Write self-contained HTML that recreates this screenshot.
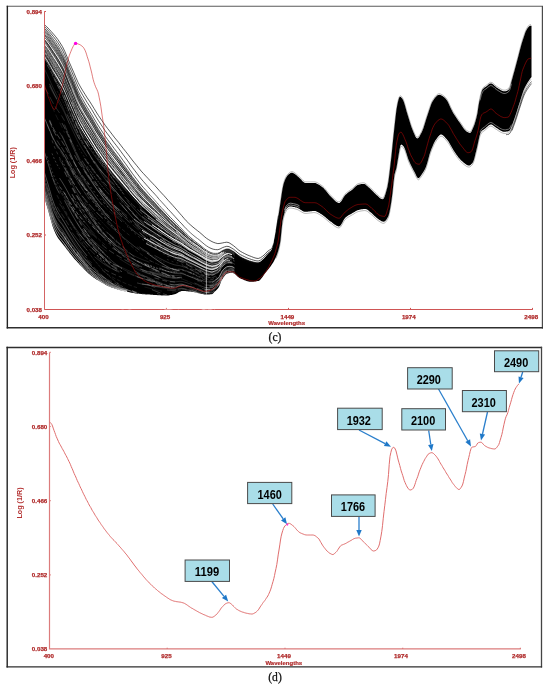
<!DOCTYPE html>
<html><head><meta charset="utf-8"><title>Spectra</title>
<style>
html,body{margin:0;padding:0;background:#fff}
svg{display:block}
.t{font-family:"Liberation Sans",sans-serif;font-weight:bold;font-size:6.2px;fill:#b02c2c;stroke:#b02c2c;stroke-width:0.25px}
.w{font-family:"Liberation Sans",sans-serif;font-weight:bold;font-size:6px;fill:#b02c2c;stroke:#b02c2c;stroke-width:0.2px}
.yl{font-family:"Liberation Sans",sans-serif;font-weight:bold;font-size:7.2px;fill:#b43232}
.cap{font-family:"Liberation Serif",serif;font-size:11.6px;fill:#111;stroke:#111;stroke-width:0.25px}
.bx{fill:#a9dde8;stroke:#4a4a4a;stroke-width:1}
.bt{font-family:"Liberation Sans",sans-serif;font-weight:bold;font-size:11.9px;fill:#000}
.ar{stroke:#2a7fcc;stroke-width:1.3;fill:none}
.ah{fill:#1f78c8}
</style></head><body>
<svg width="550" height="688" viewBox="0 0 550 688">
<rect width="550" height="688" fill="#fff"/>

<g fill="none"><path d="M6.7,6.2 H543" stroke="#5a5a5a" stroke-width="1.1"/><path d="M542.4,6 V328.4" stroke="#4a4a4a" stroke-width="1.2"/><path d="M6.7,327.8 H543" stroke="#2e2e2e" stroke-width="1.5"/><path d="M7.35,5.8 V328.4" stroke="#222" stroke-width="1.4"/></g>
<g stroke="#cf5555" stroke-width="1" fill="none">
<path d="M44.5,11.5 V309.5 H532.8"/>
<path d="M44.5,11.5 h1.5"/>
<path d="M44.5,86 h1.5"/>
<path d="M44.5,160.5 h1.5"/>
<path d="M44.5,235 h1.5"/>
<path d="M166.4,309.5 v-1.6"/>
<path d="M288.5,309.5 v-1.6"/>
<path d="M410.5,309.5 v-1.6"/>
<path d="M532.5,309.5 v-1.6"/>
</g>
<polygon points="44.5,59.4 45.5,61.0 46.5,62.6 47.5,64.2 48.5,65.8 49.5,67.5 50.5,69.3 51.5,71.1 52.5,72.8 53.5,74.5 54.5,76.1 55.5,77.7 56.5,79.3 57.5,80.9 58.5,82.4 59.5,84.0 60.5,85.7 61.5,87.3 62.5,89.1 63.5,91.1 64.5,93.2 65.5,95.5 66.5,97.8 67.5,100.1 68.5,102.4 69.5,104.8 70.5,107.0 71.5,109.2 72.5,111.4 73.5,113.7 74.5,115.9 75.5,118.2 76.5,120.3 77.5,122.4 78.5,124.4 79.5,126.3 80.5,128.1 81.5,129.8 82.5,131.5 83.5,133.1 84.5,134.6 85.5,136.2 86.5,137.7 87.5,139.2 88.5,140.7 89.5,142.2 90.5,143.8 91.5,145.3 92.5,146.8 93.5,148.4 94.5,149.9 95.5,151.4 96.5,152.9 97.5,154.4 98.5,155.8 99.5,157.2 100.5,158.6 101.5,160.0 102.5,161.4 103.5,162.7 104.5,164.0 105.5,165.3 106.5,166.6 107.5,167.8 108.5,169.0 109.5,170.2 110.5,171.4 111.5,172.6 112.5,173.8 113.5,174.9 114.5,176.0 115.5,177.2 116.5,178.3 117.5,179.4 118.5,180.5 119.5,181.6 120.5,182.8 121.5,183.9 122.5,185.1 123.5,186.2 124.5,187.4 125.5,188.5 126.5,189.7 127.5,190.8 128.5,191.9 129.5,193.1 130.5,194.2 131.5,195.3 132.5,196.5 133.5,197.6 134.5,198.7 135.5,199.8 136.5,200.8 137.5,201.9 138.5,202.9 139.5,204.0 140.5,205.0 141.5,205.9 142.5,206.9 143.5,207.8 144.5,208.7 145.5,209.6 146.5,210.5 147.5,211.4 148.5,212.3 149.5,213.2 150.5,214.1 151.5,214.9 152.5,215.8 153.5,216.7 154.5,217.6 155.5,218.5 156.5,219.4 157.5,220.3 158.5,221.2 159.5,222.1 160.5,223.0 161.5,223.8 162.5,224.7 163.5,225.6 164.5,226.5 165.5,227.3 166.5,228.2 167.5,229.0 168.5,229.9 169.5,230.7 170.5,231.5 171.5,232.3 172.5,233.1 173.5,234.0 174.5,234.7 175.5,235.5 176.5,236.2 177.5,237.0 178.5,237.7 179.5,238.4 180.5,239.2 181.5,240.0 182.5,240.8 183.5,241.7 184.5,242.6 185.5,243.4 186.5,244.3 187.5,245.1 188.5,245.9 189.5,246.6 190.5,247.4 191.5,248.1 192.5,248.7 193.5,249.4 194.5,250.1 195.5,250.8 196.5,251.5 197.5,252.1 198.5,252.8 199.5,253.5 200.5,254.2 201.5,254.9 202.5,255.6 203.5,256.3 204.5,257.0 205.5,257.7 206.5,258.3 207.5,258.8 208.5,259.3 209.5,259.7 210.5,260.1 211.5,260.3 212.5,260.4 213.5,260.2 214.5,259.9 215.5,259.7 216.5,259.5 217.5,259.2 218.5,258.7 219.5,258.0 220.5,256.9 221.5,255.8 222.5,255.0 223.5,254.2 224.5,253.6 225.5,253.0 226.5,252.6 227.5,252.4 228.5,252.4 229.5,252.6 230.5,253.0 231.5,253.4 232.5,253.8 233.5,254.4 234.5,255.2 235.5,256.0 236.5,256.9 237.5,257.7 238.5,258.5 239.5,259.2 240.5,259.8 241.5,260.3 242.5,260.9 243.5,261.4 244.5,261.8 245.5,262.3 246.5,262.7 247.5,263.1 248.5,263.5 249.5,263.8 250.5,264.1 251.5,264.3 252.5,264.6 253.5,264.8 254.5,265.0 255.5,265.2 256.5,265.3 257.5,265.3 258.5,265.3 259.5,264.9 260.5,264.3 261.5,263.4 262.5,262.3 263.5,260.9 264.5,259.4 265.5,257.9 266.5,256.3 267.5,254.8 268.5,253.5 269.5,252.4 270.5,251.4 271.5,250.3 272.5,248.9 273.5,245.8 274.5,240.8 275.5,235.5 276.5,229.4 277.5,222.7 278.5,215.8 279.5,209.0 280.5,202.6 281.5,195.6 282.5,189.1 283.5,184.2 284.5,181.2 285.5,178.7 286.5,176.9 287.5,175.6 288.5,174.6 289.5,173.7 290.5,173.0 291.5,172.7 292.5,172.8 293.5,173.2 294.5,173.8 295.5,174.5 296.5,175.3 297.5,176.2 298.5,176.9 299.5,177.9 300.5,179.0 301.5,180.1 302.5,181.2 303.5,182.1 304.5,182.8 305.5,183.0 306.5,183.0 307.5,183.0 308.5,183.0 309.5,183.0 310.5,183.0 311.5,183.0 312.5,183.0 313.5,183.0 314.5,183.0 315.5,183.1 316.5,183.4 317.5,183.9 318.5,184.4 319.5,185.1 320.5,185.8 321.5,186.5 322.5,187.2 323.5,188.1 324.5,189.2 325.5,190.3 326.5,191.6 327.5,192.8 328.5,194.0 329.5,195.2 330.5,196.2 331.5,197.2 332.5,198.2 333.5,199.2 334.5,200.3 335.5,201.2 336.5,202.0 337.5,202.6 338.5,203.0 339.5,202.9 340.5,202.1 341.5,200.9 342.5,199.3 343.5,197.6 344.5,196.0 345.5,194.8 346.5,193.9 347.5,193.1 348.5,192.3 349.5,191.6 350.5,190.9 351.5,190.2 352.5,189.5 353.5,188.6 354.5,187.6 355.5,186.6 356.5,185.8 357.5,185.1 358.5,184.7 359.5,184.5 360.5,184.2 361.5,184.1 362.5,183.9 363.5,183.9 364.5,184.1 365.5,184.6 366.5,185.4 367.5,186.3 368.5,187.2 369.5,188.0 370.5,188.9 371.5,189.9 372.5,191.0 373.5,192.0 374.5,193.0 375.5,194.0 376.5,194.9 377.5,195.8 378.5,196.7 379.5,197.7 380.5,198.4 381.5,199.0 382.5,199.3 383.5,198.8 384.5,197.0 385.5,194.1 386.5,190.6 387.5,186.8 388.5,180.9 389.5,173.2 390.5,164.6 391.5,155.9 392.5,146.1 393.5,136.0 394.5,126.7 395.5,117.8 396.5,109.5 397.5,103.9 398.5,99.8 399.5,97.1 400.5,96.8 401.5,97.7 402.5,99.0 403.5,100.9 404.5,103.9 405.5,107.5 406.5,111.2 407.5,114.5 408.5,117.8 409.5,121.1 410.5,124.3 411.5,127.3 412.5,129.8 413.5,132.2 414.5,134.6 415.5,136.7 416.5,138.1 417.5,138.5 418.5,137.8 419.5,136.5 420.5,134.6 421.5,132.7 422.5,130.6 423.5,127.9 424.5,124.7 425.5,121.4 426.5,118.2 427.5,115.2 428.5,112.2 429.5,109.2 430.5,106.2 431.5,103.6 432.5,101.6 433.5,100.1 434.5,98.6 435.5,97.3 436.5,96.2 437.5,95.3 438.5,94.9 439.5,94.8 440.5,95.1 441.5,95.5 442.5,96.1 443.5,96.8 444.5,97.6 445.5,98.5 446.5,99.7 447.5,101.3 448.5,103.3 449.5,105.5 450.5,107.7 451.5,109.8 452.5,111.8 453.5,113.4 454.5,115.0 455.5,116.5 456.5,118.0 457.5,119.5 458.5,120.9 459.5,122.3 460.5,123.7 461.5,125.2 462.5,126.7 463.5,128.2 464.5,129.5 465.5,130.6 466.5,131.4 467.5,132.0 468.5,132.6 469.5,133.0 470.5,132.8 471.5,131.5 472.5,129.3 473.5,126.9 474.5,124.4 475.5,121.2 476.5,117.4 477.5,112.9 478.5,106.0 479.5,100.6 480.5,96.0 481.5,92.1 482.5,89.6 483.5,88.4 484.5,87.6 485.5,86.9 486.5,86.2 487.5,85.4 488.5,84.5 489.5,83.8 490.5,83.4 491.5,83.4 492.5,83.9 493.5,84.7 494.5,85.7 495.5,86.6 496.5,87.4 497.5,88.0 498.5,88.7 499.5,89.3 500.5,89.9 501.5,90.5 502.5,90.9 503.5,91.2 504.5,91.3 505.5,91.2 506.5,90.9 507.5,90.4 508.5,89.7 509.5,88.5 510.5,85.3 511.5,81.4 512.5,77.9 513.5,74.3 514.5,70.7 515.5,67.0 516.5,63.3 517.5,59.6 518.5,55.7 519.5,51.8 520.5,47.9 521.5,44.3 522.5,40.9 523.5,37.9 524.5,34.9 525.5,32.1 526.5,29.9 527.5,28.2 528.5,26.9 529.5,25.9 530.5,25.8 531.5,25.8 531.5,77.0 530.5,78.3 529.5,79.7 528.5,81.2 527.5,82.7 526.5,84.4 525.5,86.2 524.5,88.2 523.5,90.6 522.5,93.4 521.5,96.5 520.5,99.8 519.5,103.0 518.5,106.0 517.5,109.2 516.5,112.4 515.5,115.6 514.5,118.6 513.5,121.3 512.5,124.0 511.5,126.7 510.5,129.1 509.5,130.7 508.5,131.2 507.5,131.4 506.5,131.6 505.5,131.8 504.5,131.8 503.5,131.7 502.5,131.4 501.5,131.0 500.5,130.5 499.5,129.9 498.5,129.2 497.5,128.5 496.5,127.9 495.5,127.3 494.5,126.6 493.5,125.8 492.5,125.0 491.5,124.6 490.5,124.5 489.5,124.9 488.5,125.5 487.5,126.4 486.5,127.3 485.5,128.2 484.5,129.0 483.5,129.7 482.5,130.3 481.5,131.2 480.5,132.7 479.5,136.0 478.5,140.5 477.5,145.3 476.5,149.6 475.5,153.6 474.5,157.7 473.5,161.1 472.5,162.9 471.5,164.1 470.5,164.9 469.5,165.4 468.5,165.5 467.5,165.2 466.5,164.7 465.5,164.1 464.5,163.3 463.5,162.5 462.5,161.6 461.5,160.7 460.5,159.8 459.5,158.6 458.5,157.4 457.5,156.1 456.5,154.7 455.5,153.2 454.5,151.8 453.5,150.3 452.5,148.5 451.5,146.7 450.5,144.9 449.5,143.2 448.5,141.6 447.5,140.2 446.5,139.1 445.5,137.9 444.5,136.7 443.5,135.7 442.5,135.0 441.5,134.6 440.5,134.6 439.5,135.2 438.5,136.2 437.5,137.5 436.5,138.9 435.5,140.3 434.5,142.1 433.5,144.1 432.5,146.4 431.5,148.8 430.5,151.4 429.5,154.6 428.5,158.3 427.5,162.0 426.5,165.3 425.5,168.0 424.5,170.0 423.5,171.8 422.5,173.3 421.5,174.7 420.5,176.2 419.5,177.5 418.5,178.2 417.5,177.8 416.5,176.2 415.5,174.1 414.5,172.0 413.5,170.2 412.5,168.3 411.5,166.3 410.5,164.3 409.5,162.1 408.5,159.7 407.5,156.8 406.5,153.5 405.5,150.4 404.5,147.9 403.5,146.3 402.5,145.3 401.5,144.6 400.5,145.2 399.5,149.6 398.5,155.6 397.5,161.5 396.5,167.5 395.5,171.0 394.5,174.5 393.5,182.2 392.5,192.4 391.5,200.2 390.5,206.5 389.5,211.9 388.5,215.7 387.5,217.7 386.5,219.4 385.5,220.7 384.5,221.5 383.5,221.8 382.5,221.6 381.5,221.2 380.5,220.6 379.5,219.9 378.5,219.2 377.5,218.5 376.5,217.7 375.5,216.8 374.5,215.9 373.5,214.9 372.5,214.0 371.5,213.1 370.5,212.3 369.5,211.4 368.5,210.5 367.5,209.8 366.5,209.2 365.5,209.0 364.5,209.0 363.5,209.1 362.5,209.2 361.5,209.3 360.5,209.5 359.5,209.7 358.5,209.9 357.5,210.2 356.5,210.7 355.5,211.2 354.5,211.9 353.5,212.5 352.5,213.1 351.5,213.7 350.5,214.2 349.5,214.8 348.5,215.3 347.5,216.0 346.5,216.7 345.5,217.5 344.5,218.7 343.5,220.3 342.5,222.2 341.5,224.0 340.5,225.4 339.5,226.3 338.5,226.4 337.5,226.1 336.5,225.7 335.5,225.1 334.5,224.4 333.5,223.7 332.5,222.9 331.5,222.1 330.5,221.5 329.5,220.7 328.5,219.9 327.5,219.0 326.5,218.2 325.5,217.3 324.5,216.4 323.5,215.7 322.5,214.9 321.5,214.3 320.5,213.7 319.5,213.0 318.5,212.4 317.5,211.9 316.5,211.4 315.5,211.1 314.5,211.0 313.5,211.0 312.5,211.1 311.5,211.2 310.5,211.3 309.5,211.5 308.5,211.6 307.5,211.7 306.5,211.8 305.5,211.8 304.5,211.7 303.5,211.4 302.5,210.9 301.5,210.3 300.5,209.7 299.5,209.1 298.5,208.5 297.5,208.0 296.5,207.6 295.5,207.4 294.5,207.1 293.5,206.9 292.5,206.7 291.5,206.5 290.5,206.4 289.5,206.5 288.5,207.0 287.5,207.8 286.5,208.9 285.5,210.5 284.5,213.1 283.5,216.6 282.5,221.1 281.5,230.1 280.5,240.3 279.5,245.8 278.5,249.7 277.5,253.0 276.5,255.7 275.5,258.0 274.5,260.0 273.5,261.9 272.5,263.6 271.5,265.1 270.5,266.5 269.5,267.8 268.5,269.0 267.5,270.3 266.5,271.5 265.5,272.7 264.5,274.0 263.5,275.5 262.5,276.9 261.5,278.3 260.5,279.5 259.5,280.4 258.5,280.9 257.5,281.1 256.5,281.3 255.5,281.5 254.5,281.6 253.5,281.7 252.5,281.8 251.5,281.8 250.5,281.8 249.5,281.7 248.5,281.5 247.5,281.3 246.5,281.0 245.5,280.6 244.5,280.2 243.5,279.8 242.5,279.3 241.5,278.9 240.5,278.4 239.5,277.9 238.5,277.3 237.5,276.4 236.5,275.5 235.5,274.6 234.5,273.8 233.5,273.2 232.5,272.8 231.5,272.7 230.5,272.8 229.5,273.0 228.5,273.2 227.5,273.5 226.5,274.0 225.5,274.8 224.5,276.0 223.5,277.3 222.5,278.9 221.5,280.6 220.5,283.2 219.5,286.0 218.5,287.7 217.5,289.0 216.5,290.0 215.5,290.9 214.5,291.8 213.5,292.9 212.5,293.9 211.5,294.2 210.5,294.3 209.5,294.4 208.5,294.5 207.5,294.5 206.5,294.5 205.5,294.5 204.5,294.4 203.5,294.3 202.5,294.1 201.5,293.9 200.5,293.7 199.5,293.5 198.5,293.2 197.5,293.0 196.5,292.7 195.5,292.5 194.5,292.3 193.5,292.1 192.5,291.9 191.5,291.8 190.5,291.6 189.5,291.5 188.5,291.4 187.5,291.3 186.5,291.2 185.5,291.1 184.5,291.0 183.5,291.0 182.5,291.0 181.5,291.1 180.5,291.4 179.5,291.8 178.5,292.3 177.5,292.9 176.5,293.4 175.5,293.9 174.5,294.3 173.5,294.5 172.5,294.7 171.5,294.9 170.5,295.1 169.5,295.3 168.5,295.4 167.5,295.5 166.5,295.5 165.5,295.5 164.5,295.5 163.5,295.5 162.5,295.4 161.5,295.4 160.5,295.3 159.5,295.3 158.5,295.2 157.5,295.2 156.5,295.1 155.5,295.0 154.5,294.9 153.5,294.9 152.5,294.8 151.5,294.7 150.5,294.7 149.5,294.6 148.5,294.5 147.5,294.5 146.5,294.4 145.5,294.4 144.5,294.3 143.5,294.3 142.5,294.2 141.5,294.1 140.5,294.0 139.5,294.0 138.5,293.8 137.5,293.7 136.5,293.6 135.5,293.4 134.5,293.2 133.5,293.1 132.5,292.9 131.5,292.7 130.5,292.5 129.5,292.3 128.5,292.0 127.5,291.8 126.5,291.6 125.5,291.4 124.5,291.2 123.5,291.0 122.5,290.7 121.5,290.5 120.5,290.2 119.5,289.9 118.5,289.6 117.5,289.4 116.5,289.1 115.5,288.8 114.5,288.4 113.5,288.1 112.5,287.8 111.5,287.4 110.5,287.0 109.5,286.6 108.5,286.2 107.5,285.7 106.5,285.2 105.5,284.7 104.5,284.1 103.5,283.6 102.5,283.0 101.5,282.4 100.5,281.8 99.5,281.2 98.5,280.6 97.5,280.0 96.5,279.4 95.5,278.7 94.5,278.0 93.5,277.4 92.5,276.6 91.5,275.9 90.5,275.1 89.5,274.3 88.5,273.4 87.5,272.4 86.5,271.5 85.5,270.5 84.5,269.5 83.5,268.5 82.5,267.5 81.5,266.5 80.5,265.4 79.5,264.4 78.5,263.3 77.5,262.2 76.5,261.1 75.5,260.0 74.5,258.9 73.5,257.7 72.5,256.5 71.5,255.3 70.5,254.1 69.5,252.9 68.5,251.6 67.5,250.2 66.5,248.9 65.5,247.5 64.5,246.2 63.5,244.9 62.5,243.7 61.5,242.5 60.5,241.3 59.5,240.1 58.5,238.8 57.5,237.2 56.5,235.4 55.5,233.4 54.5,231.2 53.5,228.7 52.5,225.9 51.5,222.6 50.5,219.0 49.5,215.4 48.5,211.7 47.5,208.3 46.5,204.9 45.5,201.4 44.5,198.0" fill="#000"/>
<g fill="none" stroke="#000" stroke-width="0.65"><path d="M44.5,24.8 L46.8,26.8 L49.0,29.1 L51.2,31.5 L53.5,34.1 L55.8,36.8 L58.0,39.7 L60.2,43.0 L62.5,46.7 L64.8,51.4 L67.0,56.7 L69.2,62.1 L71.5,67.3 L73.8,72.6 L76.0,77.8 L78.2,82.7 L80.5,87.0 L82.8,90.8 L85.0,94.3 L87.2,97.8 L89.5,101.2 L91.8,104.8 L94.0,108.4 L96.2,112.0 L98.5,115.6 L100.8,119.0 L103.0,122.2 L105.2,125.3 L107.5,128.4 L109.8,131.3 L112.0,134.2 L114.2,137.1 L116.5,139.9 L118.8,142.7 L121.0,145.6 L123.2,148.4 L125.5,151.3 L127.8,154.2 L130.0,157.1 L132.2,160.0 L134.5,162.9 L136.8,165.7 L139.0,168.4 L141.2,171.1 L143.5,173.6 L145.8,176.1 L148.0,178.4 L150.2,180.8 L152.5,183.2 L154.8,185.6 L157.0,188.0 L159.2,190.5 L161.5,193.0 L163.8,195.4 L166.0,197.9 L168.2,200.4 L170.5,202.9 L172.8,205.4 L175.0,207.9 L177.2,210.4 L179.5,213.1 L181.8,215.7 L184.0,218.3 L186.2,220.8 L188.5,223.1 L190.8,225.2 L193.0,227.1 L195.2,228.9 L197.5,230.7 L199.8,232.5 L202.0,234.4 L204.2,236.4 L206.5,238.3 L208.8,239.8 L211.0,241.1 L213.2,242.2 L215.5,243.0 L217.8,243.6 L220.0,243.4 L222.2,243.0 L224.5,242.5 L226.8,242.2 L229.0,242.7 L231.2,244.1 L233.5,245.7 L235.8,247.6 L238.0,249.6 L240.2,251.2 L242.5,252.5 L244.8,253.7 L247.0,254.8 L249.2,255.7 L251.5,256.6 L253.8,257.5 L256.0,258.2 L258.2,258.5 L260.5,257.7 L262.8,256.1 L265.0,254.2 L267.2,251.7 L269.5,250.0 L271.8,248.7 L274.0,242.8 L276.2,230.5 L278.5,215.6"/><path d="M44.5,26.7 L46.8,28.9 L49.0,31.3 L51.2,33.9 L53.5,36.7 L55.8,39.7 L58.0,42.8 L60.2,46.2 L62.5,50.1 L64.8,54.9 L67.0,60.3 L69.2,65.9 L71.5,71.2 L73.8,76.6 L76.0,82.0 L78.2,87.0 L80.5,91.3 L82.8,95.3 L85.0,98.9 L87.2,102.5 L89.5,106.0 L91.8,109.7 L94.0,113.4 L96.2,117.1 L98.5,120.8 L100.8,124.2 L103.0,127.6 L105.2,130.8 L107.5,133.9 L109.8,136.9 L112.0,139.9 L114.2,142.8 L116.5,145.7 L118.8,148.7 L121.0,151.7 L123.2,154.7 L125.5,157.8 L127.8,160.9 L130.0,164.1 L132.2,167.2 L134.5,170.2 L136.8,173.2 L139.0,176.1 L141.2,178.9 L143.5,181.6 L145.8,184.2 L148.0,186.7 L150.2,189.2 L152.5,191.7 L154.8,194.2 L157.0,196.7 L159.2,199.3 L161.5,201.8 L163.8,204.3 L166.0,206.8 L168.2,209.3 L170.5,211.7 L172.8,214.2 L175.0,216.6 L177.2,219.0 L179.5,221.5 L181.8,223.9 L184.0,226.4 L186.2,228.8 L188.5,231.0 L190.8,233.1 L193.0,235.0 L195.2,236.8 L197.5,238.5 L199.8,240.3 L202.0,242.2 L204.2,244.1 L206.5,245.8 L208.8,247.3 L211.0,248.4 L213.2,249.2 L215.5,249.6 L217.8,249.7 L220.0,249.0 L222.2,247.8 L224.5,246.9 L226.8,246.3 L229.0,246.6 L231.2,247.8 L233.5,249.2 L235.8,251.0 L238.0,252.9 L240.2,254.5 L242.5,255.7 L244.8,256.8 L247.0,257.9 L249.2,258.7 L251.5,259.5 L253.8,260.2 L256.0,260.8 L258.2,261.0 L260.5,260.1 L262.8,258.3 L265.0,256.2 L267.2,253.7 L269.5,251.9 L271.8,250.3 L274.0,244.6 L276.2,233.1 L278.5,219.0"/><path d="M44.5,28.5 L46.8,30.9 L49.0,33.5 L51.2,36.3 L53.5,39.4 L55.8,42.5 L58.0,45.8 L60.2,49.4 L62.5,53.5 L64.8,58.4 L67.0,64.0 L69.2,69.7 L71.5,75.1 L73.8,80.6 L76.0,86.1 L78.2,91.2 L80.5,95.7 L82.8,99.7 L85.0,103.5 L87.2,107.2 L89.5,110.9 L91.8,114.7 L94.0,118.5 L96.2,122.2 L98.5,125.9 L100.8,129.5 L103.0,132.9 L105.2,136.2 L107.5,139.4 L109.8,142.5 L112.0,145.5 L114.2,148.5 L116.5,151.5 L118.8,154.5 L121.0,157.5 L123.2,160.6 L125.5,163.7 L127.8,166.9 L130.0,170.1 L132.2,173.2 L134.5,176.3 L136.8,179.3 L139.0,182.2 L141.2,185.0 L143.5,187.7 L145.8,190.3 L148.0,192.8 L150.2,195.3 L152.5,197.7 L154.8,200.3 L157.0,202.8 L159.2,205.3 L161.5,207.8 L163.8,210.2 L166.0,212.7 L168.2,215.1 L170.5,217.5 L172.8,219.8 L175.0,222.1 L177.2,224.4 L179.5,226.7 L181.8,229.0 L184.0,231.4 L186.2,233.7 L188.5,235.9 L190.8,237.8 L193.0,239.7 L195.2,241.4 L197.5,243.2 L199.8,244.9 L202.0,246.8 L204.2,248.6 L206.5,250.2 L208.8,251.6 L211.0,252.6 L213.2,253.3 L215.5,253.4 L217.8,253.3 L220.0,252.3 L222.2,250.7 L224.5,249.6 L226.8,248.9 L229.0,249.0 L231.2,250.1 L233.5,251.4 L235.8,253.2 L238.0,255.1 L240.2,256.6 L242.5,257.9 L244.8,259.0 L247.0,260.0 L249.2,260.8 L251.5,261.5 L253.8,262.1 L256.0,262.7 L258.2,262.8 L260.5,261.9 L262.8,260.0 L265.0,257.8 L267.2,255.2 L269.5,253.3 L271.8,251.6 L274.0,246.1 L276.2,235.2 L278.5,221.7"/><path d="M44.5,30.0 L46.8,32.4 L49.0,35.1 L51.2,38.1 L53.5,41.3 L55.8,44.6 L58.0,48.0 L60.2,51.7 L62.5,55.9 L64.8,60.9 L67.0,66.5 L69.2,72.2 L71.5,77.7 L73.8,83.3 L76.0,88.8 L78.2,94.0 L80.5,98.5 L82.8,102.7 L85.0,106.5 L87.2,110.2 L89.5,114.0 L91.8,117.8 L94.0,121.7 L96.2,125.5 L98.5,129.3 L100.8,132.9 L103.0,136.3 L105.2,139.7 L107.5,142.9 L109.8,146.0 L112.0,149.1 L114.2,152.1 L116.5,155.1 L118.8,158.1 L121.0,161.1 L123.2,164.2 L125.5,167.2 L127.8,170.3 L130.0,173.4 L132.2,176.5 L134.5,179.5 L136.8,182.5 L139.0,185.3 L141.2,188.1 L143.5,190.7 L145.8,193.2 L148.0,195.7 L150.2,198.1 L152.5,200.5 L154.8,203.0 L157.0,205.5 L159.2,207.9 L161.5,210.3 L163.8,212.7 L166.0,215.1 L168.2,217.5 L170.5,219.8 L172.8,222.1 L175.0,224.3 L177.2,226.5 L179.5,228.7 L181.8,230.9 L184.0,233.2 L186.2,235.5 L188.5,237.6 L190.8,239.5 L193.0,241.3 L195.2,243.0 L197.5,244.7 L199.8,246.5 L202.0,248.3 L204.2,250.1 L206.5,251.7 L208.8,253.0 L211.0,254.0 L213.2,254.5 L215.5,254.6 L217.8,254.4 L220.0,253.3 L222.2,251.6 L224.5,250.4 L226.8,249.6 L229.0,249.8 L231.2,250.8 L233.5,252.0 L235.8,253.9 L238.0,255.8 L240.2,257.3 L242.5,258.5 L244.8,259.6 L247.0,260.6 L249.2,261.5 L251.5,262.1 L253.8,262.8 L256.0,263.2 L258.2,263.4 L260.5,262.4 L262.8,260.5 L265.0,258.3 L267.2,255.7 L269.5,253.8 L271.8,252.0 L274.0,246.5 L276.2,235.8 L278.5,222.6"/><path d="M44.5,61.6 L46.8,65.2 L49.0,69.1 L51.2,73.2 L53.5,77.4 L55.8,81.3 L58.0,85.1 L60.2,88.9 L62.5,93.0 L64.8,97.9 L67.0,103.2 L69.2,108.7 L71.5,113.9 L73.8,119.1 L76.0,124.2 L78.2,129.1 L80.5,133.4 L82.8,137.4 L85.0,141.1 L87.2,144.8 L89.5,148.4 L91.8,152.1 L94.0,155.7 L96.2,159.2 L98.5,162.6 L100.8,166.0 L103.0,169.2 L105.2,172.3 L107.5,175.2 L109.8,178.1 L112.0,180.9 L114.2,183.6 L116.5,186.2 L118.8,188.8 L121.0,191.4 L123.2,193.9 L125.5,196.5 L127.8,199.0 L130.0,201.6 L132.2,204.0 L134.5,206.5 L136.8,208.9 L139.0,211.1 L141.2,213.3 L143.5,215.4 L145.8,217.4 L148.0,219.3 L150.2,221.2 L152.5,223.2 L154.8,225.1 L157.0,227.0 L159.2,229.0 L161.5,230.9 L163.8,232.7 L166.0,234.6 L168.2,236.4 L170.5,238.1 L172.8,239.7 L175.0,241.3 L177.2,242.7 L179.5,244.1 L181.8,245.6 L184.0,247.4 L186.2,249.1 L188.5,250.8 L190.8,252.4 L193.0,253.8 L195.2,255.2 L197.5,256.7 L199.8,258.2 L202.0,259.6 L204.2,261.1 L206.5,262.3 L208.8,263.3 L211.0,264.0 L213.2,264.2 L215.5,263.6 L217.8,262.9 L220.0,261.1 L222.2,258.5 L224.5,256.7 L226.8,255.6 L229.0,255.5 L231.2,256.2 L233.5,257.2 L235.8,259.0 L238.0,260.9 L240.2,262.4 L242.5,263.6 L244.8,264.7 L247.0,265.6 L249.2,266.4 L251.5,266.9 L253.8,267.3 L256.0,267.6 L258.2,267.6 L260.5,266.5 L262.8,264.3 L265.0,261.9 L267.2,259.2 L269.5,257.1 L271.8,255.0 L274.0,250.0 L276.2,240.7 L278.5,229.1"/><path d="M44.5,60.9 L46.8,64.5 L49.0,68.3 L51.2,72.5 L53.5,76.7 L55.8,80.6 L58.0,84.4 L60.2,88.2 L62.5,92.3 L64.8,97.2 L67.0,102.6 L69.2,108.0 L71.5,113.2 L73.8,118.5 L76.0,123.7 L78.2,128.5 L80.5,132.9 L82.8,136.9 L85.0,140.6 L87.2,144.3 L89.5,147.9 L91.8,151.6 L94.0,155.2 L96.2,158.8 L98.5,162.2 L100.8,165.6 L103.0,168.8 L105.2,171.9 L107.5,174.9 L109.8,177.8 L112.0,180.5 L114.2,183.3 L116.5,185.9 L118.8,188.5 L121.0,191.0 L123.2,193.5 L125.5,196.1 L127.8,198.5 L130.0,201.0 L132.2,203.4 L134.5,205.8 L136.8,208.1 L139.0,210.3 L141.2,212.5 L143.5,214.5 L145.8,216.4 L148.0,218.3 L150.2,220.2 L152.5,222.1 L154.8,224.0 L157.0,225.9 L159.2,227.8 L161.5,229.6 L163.8,231.5 L166.0,233.3 L168.2,235.1 L170.5,236.8 L172.8,238.4 L175.0,240.0 L177.2,241.4 L179.5,242.8 L181.8,244.4 L184.0,246.1 L186.2,247.9 L188.5,249.6 L190.8,251.1 L193.0,252.5 L195.2,254.0 L197.5,255.4 L199.8,256.9 L202.0,258.3 L204.2,259.8 L206.5,261.1 L208.8,262.0 L211.0,262.8 L213.2,263.0 L215.5,262.5 L217.8,261.9 L220.0,260.1 L222.2,257.6 L224.5,255.9 L226.8,254.9 L229.0,254.8 L231.2,255.5 L233.5,256.6 L235.8,258.4 L238.0,260.3 L240.2,261.8 L242.5,263.0 L244.8,264.0 L247.0,265.0 L249.2,265.8 L251.5,266.3 L253.8,266.8 L256.0,267.1 L258.2,267.1 L260.5,266.0 L262.8,263.9 L265.0,261.4 L267.2,258.8 L269.5,256.7 L271.8,254.6 L274.0,249.5 L276.2,240.1 L278.5,228.2"/><path d="M44.5,60.4 L46.8,63.9 L49.0,67.8 L51.2,71.9 L53.5,76.0 L55.8,79.9 L58.0,83.7 L60.2,87.6 L62.5,91.7 L64.8,96.5 L67.0,101.9 L69.2,107.4 L71.5,112.6 L73.8,117.8 L76.0,123.0 L78.2,127.8 L80.5,132.2 L82.8,136.2 L85.0,139.9 L87.2,143.6 L89.5,147.2 L91.8,150.9 L94.0,154.5 L96.2,158.1 L98.5,161.5 L100.8,164.9 L103.0,168.1 L105.2,171.2 L107.5,174.2 L109.8,177.1 L112.0,179.8 L114.2,182.6 L116.5,185.2 L118.8,187.8 L121.0,190.3 L123.2,192.9 L125.5,195.4 L127.8,197.9 L130.0,200.4 L132.2,202.8 L134.5,205.2 L136.8,207.5 L139.0,209.8 L141.2,211.9 L143.5,213.9 L145.8,215.9 L148.0,217.8 L150.2,219.7 L152.5,221.6 L154.8,223.5 L157.0,225.4 L159.2,227.3 L161.5,229.2 L163.8,231.1 L166.0,232.9 L168.2,234.7 L170.5,236.4 L172.8,238.1 L175.0,239.6 L177.2,241.1 L179.5,242.5 L181.8,244.1 L184.0,245.8 L186.2,247.6 L188.5,249.3 L190.8,250.8 L193.0,252.3 L195.2,253.7 L197.5,255.2 L199.8,256.6 L202.0,258.1 L204.2,259.6 L206.5,260.9 L208.8,261.8 L211.0,262.6 L213.2,262.8 L215.5,262.3 L217.8,261.7 L220.0,260.0 L222.2,257.5 L224.5,255.8 L226.8,254.8 L229.0,254.7 L231.2,255.4 L233.5,256.5 L235.8,258.3 L238.0,260.2 L240.2,261.7 L242.5,262.9 L244.8,263.9 L247.0,264.9 L249.2,265.7 L251.5,266.2 L253.8,266.7 L256.0,267.0 L258.2,267.0 L260.5,265.9 L262.8,263.8 L265.0,261.4 L267.2,258.7 L269.5,256.6 L271.8,254.6 L274.0,249.5 L276.2,240.0 L278.5,228.1"/><path d="M44.5,59.8 L46.8,63.3 L49.0,67.0 L51.2,71.1 L53.5,75.2 L55.8,78.9 L58.0,82.7 L60.2,86.4 L62.5,90.5 L64.8,95.3 L67.0,100.6 L69.2,106.0 L71.5,111.1 L73.8,116.3 L76.0,121.4 L78.2,126.3 L80.5,130.6 L82.8,134.5 L85.0,138.2 L87.2,141.8 L89.5,145.4 L91.8,149.0 L94.0,152.6 L96.2,156.1 L98.5,159.5 L100.8,162.8 L103.0,166.0 L105.2,169.0 L107.5,172.0 L109.8,174.8 L112.0,177.6 L114.2,180.3 L116.5,182.9 L118.8,185.6 L121.0,188.2 L123.2,190.8 L125.5,193.4 L127.8,196.0 L130.0,198.6 L132.2,201.2 L134.5,203.7 L136.8,206.2 L139.0,208.5 L141.2,210.8 L143.5,212.9 L145.8,215.0 L148.0,217.0 L150.2,219.0 L152.5,221.0 L154.8,223.0 L157.0,225.0 L159.2,227.0 L161.5,228.9 L163.8,230.9 L166.0,232.8 L168.2,234.7 L170.5,236.4 L172.8,238.2 L175.0,239.8 L177.2,241.3 L179.5,242.8 L181.8,244.4 L184.0,246.2 L186.2,248.0 L188.5,249.7 L190.8,251.3 L193.0,252.8 L195.2,254.3 L197.5,255.7 L199.8,257.2 L202.0,258.8 L204.2,260.2 L206.5,261.5 L208.8,262.5 L211.0,263.3 L213.2,263.5 L215.5,263.0 L217.8,262.3 L220.0,260.5 L222.2,258.0 L224.5,256.3 L226.8,255.2 L229.0,255.1 L231.2,255.8 L233.5,256.9 L235.8,258.6 L238.0,260.6 L240.2,262.1 L242.5,263.2 L244.8,264.3 L247.0,265.2 L249.2,266.0 L251.5,266.5 L253.8,267.0 L256.0,267.3 L258.2,267.3 L260.5,266.2 L262.8,264.1 L265.0,261.6 L267.2,259.0 L269.5,256.9 L271.8,254.8 L274.0,249.7 L276.2,240.3 L278.5,228.6"/><path d="M44.5,58.8 L46.8,62.3 L49.0,66.0 L51.2,70.0 L53.5,74.0 L55.8,77.7 L58.0,81.4 L60.2,85.2 L62.5,89.2 L64.8,94.0 L67.0,99.3 L69.2,104.7 L71.5,109.9 L73.8,115.1 L76.0,120.2 L78.2,125.0 L80.5,129.3 L82.8,133.3 L85.0,137.0 L87.2,140.5 L89.5,144.1 L91.8,147.7 L94.0,151.3 L96.2,154.8 L98.5,158.3 L100.8,161.6 L103.0,164.8 L105.2,167.8 L107.5,170.8 L109.8,173.6 L112.0,176.4 L114.2,179.1 L116.5,181.7 L118.8,184.3 L121.0,186.9 L123.2,189.4 L125.5,192.0 L127.8,194.5 L130.0,197.1 L132.2,199.6 L134.5,202.0 L136.8,204.4 L139.0,206.7 L141.2,208.9 L143.5,211.0 L145.8,213.0 L148.0,215.0 L150.2,216.9 L152.5,218.9 L154.8,220.8 L157.0,222.8 L159.2,224.8 L161.5,226.7 L163.8,228.6 L166.0,230.5 L168.2,232.4 L170.5,234.2 L172.8,235.9 L175.0,237.5 L177.2,239.1 L179.5,240.6 L181.8,242.2 L184.0,244.1 L186.2,245.9 L188.5,247.6 L190.8,249.2 L193.0,250.7 L195.2,252.2 L197.5,253.6 L199.8,255.1 L202.0,256.7 L204.2,258.2 L206.5,259.5 L208.8,260.5 L211.0,261.3 L213.2,261.5 L215.5,261.1 L217.8,260.6 L220.0,259.0 L222.2,256.6 L224.5,255.0 L226.8,254.0 L229.0,254.0 L231.2,254.7 L233.5,255.8 L235.8,257.6 L238.0,259.5 L240.2,261.0 L242.5,262.2 L244.8,263.3 L247.0,264.2 L249.2,265.0 L251.5,265.6 L253.8,266.1 L256.0,266.4 L258.2,266.4 L260.5,265.4 L262.8,263.3 L265.0,260.9 L267.2,258.3 L269.5,256.2 L271.8,254.2 L274.0,249.0 L276.2,239.4 L278.5,227.3"/><path d="M44.5,57.8 L46.8,61.2 L49.0,64.9 L51.2,68.9 L53.5,72.9 L55.8,76.6 L58.0,80.4 L60.2,84.1 L62.5,88.2 L64.8,93.0 L67.0,98.4 L69.2,103.8 L71.5,109.0 L73.8,114.2 L76.0,119.4 L78.2,124.2 L80.5,128.6 L82.8,132.5 L85.0,136.3 L87.2,139.9 L89.5,143.5 L91.8,147.1 L94.0,150.7 L96.2,154.3 L98.5,157.7 L100.8,161.1 L103.0,164.3 L105.2,167.3 L107.5,170.3 L109.8,173.2 L112.0,176.0 L114.2,178.7 L116.5,181.4 L118.8,184.0 L121.0,186.6 L123.2,189.1 L125.5,191.7 L127.8,194.3 L130.0,196.8 L132.2,199.3 L134.5,201.8 L136.8,204.2 L139.0,206.5 L141.2,208.7 L143.5,210.8 L145.8,212.9 L148.0,214.8 L150.2,216.8 L152.5,218.7 L154.8,220.7 L157.0,222.7 L159.2,224.7 L161.5,226.6 L163.8,228.5 L166.0,230.5 L168.2,232.3 L170.5,234.1 L172.8,235.8 L175.0,237.5 L177.2,239.0 L179.5,240.6 L181.8,242.2 L184.0,244.1 L186.2,245.9 L188.5,247.6 L190.8,249.2 L193.0,250.7 L195.2,252.2 L197.5,253.7 L199.8,255.2 L202.0,256.7 L204.2,258.2 L206.5,259.5 L208.8,260.5 L211.0,261.3 L213.2,261.6 L215.5,261.2 L217.8,260.6 L220.0,259.0 L222.2,256.6 L224.5,255.0 L226.8,254.0 L229.0,254.0 L231.2,254.7 L233.5,255.8 L235.8,257.6 L238.0,259.5 L240.2,261.0 L242.5,262.2 L244.8,263.3 L247.0,264.3 L249.2,265.0 L251.5,265.6 L253.8,266.1 L256.0,266.4 L258.2,266.4 L260.5,265.4 L262.8,263.3 L265.0,260.9 L267.2,258.3 L269.5,256.2 L271.8,254.2 L274.0,249.0 L276.2,239.4 L278.5,227.3"/><path d="M44.5,55.6 L46.8,58.9 L49.0,62.4 L51.2,66.3 L53.5,70.1 L55.8,73.8 L58.0,77.4 L60.2,81.1 L62.5,85.1 L64.8,89.9 L67.0,95.2 L69.2,100.6 L71.5,105.7 L73.8,110.9 L76.0,116.0 L78.2,120.9 L80.5,125.2 L82.8,129.1 L85.0,132.7 L87.2,136.3 L89.5,139.9 L91.8,143.5 L94.0,147.1 L96.2,150.6 L98.5,154.0 L100.8,157.3 L103.0,160.5 L105.2,163.6 L107.5,166.5 L109.8,169.4 L112.0,172.2 L114.2,174.9 L116.5,177.6 L118.8,180.2 L121.0,182.9 L123.2,185.5 L125.5,188.2 L127.8,190.9 L130.0,193.6 L132.2,196.2 L134.5,198.8 L136.8,201.3 L139.0,203.8 L141.2,206.1 L143.5,208.3 L145.8,210.5 L148.0,212.5 L150.2,214.6 L152.5,216.7 L154.8,218.7 L157.0,220.8 L159.2,222.9 L161.5,224.9 L163.8,227.0 L166.0,229.0 L168.2,230.9 L170.5,232.8 L172.8,234.6 L175.0,236.3 L177.2,238.0 L179.5,239.6 L181.8,241.3 L184.0,243.2 L186.2,245.1 L188.5,246.9 L190.8,248.6 L193.0,250.1 L195.2,251.6 L197.5,253.2 L199.8,254.7 L202.0,256.3 L204.2,257.8 L206.5,259.2 L208.8,260.2 L211.0,261.0 L213.2,261.3 L215.5,260.9 L217.8,260.4 L220.0,258.8 L222.2,256.4 L224.5,254.8 L226.8,253.8 L229.0,253.8 L231.2,254.6 L233.5,255.7 L235.8,257.5 L238.0,259.4 L240.2,260.9 L242.5,262.1 L244.8,263.2 L247.0,264.1 L249.2,264.9 L251.5,265.5 L253.8,266.0 L256.0,266.3 L258.2,266.3 L260.5,265.3 L262.8,263.2 L265.0,260.8 L267.2,258.2 L269.5,256.1 L271.8,254.1 L274.0,249.0 L276.2,239.2 L278.5,227.1"/><path d="M44.5,54.4 L46.8,57.7 L49.0,61.3 L51.2,65.2 L53.5,69.1 L55.8,72.8 L58.0,76.5 L60.2,80.3 L62.5,84.4 L64.8,89.3 L67.0,94.7 L69.2,100.2 L71.5,105.4 L73.8,110.7 L76.0,115.9 L78.2,120.8 L80.5,125.2 L82.8,129.2 L85.0,132.9 L87.2,136.6 L89.5,140.2 L91.8,143.9 L94.0,147.5 L96.2,151.1 L98.5,154.6 L100.8,158.0 L103.0,161.2 L105.2,164.4 L107.5,167.4 L109.8,170.3 L112.0,173.1 L114.2,175.9 L116.5,178.6 L118.8,181.2 L121.0,183.8 L123.2,186.4 L125.5,189.0 L127.8,191.6 L130.0,194.1 L132.2,196.6 L134.5,199.1 L136.8,201.5 L139.0,203.9 L141.2,206.1 L143.5,208.2 L145.8,210.2 L148.0,212.2 L150.2,214.2 L152.5,216.2 L154.8,218.2 L157.0,220.2 L159.2,222.2 L161.5,224.1 L163.8,226.1 L166.0,228.0 L168.2,229.9 L170.5,231.8 L172.8,233.5 L175.0,235.2 L177.2,236.9 L179.5,238.5 L181.8,240.2 L184.0,242.1 L186.2,243.9 L188.5,245.7 L190.8,247.3 L193.0,248.9 L195.2,250.4 L197.5,251.9 L199.8,253.4 L202.0,254.9 L204.2,256.5 L206.5,257.8 L208.8,258.9 L211.0,259.7 L213.2,260.0 L215.5,259.7 L217.8,259.2 L220.0,257.7 L222.2,255.5 L224.5,254.0 L226.8,253.0 L229.0,253.0 L231.2,253.8 L233.5,255.0 L235.8,256.8 L238.0,258.7 L240.2,260.2 L242.5,261.4 L244.8,262.5 L247.0,263.5 L249.2,264.2 L251.5,264.8 L253.8,265.3 L256.0,265.7 L258.2,265.8 L260.5,264.7 L262.8,262.7 L265.0,260.3 L267.2,257.7 L269.5,255.7 L271.8,253.7 L274.0,248.5 L276.2,238.6 L278.5,226.3"/><path d="M44.5,54.2 L46.8,57.5 L49.0,61.0 L51.2,64.9 L53.5,68.8 L55.8,72.5 L58.0,76.2 L60.2,79.9 L62.5,84.0 L64.8,88.9 L67.0,94.3 L69.2,99.7 L71.5,104.9 L73.8,110.2 L76.0,115.4 L78.2,120.3 L80.5,124.7 L82.8,128.7 L85.0,132.4 L87.2,136.0 L89.5,139.7 L91.8,143.3 L94.0,147.0 L96.2,150.5 L98.5,154.0 L100.8,157.4 L103.0,160.6 L105.2,163.8 L107.5,166.8 L109.8,169.7 L112.0,172.5 L114.2,175.3 L116.5,178.0 L118.8,180.7 L121.0,183.3 L123.2,186.0 L125.5,188.7 L127.8,191.4 L130.0,194.0 L132.2,196.7 L134.5,199.2 L136.8,201.8 L139.0,204.2 L141.2,206.5 L143.5,208.7 L145.8,210.8 L148.0,212.9 L150.2,215.0 L152.5,217.0 L154.8,219.1 L157.0,221.1 L159.2,223.2 L161.5,225.2 L163.8,227.3 L166.0,229.2 L168.2,231.2 L170.5,233.0 L172.8,234.9 L175.0,236.6 L177.2,238.2 L179.5,239.8 L181.8,241.5 L184.0,243.5 L186.2,245.3 L188.5,247.1 L190.8,248.8 L193.0,250.3 L195.2,251.8 L197.5,253.3 L199.8,254.9 L202.0,256.4 L204.2,258.0 L206.5,259.3 L208.8,260.4 L211.0,261.2 L213.2,261.4 L215.5,261.1 L217.8,260.5 L220.0,258.9 L222.2,256.5 L224.5,254.9 L226.8,253.9 L229.0,253.9 L231.2,254.6 L233.5,255.8 L235.8,257.6 L238.0,259.5 L240.2,261.0 L242.5,262.2 L244.8,263.2 L247.0,264.2 L249.2,265.0 L251.5,265.5 L253.8,266.0 L256.0,266.4 L258.2,266.4 L260.5,265.3 L262.8,263.3 L265.0,260.9 L267.2,258.2 L269.5,256.2 L271.8,254.2 L274.0,249.0 L276.2,239.3 L278.5,227.2"/><path d="M44.5,52.9 L46.8,56.0 L49.0,59.5 L51.2,63.2 L53.5,66.9 L55.8,70.5 L58.0,74.0 L60.2,77.7 L62.5,81.6 L64.8,86.4 L67.0,91.7 L69.2,97.1 L71.5,102.2 L73.8,107.4 L76.0,112.5 L78.2,117.3 L80.5,121.6 L82.8,125.5 L85.0,129.2 L87.2,132.7 L89.5,136.3 L91.8,139.8 L94.0,143.4 L96.2,146.9 L98.5,150.4 L100.8,153.7 L103.0,156.9 L105.2,159.9 L107.5,162.9 L109.8,165.7 L112.0,168.5 L114.2,171.2 L116.5,173.9 L118.8,176.7 L121.0,179.4 L123.2,182.1 L125.5,184.9 L127.8,187.7 L130.0,190.5 L132.2,193.2 L134.5,196.0 L136.8,198.6 L139.0,201.1 L141.2,203.6 L143.5,205.9 L145.8,208.1 L148.0,210.3 L150.2,212.4 L152.5,214.6 L154.8,216.8 L157.0,218.9 L159.2,221.1 L161.5,223.2 L163.8,225.3 L166.0,227.4 L168.2,229.4 L170.5,231.4 L172.8,233.3 L175.0,235.1 L177.2,236.9 L179.5,238.6 L181.8,240.4 L184.0,242.4 L186.2,244.3 L188.5,246.2 L190.8,247.9 L193.0,249.4 L195.2,251.0 L197.5,252.6 L199.8,254.1 L202.0,255.8 L204.2,257.3 L206.5,258.7 L208.8,259.8 L211.0,260.6 L213.2,260.9 L215.5,260.6 L217.8,260.1 L220.0,258.5 L222.2,256.2 L224.5,254.6 L226.8,253.6 L229.0,253.6 L231.2,254.4 L233.5,255.5 L235.8,257.3 L238.0,259.2 L240.2,260.7 L242.5,261.9 L244.8,263.0 L247.0,263.9 L249.2,264.7 L251.5,265.3 L253.8,265.8 L256.0,266.1 L258.2,266.2 L260.5,265.1 L262.8,263.1 L265.0,260.7 L267.2,258.0 L269.5,256.0 L271.8,254.0 L274.0,248.8 L276.2,239.1 L278.5,226.9"/><path d="M44.5,51.2 L46.8,54.4 L49.0,57.8 L51.2,61.4 L53.5,65.2 L55.8,68.7 L58.0,72.3 L60.2,75.9 L62.5,79.9 L64.8,84.7 L67.0,90.1 L69.2,95.5 L71.5,100.7 L73.8,105.9 L76.0,111.1 L78.2,116.0 L80.5,120.3 L82.8,124.2 L85.0,127.9 L87.2,131.5 L89.5,135.0 L91.8,138.7 L94.0,142.3 L96.2,145.8 L98.5,149.3 L100.8,152.7 L103.0,155.9 L105.2,159.0 L107.5,161.9 L109.8,164.8 L112.0,167.6 L114.2,170.4 L116.5,173.1 L118.8,175.8 L121.0,178.6 L123.2,181.3 L125.5,184.1 L127.8,186.8 L130.0,189.6 L132.2,192.3 L134.5,195.0 L136.8,197.6 L139.0,200.2 L141.2,202.6 L143.5,204.9 L145.8,207.1 L148.0,209.3 L150.2,211.4 L152.5,213.5 L154.8,215.7 L157.0,217.9 L159.2,220.0 L161.5,222.1 L163.8,224.2 L166.0,226.3 L168.2,228.3 L170.5,230.3 L172.8,232.2 L175.0,234.1 L177.2,235.8 L179.5,237.5 L181.8,239.4 L184.0,241.4 L186.2,243.3 L188.5,245.2 L190.8,246.9 L193.0,248.5 L195.2,250.0 L197.5,251.6 L199.8,253.2 L202.0,254.8 L204.2,256.4 L206.5,257.8 L208.8,258.9 L211.0,259.7 L213.2,260.1 L215.5,259.8 L217.8,259.3 L220.0,257.8 L222.2,255.5 L224.5,254.0 L226.8,253.1 L229.0,253.1 L231.2,253.9 L233.5,255.0 L235.8,256.8 L238.0,258.7 L240.2,260.3 L242.5,261.4 L244.8,262.5 L247.0,263.5 L249.2,264.3 L251.5,264.9 L253.8,265.4 L256.0,265.8 L258.2,265.8 L260.5,264.8 L262.8,262.7 L265.0,260.3 L267.2,257.7 L269.5,255.7 L271.8,253.7 L274.0,248.5 L276.2,238.6 L278.5,226.3"/><path d="M44.5,50.1 L46.8,53.2 L49.0,56.6 L51.2,60.4 L53.5,64.2 L55.8,67.8 L58.0,71.5 L60.2,75.2 L62.5,79.3 L64.8,84.2 L67.0,89.7 L69.2,95.2 L71.5,100.5 L73.8,105.8 L76.0,111.1 L78.2,116.0 L80.5,120.4 L82.8,124.5 L85.0,128.2 L87.2,131.9 L89.5,135.5 L91.8,139.3 L94.0,142.9 L96.2,146.6 L98.5,150.1 L100.8,153.5 L103.0,156.8 L105.2,160.0 L107.5,163.0 L109.8,166.0 L112.0,168.9 L114.2,171.7 L116.5,174.4 L118.8,177.2 L121.0,179.9 L123.2,182.6 L125.5,185.4 L127.8,188.1 L130.0,190.9 L132.2,193.6 L134.5,196.2 L136.8,198.8 L139.0,201.3 L141.2,203.7 L143.5,205.9 L145.8,208.1 L148.0,210.2 L150.2,212.4 L152.5,214.5 L154.8,216.6 L157.0,218.7 L159.2,220.8 L161.5,222.9 L163.8,225.0 L166.0,227.1 L168.2,229.1 L170.5,231.0 L172.8,232.9 L175.0,234.7 L177.2,236.4 L179.5,238.1 L181.8,239.9 L184.0,241.9 L186.2,243.8 L188.5,245.6 L190.8,247.3 L193.0,248.9 L195.2,250.4 L197.5,252.0 L199.8,253.6 L202.0,255.2 L204.2,256.7 L206.5,258.1 L208.8,259.2 L211.0,260.0 L213.2,260.4 L215.5,260.1 L217.8,259.6 L220.0,258.0 L222.2,255.8 L224.5,254.2 L226.8,253.3 L229.0,253.3 L231.2,254.0 L233.5,255.2 L235.8,257.0 L238.0,258.9 L240.2,260.4 L242.5,261.6 L244.8,262.7 L247.0,263.6 L249.2,264.4 L251.5,265.0 L253.8,265.5 L256.0,265.9 L258.2,265.9 L260.5,264.9 L262.8,262.8 L265.0,260.4 L267.2,257.8 L269.5,255.8 L271.8,253.8 L274.0,248.6 L276.2,238.8 L278.5,226.5"/><path d="M44.5,49.2 L46.8,52.3 L49.0,55.6 L51.2,59.2 L53.5,62.9 L55.8,66.4 L58.0,69.9 L60.2,73.6 L62.5,77.6 L64.8,82.4 L67.0,87.7 L69.2,93.2 L71.5,98.4 L73.8,103.6 L76.0,108.8 L78.2,113.7 L80.5,118.1 L82.8,122.0 L85.0,125.7 L87.2,129.3 L89.5,132.8 L91.8,136.5 L94.0,140.1 L96.2,143.7 L98.5,147.2 L100.8,150.5 L103.0,153.8 L105.2,156.9 L107.5,159.9 L109.8,162.8 L112.0,165.6 L114.2,168.4 L116.5,171.1 L118.8,173.9 L121.0,176.6 L123.2,179.4 L125.5,182.2 L127.8,185.0 L130.0,187.8 L132.2,190.6 L134.5,193.3 L136.8,195.9 L139.0,198.5 L141.2,200.9 L143.5,203.3 L145.8,205.5 L148.0,207.7 L150.2,209.9 L152.5,212.0 L154.8,214.2 L157.0,216.4 L159.2,218.6 L161.5,220.8 L163.8,222.9 L166.0,225.0 L168.2,227.1 L170.5,229.1 L172.8,231.0 L175.0,232.9 L177.2,234.7 L179.5,236.5 L181.8,238.4 L184.0,240.4 L186.2,242.4 L188.5,244.3 L190.8,246.0 L193.0,247.6 L195.2,249.2 L197.5,250.8 L199.8,252.4 L202.0,254.0 L204.2,255.6 L206.5,257.0 L208.8,258.2 L211.0,259.0 L213.2,259.4 L215.5,259.2 L217.8,258.7 L220.0,257.2 L222.2,255.1 L224.5,253.6 L226.8,252.7 L229.0,252.7 L231.2,253.5 L233.5,254.7 L235.8,256.5 L238.0,258.4 L240.2,259.9 L242.5,261.1 L244.8,262.2 L247.0,263.1 L249.2,263.9 L251.5,264.5 L253.8,265.1 L256.0,265.4 L258.2,265.5 L260.5,264.5 L262.8,262.4 L265.0,260.1 L267.2,257.5 L269.5,255.4 L271.8,253.5 L274.0,248.3 L276.2,238.3 L278.5,225.9"/><path d="M44.5,47.7 L46.8,50.7 L49.0,54.0 L51.2,57.6 L53.5,61.2 L55.8,64.7 L58.0,68.3 L60.2,72.0 L62.5,76.0 L64.8,80.8 L67.0,86.2 L69.2,91.7 L71.5,96.9 L73.8,102.2 L76.0,107.5 L78.2,112.4 L80.5,116.7 L82.8,120.7 L85.0,124.4 L87.2,128.0 L89.5,131.6 L91.8,135.3 L94.0,138.9 L96.2,142.5 L98.5,146.0 L100.8,149.4 L103.0,152.7 L105.2,155.8 L107.5,158.8 L109.8,161.8 L112.0,164.6 L114.2,167.4 L116.5,170.2 L118.8,173.0 L121.0,175.7 L123.2,178.5 L125.5,181.3 L127.8,184.1 L130.0,186.9 L132.2,189.7 L134.5,192.4 L136.8,195.1 L139.0,197.6 L141.2,200.1 L143.5,202.4 L145.8,204.7 L148.0,206.9 L150.2,209.1 L152.5,211.2 L154.8,213.4 L157.0,215.6 L159.2,217.8 L161.5,220.0 L163.8,222.1 L166.0,224.3 L168.2,226.4 L170.5,228.4 L172.8,230.3 L175.0,232.2 L177.2,234.0 L179.5,235.9 L181.8,237.8 L184.0,239.8 L186.2,241.8 L188.5,243.7 L190.8,245.4 L193.0,247.1 L195.2,248.7 L197.5,250.2 L199.8,251.8 L202.0,253.5 L204.2,255.1 L206.5,256.5 L208.8,257.7 L211.0,258.6 L213.2,258.9 L215.5,258.7 L217.8,258.3 L220.0,256.9 L222.2,254.7 L224.5,253.3 L226.8,252.4 L229.0,252.4 L231.2,253.2 L233.5,254.4 L235.8,256.2 L238.0,258.1 L240.2,259.7 L242.5,260.8 L244.8,261.9 L247.0,262.9 L249.2,263.7 L251.5,264.3 L253.8,264.8 L256.0,265.2 L258.2,265.3 L260.5,264.3 L262.8,262.3 L265.0,259.9 L267.2,257.3 L269.5,255.3 L271.8,253.4 L274.0,248.1 L276.2,238.0 L278.5,225.6"/><path d="M44.5,46.4 L46.8,49.3 L49.0,52.5 L51.2,56.0 L53.5,59.6 L55.8,63.0 L58.0,66.5 L60.2,70.2 L62.5,74.2 L64.8,79.0 L67.0,84.4 L69.2,89.8 L71.5,95.0 L73.8,100.3 L76.0,105.6 L78.2,110.5 L80.5,114.8 L82.8,118.7 L85.0,122.4 L87.2,126.0 L89.5,129.6 L91.8,133.3 L94.0,136.9 L96.2,140.5 L98.5,144.0 L100.8,147.4 L103.0,150.7 L105.2,153.8 L107.5,156.8 L109.8,159.7 L112.0,162.6 L114.2,165.4 L116.5,168.1 L118.8,170.9 L121.0,173.7 L123.2,176.5 L125.5,179.3 L127.8,182.1 L130.0,185.0 L132.2,187.8 L134.5,190.5 L136.8,193.2 L139.0,195.8 L141.2,198.3 L143.5,200.7 L145.8,202.9 L148.0,205.2 L150.2,207.4 L152.5,209.6 L154.8,211.8 L157.0,214.0 L159.2,216.2 L161.5,218.4 L163.8,220.6 L166.0,222.8 L168.2,224.9 L170.5,226.9 L172.8,228.9 L175.0,230.9 L177.2,232.7 L179.5,234.6 L181.8,236.6 L184.0,238.6 L186.2,240.7 L188.5,242.6 L190.8,244.4 L193.0,246.0 L195.2,247.6 L197.5,249.2 L199.8,250.8 L202.0,252.5 L204.2,254.2 L206.5,255.6 L208.8,256.8 L211.0,257.7 L213.2,258.1 L215.5,257.9 L217.8,257.6 L220.0,256.2 L222.2,254.1 L224.5,252.7 L226.8,251.8 L229.0,251.9 L231.2,252.8 L233.5,254.0 L235.8,255.8 L238.0,257.7 L240.2,259.2 L242.5,260.4 L244.8,261.5 L247.0,262.5 L249.2,263.3 L251.5,263.9 L253.8,264.4 L256.0,264.8 L258.2,264.9 L260.5,263.9 L262.8,261.9 L265.0,259.6 L267.2,257.0 L269.5,255.0 L271.8,253.1 L274.0,247.8 L276.2,237.6 L278.5,225.0"/><path d="M44.5,45.1 L46.8,48.0 L49.0,51.2 L51.2,54.7 L53.5,58.3 L55.8,61.8 L58.0,65.3 L60.2,69.0 L62.5,73.0 L64.8,77.9 L67.0,83.3 L69.2,88.8 L71.5,94.1 L73.8,99.4 L76.0,104.7 L78.2,109.7 L80.5,114.0 L82.8,118.0 L85.0,121.8 L87.2,125.4 L89.5,129.0 L91.8,132.7 L94.0,136.4 L96.2,140.0 L98.5,143.6 L100.8,147.0 L103.0,150.3 L105.2,153.4 L107.5,156.5 L109.8,159.5 L112.0,162.3 L114.2,165.2 L116.5,168.0 L118.8,170.8 L121.0,173.6 L123.2,176.4 L125.5,179.2 L127.8,182.0 L130.0,184.9 L132.2,187.7 L134.5,190.4 L136.8,193.1 L139.0,195.7 L141.2,198.2 L143.5,200.6 L145.8,202.9 L148.0,205.1 L150.2,207.3 L152.5,209.5 L154.8,211.7 L157.0,214.0 L159.2,216.2 L161.5,218.4 L163.8,220.6 L166.0,222.7 L168.2,224.9 L170.5,226.9 L172.8,228.9 L175.0,230.9 L177.2,232.7 L179.5,234.6 L181.8,236.6 L184.0,238.6 L186.2,240.7 L188.5,242.6 L190.8,244.4 L193.0,246.0 L195.2,247.6 L197.5,249.2 L199.8,250.9 L202.0,252.5 L204.2,254.2 L206.5,255.6 L208.8,256.8 L211.0,257.7 L213.2,258.1 L215.5,257.9 L217.8,257.6 L220.0,256.2 L222.2,254.1 L224.5,252.7 L226.8,251.9 L229.0,251.9 L231.2,252.8 L233.5,254.0 L235.8,255.8 L238.0,257.7 L240.2,259.2 L242.5,260.4 L244.8,261.5 L247.0,262.5 L249.2,263.3 L251.5,263.9 L253.8,264.4 L256.0,264.9 L258.2,264.9 L260.5,263.9 L262.8,261.9 L265.0,259.6 L267.2,257.0 L269.5,255.0 L271.8,253.1 L274.0,247.8 L276.2,237.6 L278.5,225.0"/><path d="M44.5,42.6 L46.8,45.4 L49.0,48.5 L51.2,51.9 L53.5,55.4 L55.8,58.8 L58.0,62.3 L60.2,65.9 L62.5,70.0 L64.8,74.9 L67.0,80.3 L69.2,85.8 L71.5,91.1 L73.8,96.5 L76.0,101.8 L78.2,106.7 L80.5,111.1 L82.8,115.1 L85.0,118.8 L87.2,122.5 L89.5,126.1 L91.8,129.8 L94.0,133.5 L96.2,137.1 L98.5,140.7 L100.8,144.2 L103.0,147.4 L105.2,150.6 L107.5,153.7 L109.8,156.7 L112.0,159.6 L114.2,162.4 L116.5,165.3 L118.8,168.1 L121.0,170.9 L123.2,173.8 L125.5,176.7 L127.8,179.7 L130.0,182.6 L132.2,185.5 L134.5,188.4 L136.8,191.1 L139.0,193.8 L141.2,196.4 L143.5,198.9 L145.8,201.2 L148.0,203.5 L150.2,205.8 L152.5,208.1 L154.8,210.4 L157.0,212.7 L159.2,215.0 L161.5,217.2 L163.8,219.5 L166.0,221.7 L168.2,223.9 L170.5,226.0 L172.8,228.1 L175.0,230.1 L177.2,232.0 L179.5,234.0 L181.8,236.0 L184.0,238.1 L186.2,240.2 L188.5,242.2 L190.8,244.0 L193.0,245.6 L195.2,247.3 L197.5,248.9 L199.8,250.6 L202.0,252.3 L204.2,253.9 L206.5,255.4 L208.8,256.6 L211.0,257.5 L213.2,257.9 L215.5,257.8 L217.8,257.4 L220.0,256.1 L222.2,254.0 L224.5,252.6 L226.8,251.8 L229.0,251.8 L231.2,252.7 L233.5,253.9 L235.8,255.7 L238.0,257.6 L240.2,259.1 L242.5,260.3 L244.8,261.4 L247.0,262.4 L249.2,263.2 L251.5,263.8 L253.8,264.4 L256.0,264.8 L258.2,264.9 L260.5,263.8 L262.8,261.9 L265.0,259.5 L267.2,256.9 L269.5,254.9 L271.8,253.1 L274.0,247.8 L276.2,237.5 L278.5,224.9"/><path d="M44.5,41.0 L46.8,43.9 L49.0,47.0 L51.2,50.4 L53.5,54.0 L55.8,57.5 L58.0,61.1 L60.2,64.9 L62.5,69.0 L64.8,74.0 L67.0,79.5 L69.2,85.2 L71.5,90.6 L73.8,96.1 L76.0,101.5 L78.2,106.5 L80.5,111.0 L82.8,115.1 L85.0,119.0 L87.2,122.7 L89.5,126.4 L91.8,130.2 L94.0,134.0 L96.2,137.7 L98.5,141.4 L100.8,144.9 L103.0,148.3 L105.2,151.5 L107.5,154.7 L109.8,157.7 L112.0,160.7 L114.2,163.6 L116.5,166.5 L118.8,169.3 L121.0,172.2 L123.2,175.0 L125.5,177.9 L127.8,180.7 L130.0,183.5 L132.2,186.4 L134.5,189.1 L136.8,191.8 L139.0,194.4 L141.2,196.9 L143.5,199.3 L145.8,201.6 L148.0,203.8 L150.2,206.0 L152.5,208.2 L154.8,210.5 L157.0,212.7 L159.2,214.9 L161.5,217.1 L163.8,219.3 L166.0,221.5 L168.2,223.6 L170.5,225.7 L172.8,227.7 L175.0,229.7 L177.2,231.6 L179.5,233.5 L181.8,235.5 L184.0,237.6 L186.2,239.7 L188.5,241.6 L190.8,243.4 L193.0,245.1 L195.2,246.7 L197.5,248.3 L199.8,249.9 L202.0,251.6 L204.2,253.3 L206.5,254.7 L208.8,255.9 L211.0,256.8 L213.2,257.3 L215.5,257.2 L217.8,256.8 L220.0,255.5 L222.2,253.6 L224.5,252.2 L226.8,251.3 L229.0,251.4 L231.2,252.3 L233.5,253.5 L235.8,255.3 L238.0,257.2 L240.2,258.8 L242.5,260.0 L244.8,261.1 L247.0,262.0 L249.2,262.9 L251.5,263.5 L253.8,264.1 L256.0,264.5 L258.2,264.6 L260.5,263.6 L262.8,261.6 L265.0,259.3 L267.2,256.7 L269.5,254.7 L271.8,252.9 L274.0,247.5 L276.2,237.2 L278.5,224.4"/><path d="M44.5,40.0 L46.8,42.8 L49.0,45.9 L51.2,49.2 L53.5,52.8 L55.8,56.3 L58.0,59.8 L60.2,63.6 L62.5,67.8 L64.8,72.8 L67.0,78.3 L69.2,84.0 L71.5,89.4 L73.8,94.9 L76.0,100.3 L78.2,105.4 L80.5,109.9 L82.8,114.0 L85.0,117.8 L87.2,121.5 L89.5,125.3 L91.8,129.1 L94.0,132.9 L96.2,136.6 L98.5,140.3 L100.8,143.8 L103.0,147.2 L105.2,150.5 L107.5,153.6 L109.8,156.7 L112.0,159.7 L114.2,162.6 L116.5,165.5 L118.8,168.3 L121.0,171.2 L123.2,174.0 L125.5,176.9 L127.8,179.8 L130.0,182.6 L132.2,185.4 L134.5,188.2 L136.8,190.9 L139.0,193.5 L141.2,196.0 L143.5,198.4 L145.8,200.7 L148.0,203.0 L150.2,205.2 L152.5,207.4 L154.8,209.7 L157.0,211.9 L159.2,214.2 L161.5,216.4 L163.8,218.6 L166.0,220.8 L168.2,222.9 L170.5,225.0 L172.8,227.1 L175.0,229.1 L177.2,231.0 L179.5,232.9 L181.8,234.9 L184.0,237.1 L186.2,239.1 L188.5,241.1 L190.8,242.9 L193.0,244.6 L195.2,246.2 L197.5,247.8 L199.8,249.4 L202.0,251.1 L204.2,252.8 L206.5,254.3 L208.8,255.5 L211.0,256.4 L213.2,256.9 L215.5,256.8 L217.8,256.5 L220.0,255.2 L222.2,253.3 L224.5,251.9 L226.8,251.1 L229.0,251.2 L231.2,252.1 L233.5,253.3 L235.8,255.1 L238.0,257.0 L240.2,258.6 L242.5,259.8 L244.8,260.9 L247.0,261.8 L249.2,262.7 L251.5,263.3 L253.8,263.9 L256.0,264.3 L258.2,264.4 L260.5,263.4 L262.8,261.4 L265.0,259.1 L267.2,256.5 L269.5,254.6 L271.8,252.7 L274.0,247.4 L276.2,237.0 L278.5,224.2"/><path d="M44.5,39.7 L46.8,42.4 L49.0,45.5 L51.2,48.8 L53.5,52.2 L55.8,55.6 L58.0,59.0 L60.2,62.7 L62.5,66.8 L64.8,71.7 L67.0,77.2 L69.2,82.8 L71.5,88.1 L73.8,93.5 L76.0,98.9 L78.2,103.9 L80.5,108.4 L82.8,112.4 L85.0,116.2 L87.2,119.8 L89.5,123.5 L91.8,127.2 L94.0,131.0 L96.2,134.7 L98.5,138.3 L100.8,141.8 L103.0,145.1 L105.2,148.3 L107.5,151.4 L109.8,154.4 L112.0,157.4 L114.2,160.3 L116.5,163.1 L118.8,166.0 L121.0,168.8 L123.2,171.7 L125.5,174.6 L127.8,177.5 L130.0,180.4 L132.2,183.3 L134.5,186.1 L136.8,188.9 L139.0,191.6 L141.2,194.1 L143.5,196.6 L145.8,198.9 L148.0,201.2 L150.2,203.5 L152.5,205.7 L154.8,208.0 L157.0,210.3 L159.2,212.6 L161.5,214.9 L163.8,217.2 L166.0,219.4 L168.2,221.6 L170.5,223.7 L172.8,225.8 L175.0,227.9 L177.2,229.9 L179.5,231.8 L181.8,233.9 L184.0,236.1 L186.2,238.2 L188.5,240.2 L190.8,242.0 L193.0,243.7 L195.2,245.4 L197.5,247.0 L199.8,248.7 L202.0,250.4 L204.2,252.1 L206.5,253.6 L208.8,254.8 L211.0,255.8 L213.2,256.3 L215.5,256.2 L217.8,255.9 L220.0,254.7 L222.2,252.8 L224.5,251.5 L226.8,250.7 L229.0,250.8 L231.2,251.7 L233.5,253.0 L235.8,254.8 L238.0,256.7 L240.2,258.2 L242.5,259.4 L244.8,260.5 L247.0,261.5 L249.2,262.3 L251.5,263.0 L253.8,263.6 L256.0,264.0 L258.2,264.1 L260.5,263.1 L262.8,261.2 L265.0,258.9 L267.2,256.3 L269.5,254.3 L271.8,252.5 L274.0,247.2 L276.2,236.7 L278.5,223.8"/><path d="M44.5,37.2 L46.8,39.9 L49.0,42.8 L51.2,46.0 L53.5,49.3 L55.8,52.6 L58.0,56.1 L60.2,59.7 L62.5,63.8 L64.8,68.7 L67.0,74.2 L69.2,79.8 L71.5,85.1 L73.8,90.6 L76.0,95.9 L78.2,101.0 L80.5,105.4 L82.8,109.4 L85.0,113.2 L87.2,116.8 L89.5,120.5 L91.8,124.3 L94.0,128.0 L96.2,131.7 L98.5,135.3 L100.8,138.8 L103.0,142.2 L105.2,145.4 L107.5,148.5 L109.8,151.6 L112.0,154.5 L114.2,157.4 L116.5,160.3 L118.8,163.2 L121.0,166.2 L123.2,169.1 L125.5,172.1 L127.8,175.2 L130.0,178.2 L132.2,181.2 L134.5,184.2 L136.8,187.0 L139.0,189.8 L141.2,192.5 L143.5,195.1 L145.8,197.5 L148.0,199.9 L150.2,202.3 L152.5,204.6 L154.8,207.0 L157.0,209.4 L159.2,211.8 L161.5,214.1 L163.8,216.5 L166.0,218.8 L168.2,221.1 L170.5,223.3 L172.8,225.4 L175.0,227.6 L177.2,229.6 L179.5,231.7 L181.8,233.8 L184.0,236.0 L186.2,238.2 L188.5,240.2 L190.8,242.1 L193.0,243.8 L195.2,245.5 L197.5,247.2 L199.8,248.9 L202.0,250.6 L204.2,252.4 L206.5,253.9 L208.8,255.1 L211.0,256.1 L213.2,256.6 L215.5,256.5 L217.8,256.2 L220.0,255.0 L222.2,253.1 L224.5,251.7 L226.8,250.9 L229.0,251.0 L231.2,251.9 L233.5,253.1 L235.8,255.0 L238.0,256.9 L240.2,258.4 L242.5,259.6 L244.8,260.7 L247.0,261.7 L249.2,262.5 L251.5,263.1 L253.8,263.7 L256.0,264.2 L258.2,264.3 L260.5,263.3 L262.8,261.3 L265.0,259.0 L267.2,256.4 L269.5,254.5 L271.8,252.6 L274.0,247.3 L276.2,236.9 L278.5,224.0"/><path d="M44.5,35.5 L46.8,38.1 L49.0,41.0 L51.2,44.2 L53.5,47.6 L55.8,50.9 L58.0,54.4 L60.2,58.1 L62.5,62.2 L64.8,67.2 L67.0,72.8 L69.2,78.5 L71.5,83.9 L73.8,89.4 L76.0,94.8 L78.2,99.9 L80.5,104.4 L82.8,108.5 L85.0,112.3 L87.2,116.0 L89.5,119.7 L91.8,123.5 L94.0,127.3 L96.2,131.1 L98.5,134.8 L100.8,138.3 L103.0,141.7 L105.2,145.0 L107.5,148.2 L109.8,151.3 L112.0,154.3 L114.2,157.2 L116.5,160.1 L118.8,163.1 L121.0,166.0 L123.2,168.9 L125.5,171.9 L127.8,174.9 L130.0,177.9 L132.2,180.8 L134.5,183.7 L136.8,186.5 L139.0,189.3 L141.2,191.9 L143.5,194.4 L145.8,196.8 L148.0,199.2 L150.2,201.5 L152.5,203.8 L154.8,206.2 L157.0,208.5 L159.2,210.9 L161.5,213.2 L163.8,215.5 L166.0,217.8 L168.2,220.1 L170.5,222.3 L172.8,224.4 L175.0,226.6 L177.2,228.6 L179.5,230.7 L181.8,232.8 L184.0,235.0 L186.2,237.2 L188.5,239.2 L190.8,241.1 L193.0,242.8 L195.2,244.5 L197.5,246.2 L199.8,247.9 L202.0,249.6 L204.2,251.3 L206.5,252.9 L208.8,254.1 L211.0,255.1 L213.2,255.6 L215.5,255.6 L217.8,255.4 L220.0,254.2 L222.2,252.4 L224.5,251.1 L226.8,250.3 L229.0,250.4 L231.2,251.4 L233.5,252.6 L235.8,254.4 L238.0,256.4 L240.2,257.9 L242.5,259.1 L244.8,260.2 L247.0,261.2 L249.2,262.0 L251.5,262.7 L253.8,263.3 L256.0,263.7 L258.2,263.8 L260.5,262.9 L262.8,260.9 L265.0,258.7 L267.2,256.1 L269.5,254.1 L271.8,252.3 L274.0,246.9 L276.2,236.4 L278.5,223.3"/><path d="M44.5,34.4 L46.8,37.0 L49.0,39.8 L51.2,42.9 L53.5,46.2 L55.8,49.5 L58.0,52.9 L60.2,56.6 L62.5,60.7 L64.8,65.6 L67.0,71.2 L69.2,76.8 L71.5,82.2 L73.8,87.7 L76.0,93.1 L78.2,98.2 L80.5,102.7 L82.8,106.8 L85.0,110.6 L87.2,114.3 L89.5,118.0 L91.8,121.7 L94.0,125.5 L96.2,129.3 L98.5,133.0 L100.8,136.5 L103.0,139.9 L105.2,143.1 L107.5,146.3 L109.8,149.4 L112.0,152.4 L114.2,155.3 L116.5,158.2 L118.8,161.2 L121.0,164.1 L123.2,167.0 L125.5,170.0 L127.8,173.0 L130.0,176.0 L132.2,179.0 L134.5,181.9 L136.8,184.7 L139.0,187.5 L141.2,190.1 L143.5,192.6 L145.8,195.1 L148.0,197.4 L150.2,199.8 L152.5,202.1 L154.8,204.5 L157.0,206.9 L159.2,209.2 L161.5,211.6 L163.8,213.9 L166.0,216.2 L168.2,218.5 L170.5,220.7 L172.8,222.9 L175.0,225.1 L177.2,227.2 L179.5,229.3 L181.8,231.5 L184.0,233.7 L186.2,235.9 L188.5,238.0 L190.8,239.9 L193.0,241.6 L195.2,243.3 L197.5,245.0 L199.8,246.7 L202.0,248.5 L204.2,250.2 L206.5,251.8 L208.8,253.1 L211.0,254.1 L213.2,254.6 L215.5,254.7 L217.8,254.5 L220.0,253.4 L222.2,251.7 L224.5,250.5 L226.8,249.7 L229.0,249.8 L231.2,250.8 L233.5,252.1 L235.8,253.9 L238.0,255.8 L240.2,257.4 L242.5,258.6 L244.8,259.7 L247.0,260.7 L249.2,261.5 L251.5,262.2 L253.8,262.8 L256.0,263.3 L258.2,263.4 L260.5,262.4 L262.8,260.5 L265.0,258.3 L267.2,255.7 L269.5,253.8 L271.8,252.0 L274.0,246.6 L276.2,235.9 L278.5,222.7"/><path d="M44.5,32.8 L46.8,35.4 L49.0,38.2 L51.2,41.3 L53.5,44.5 L55.8,47.9 L58.0,51.3 L60.2,55.0 L62.5,59.2 L64.8,64.2 L67.0,69.8 L69.2,75.5 L71.5,80.9 L73.8,86.5 L76.0,92.0 L78.2,97.1 L80.5,101.6 L82.8,105.7 L85.0,109.6 L87.2,113.3 L89.5,117.0 L91.8,120.9 L94.0,124.7 L96.2,128.5 L98.5,132.2 L100.8,135.8 L103.0,139.2 L105.2,142.5 L107.5,145.7 L109.8,148.8 L112.0,151.8 L114.2,154.8 L116.5,157.8 L118.8,160.8 L121.0,163.8 L123.2,166.8 L125.5,169.9 L127.8,173.0 L130.0,176.1 L132.2,179.1 L134.5,182.1 L136.8,185.1 L139.0,187.9 L141.2,190.7 L143.5,193.3 L145.8,195.8 L148.0,198.2 L150.2,200.6 L152.5,203.0 L154.8,205.5 L157.0,207.9 L159.2,210.3 L161.5,212.7 L163.8,215.1 L166.0,217.5 L168.2,219.8 L170.5,222.1 L172.8,224.3 L175.0,226.5 L177.2,228.6 L179.5,230.7 L181.8,232.9 L184.0,235.1 L186.2,237.3 L188.5,239.4 L190.8,241.3 L193.0,243.1 L195.2,244.8 L197.5,246.5 L199.8,248.2 L202.0,250.0 L204.2,251.7 L206.5,253.3 L208.8,254.6 L211.0,255.5 L213.2,256.1 L215.5,256.0 L217.8,255.8 L220.0,254.5 L222.2,252.7 L224.5,251.4 L226.8,250.6 L229.0,250.7 L231.2,251.6 L233.5,252.9 L235.8,254.7 L238.0,256.6 L240.2,258.1 L242.5,259.3 L244.8,260.4 L247.0,261.4 L249.2,262.2 L251.5,262.9 L253.8,263.5 L256.0,263.9 L258.2,264.0 L260.5,263.0 L262.8,261.1 L265.0,258.8 L267.2,256.2 L269.5,254.3 L271.8,252.5 L274.0,247.1 L276.2,236.6 L278.5,223.6"/><path d="M44.5,31.2 L46.8,33.7 L49.0,36.5 L51.2,39.5 L53.5,42.7 L55.8,46.0 L58.0,49.5 L60.2,53.2 L62.5,57.3 L64.8,62.4 L67.0,68.0 L69.2,73.7 L71.5,79.2 L73.8,84.7 L76.0,90.3 L78.2,95.4 L80.5,100.0 L82.8,104.1 L85.0,107.9 L87.2,111.7 L89.5,115.4 L91.8,119.3 L94.0,123.1 L96.2,126.9 L98.5,130.7 L100.8,134.3 L103.0,137.7 L105.2,141.0 L107.5,144.2 L109.8,147.4 L112.0,150.4 L114.2,153.4 L116.5,156.4 L118.8,159.4 L121.0,162.4 L123.2,165.4 L125.5,168.4 L127.8,171.5 L130.0,174.5 L132.2,177.5 L134.5,180.5 L136.8,183.4 L139.0,186.2 L141.2,188.9 L143.5,191.5 L145.8,193.9 L148.0,196.4 L150.2,198.8 L152.5,201.1 L154.8,203.6 L157.0,206.0 L159.2,208.4 L161.5,210.8 L163.8,213.2 L166.0,215.5 L168.2,217.8 L170.5,220.1 L172.8,222.3 L175.0,224.5 L177.2,226.7 L179.5,228.8 L181.8,231.1 L184.0,233.4 L186.2,235.6 L188.5,237.7 L190.8,239.6 L193.0,241.3 L195.2,243.1 L197.5,244.8 L199.8,246.5 L202.0,248.3 L204.2,250.0 L206.5,251.6 L208.8,252.9 L211.0,253.9 L213.2,254.5 L215.5,254.5 L217.8,254.4 L220.0,253.3 L222.2,251.6 L224.5,250.4 L226.8,249.6 L229.0,249.8 L231.2,250.8 L233.5,252.0 L235.8,253.8 L238.0,255.8 L240.2,257.3 L242.5,258.5 L244.8,259.6 L247.0,260.6 L249.2,261.4 L251.5,262.1 L253.8,262.7 L256.0,263.2 L258.2,263.3 L260.5,262.4 L262.8,260.5 L265.0,258.2 L267.2,255.7 L269.5,253.7 L271.8,252.0 L274.0,246.5 L276.2,235.8 L278.5,222.6"/></g>
<g fill="none" stroke="#fff"><path d="M94.5,134.0 L97.0,138.6 L99.5,143.0 L102.0,147.2 L104.5,151.3 L107.0,155.2 L109.5,159.0 L112.0,162.6 L114.5,166.2 L117.0,169.7" stroke-opacity="0.55" stroke-width="0.4"/><path d="M132.0,263.8 L134.5,265.4 L137.0,266.9 L139.5,268.2 L142.0,269.5 L144.5,270.6 L147.0,271.7" stroke-opacity="0.51" stroke-width="0.3" stroke-dasharray="8 2"/><path d="M142.0,295.9 L144.5,296.3 L147.0,296.7 L149.5,297.2 L152.0,297.6 L154.5,298.0 L157.0,298.4 L159.5,298.8 L162.0,299.1 L164.5,299.4 L167.0,299.6 L169.5,299.5 L172.0,299.2 L174.5,298.7 L177.0,297.6 L179.5,296.3 L182.0,295.5 L184.5,295.5" stroke-opacity="0.25" stroke-width="0.5" stroke-dasharray="8 2"/><path d="M84.5,158.5 L87.0,162.2 L89.5,165.8 L92.0,169.5 L94.5,173.1" stroke-opacity="0.27" stroke-width="0.4" stroke-dasharray="9 3"/><path d="M69.5,219.2 L72.0,223.1 L74.5,226.8 L77.0,230.4 L79.5,233.8 L82.0,237.1 L84.5,240.1 L87.0,243.1 L89.5,245.9 L92.0,248.5 L94.5,250.9 L97.0,253.2" stroke-opacity="0.35" stroke-width="0.5"/><path d="M152.0,234.9 L154.5,236.8 L157.0,238.7 L159.5,240.5 L162.0,242.4 L164.5,244.2 L167.0,245.9 L169.5,247.5 L172.0,249.0 L174.5,250.4 L177.0,251.6 L179.5,252.7 L182.0,254.0 L184.5,255.7" stroke-opacity="0.50" stroke-width="0.5"/><path d="M142.0,202.6 L144.5,205.3 L147.0,207.8 L149.5,210.3 L152.0,212.8 L154.5,215.3 L157.0,217.8 L159.5,220.3 L162.0,222.7 L164.5,225.2" stroke-opacity="0.36" stroke-width="0.3"/><path d="M79.5,250.4 L82.0,253.2 L84.5,255.8 L87.0,258.4 L89.5,260.9 L92.0,263.0" stroke-opacity="0.24" stroke-width="0.5" stroke-dasharray="4 3"/><path d="M47.0,186.1 L49.5,194.6 L52.0,203.2 L54.5,210.1 L57.0,215.5 L59.5,219.7 L62.0,223.2 L64.5,226.9 L67.0,231.0 L69.5,235.0 L72.0,238.7 L74.5,242.3 L77.0,245.8 L79.5,249.1 L82.0,252.2 L84.5,255.3 L87.0,258.2" stroke-opacity="0.28" stroke-width="0.4"/><path d="M127.0,181.2 L129.5,184.5 L132.0,187.7 L134.5,190.8 L137.0,193.8" stroke-opacity="0.54" stroke-width="0.6" stroke-dasharray="9 2"/><path d="M104.5,269.2 L107.0,270.8 L109.5,272.2 L112.0,273.4 L114.5,274.5 L117.0,275.6 L119.5,276.6 L122.0,277.5" stroke-opacity="0.39" stroke-width="0.5" stroke-dasharray="5 3"/><path d="M204.5,290.3 L207.0,290.8 L209.5,291.0 L212.0,291.1 L214.5,289.2 L217.0,287.2 L219.5,284.1 L222.0,278.2 L224.5,274.8 L227.0,272.8 L229.5,272.2 L232.0,272.1 L234.5,273.4" stroke-opacity="0.41" stroke-width="0.6"/><path d="M109.5,186.6 L112.0,189.2 L114.5,191.8 L117.0,194.3 L119.5,196.8 L122.0,199.2" stroke-opacity="0.34" stroke-width="0.4" stroke-dasharray="7 3"/><path d="M217.0,296.1 L219.5,292.3 L222.0,285.3 L224.5,281.3 L227.0,278.9 L229.5,278.1 L232.0,277.6 L234.5,278.8" stroke-opacity="0.28" stroke-width="0.4" stroke-dasharray="5 1"/><path d="M49.5,121.1 L52.0,127.3 L54.5,132.6 L57.0,137.2" stroke-opacity="0.52" stroke-width="0.5" stroke-dasharray="7 2"/><path d="M104.5,176.6 L107.0,180.1 L109.5,183.4 L112.0,186.6 L114.5,189.7 L117.0,192.7 L119.5,195.7 L122.0,198.7 L124.5,201.6" stroke-opacity="0.23" stroke-width="0.3" stroke-dasharray="7 1"/><path d="M152.0,273.3 L154.5,274.7 L157.0,276.1 L159.5,277.4" stroke-opacity="0.39" stroke-width="0.5"/><path d="M204.5,304.7 L207.0,304.7 L209.5,304.5 L212.0,304.2 L214.5,301.4 L217.0,298.7 L219.5,294.7 L222.0,287.3 L224.5,283.1 L227.0,280.6 L229.5,279.6 L232.0,279.0 L234.5,280.1" stroke-opacity="0.48" stroke-width="0.4"/><path d="M59.5,159.4 L62.0,163.6 L64.5,168.3 L67.0,173.4 L69.5,178.6 L72.0,183.5 L74.5,188.4 L77.0,193.0 L79.5,197.4 L82.0,201.4 L84.5,205.2 L87.0,208.9 L89.5,212.5 L92.0,215.9 L94.5,219.2" stroke-opacity="0.36" stroke-width="0.4"/><path d="M67.0,114.3 L69.5,119.7 L72.0,124.8 L74.5,130.0 L77.0,135.0 L79.5,139.5" stroke-opacity="0.44" stroke-width="0.5"/><path d="M127.0,226.3 L129.5,228.6 L132.0,230.9 L134.5,233.1 L137.0,235.3 L139.5,237.3 L142.0,239.2 L144.5,241.0 L147.0,242.7 L149.5,244.4 L152.0,246.1 L154.5,247.8 L157.0,249.5 L159.5,251.2 L162.0,252.8 L164.5,254.4 L167.0,255.9 L169.5,257.2" stroke-opacity="0.34" stroke-width="0.5" stroke-dasharray="2 3"/><path d="M209.5,272.0 L212.0,272.6 L214.5,271.8 L217.0,270.9 L219.5,269.0 L222.0,265.1 L224.5,262.8 L227.0,261.4 L229.5,261.4 L232.0,262.0" stroke-opacity="0.59" stroke-width="0.4"/><path d="M132.0,291.9 L134.5,292.5 L137.0,293.1 L139.5,293.5 L142.0,293.9 L144.5,294.2 L147.0,294.4 L149.5,294.7 L152.0,295.0 L154.5,295.3 L157.0,295.6 L159.5,295.9 L162.0,296.1 L164.5,296.3 L167.0,296.4 L169.5,296.2" stroke-opacity="0.43" stroke-width="0.4" stroke-dasharray="4 1"/><path d="M124.5,176.0 L127.0,179.1 L129.5,182.1 L132.0,185.1 L134.5,188.0 L137.0,190.9 L139.5,193.7 L142.0,196.3 L144.5,198.8 L147.0,201.2 L149.5,203.6 L152.0,205.9 L154.5,208.3" stroke-opacity="0.53" stroke-width="0.5"/><path d="M69.5,91.5 L72.0,96.9 L74.5,102.5 L77.0,107.8 L79.5,112.7 L82.0,116.9 L84.5,120.7 L87.0,124.4 L89.5,128.1 L92.0,131.9 L94.5,135.7 L97.0,139.4" stroke-opacity="0.21" stroke-width="0.5" stroke-dasharray="2 1"/><path d="M172.0,292.1 L174.5,291.9 L177.0,291.1 L179.5,290.2 L182.0,289.7 L184.5,289.9 L187.0,290.4 L189.5,290.9 L192.0,291.4 L194.5,292.0 L197.0,292.8 L199.5,293.6" stroke-opacity="0.22" stroke-width="0.5" stroke-dasharray="9 1"/><path d="M77.0,105.7 L79.5,110.5 L82.0,114.6 L84.5,118.4" stroke-opacity="0.51" stroke-width="0.5" stroke-dasharray="3 2"/><path d="M152.0,289.6 L154.5,290.7 L157.0,291.6 L159.5,292.6 L162.0,293.4 L164.5,294.2 L167.0,294.9" stroke-opacity="0.48" stroke-width="0.5" stroke-dasharray="9 3"/><path d="M199.5,255.1 L202.0,256.9 L204.5,258.7 L207.0,260.2 L209.5,261.5 L212.0,262.4 L214.5,262.4 L217.0,262.1 L219.5,260.9 L222.0,258.2 L224.5,256.5 L227.0,255.6 L229.5,255.8 L232.0,256.8 L234.5,258.5" stroke-opacity="0.30" stroke-width="0.5"/><path d="M64.5,87.3 L67.0,92.8 L69.5,98.4 L72.0,103.8 L74.5,109.2 L77.0,114.5 L79.5,119.3 L82.0,123.4 L84.5,127.3 L87.0,130.9 L89.5,134.6" stroke-opacity="0.33" stroke-width="0.5" stroke-dasharray="5 3"/><path d="M182.0,270.0 L184.5,270.8 L187.0,271.8 L189.5,272.7 L192.0,273.5 L194.5,274.5 L197.0,275.5 L199.5,276.5 L202.0,277.5 L204.5,278.4 L207.0,279.1 L209.5,279.5 L212.0,279.7 L214.5,278.3 L217.0,276.9" stroke-opacity="0.46" stroke-width="0.4" stroke-dasharray="4 2"/><path d="M114.5,281.2 L117.0,283.0 L119.5,284.8 L122.0,286.5 L124.5,288.0 L127.0,289.5 L129.5,291.0 L132.0,292.4 L134.5,293.7 L137.0,294.9 L139.5,296.0" stroke-opacity="0.27" stroke-width="0.5" stroke-dasharray="8 3"/><path d="M107.0,232.2 L109.5,234.5 L112.0,236.6 L114.5,238.6 L117.0,240.6" stroke-opacity="0.49" stroke-width="0.3" stroke-dasharray="9 3"/><path d="M154.5,300.5 L157.0,300.7 L159.5,301.0 L162.0,301.1 L164.5,301.3 L167.0,301.3 L169.5,301.1 L172.0,300.6 L174.5,300.0 L177.0,298.8 L179.5,297.4 L182.0,296.5" stroke-opacity="0.58" stroke-width="0.3"/><path d="M57.0,195.2 L59.5,200.1 L62.0,204.5 L64.5,209.1 L67.0,214.1 L69.5,219.0 L72.0,223.7 L74.5,228.2" stroke-opacity="0.22" stroke-width="0.6" stroke-dasharray="4 2"/><path d="M212.0,266.4 L214.5,266.1 L217.0,265.6 L219.5,264.1 L222.0,261.0 L224.5,259.0 L227.0,257.9 L229.5,258.1 L232.0,258.9 L234.5,260.5" stroke-opacity="0.26" stroke-width="0.6" stroke-dasharray="7 1"/><path d="M77.0,222.5 L79.5,226.7 L82.0,230.6 L84.5,234.4 L87.0,238.1 L89.5,241.6 L92.0,244.9 L94.5,248.0 L97.0,250.9 L99.5,253.7 L102.0,256.5 L104.5,259.1 L107.0,261.6 L109.5,263.9 L112.0,266.0 L114.5,268.0 L117.0,269.9 L119.5,271.7" stroke-opacity="0.23" stroke-width="0.6"/><path d="M194.5,243.1 L197.0,244.8 L199.5,246.5 L202.0,248.2 L204.5,250.0" stroke-opacity="0.31" stroke-width="0.3" stroke-dasharray="8 2"/><path d="M169.5,237.8 L172.0,239.3 L174.5,240.8 L177.0,242.1 L179.5,243.4" stroke-opacity="0.59" stroke-width="0.4" stroke-dasharray="6 3"/><path d="M94.5,242.8 L97.0,245.8 L99.5,248.6 L102.0,251.4 L104.5,254.1 L107.0,256.6 L109.5,258.9 L112.0,261.0 L114.5,263.1 L117.0,265.0 L119.5,266.8 L122.0,268.6" stroke-opacity="0.47" stroke-width="0.4"/><path d="M47.0,33.4 L49.5,36.1 L52.0,39.0 L54.5,42.1 L57.0,45.2 L59.5,48.7 L62.0,52.6 L64.5,57.5 L67.0,63.3 L69.5,69.2 L72.0,74.8 L74.5,80.6" stroke-opacity="0.42" stroke-width="0.4" stroke-dasharray="9 1"/><path d="M159.5,248.4 L162.0,250.1 L164.5,251.8 L167.0,253.4 L169.5,254.9 L172.0,256.2 L174.5,257.5 L177.0,258.4 L179.5,259.2 L182.0,260.3 L184.5,261.8 L187.0,263.3" stroke-opacity="0.53" stroke-width="0.4" stroke-dasharray="5 1"/><path d="M169.5,289.1 L172.0,289.3 L174.5,289.5 L177.0,289.0 L179.5,288.4 L182.0,288.2 L184.5,288.7 L187.0,289.3 L189.5,290.1 L192.0,290.8 L194.5,291.6 L197.0,292.5 L199.5,293.5 L202.0,294.4" stroke-opacity="0.26" stroke-width="0.6"/><path d="M154.5,204.2 L157.0,206.4 L159.5,208.7 L162.0,211.0 L164.5,213.2 L167.0,215.5 L169.5,217.7 L172.0,219.9 L174.5,222.1 L177.0,224.2 L179.5,226.4 L182.0,228.7 L184.5,231.1 L187.0,233.3 L189.5,235.4 L192.0,237.3 L194.5,239.0 L197.0,240.8" stroke-opacity="0.30" stroke-width="0.4" stroke-dasharray="8 3"/><path d="M87.0,162.1 L89.5,165.6 L92.0,169.2 L94.5,172.6 L97.0,176.0 L99.5,179.3 L102.0,182.4 L104.5,185.4" stroke-opacity="0.22" stroke-width="0.4" stroke-dasharray="2 2"/><path d="M217.0,278.9 L219.5,276.3 L222.0,271.4 L224.5,268.5 L227.0,266.7 L229.5,266.4 L232.0,266.6 L234.5,267.9" stroke-opacity="0.30" stroke-width="0.6" stroke-dasharray="7 1"/><path d="M127.0,299.6 L129.5,300.2 L132.0,300.9 L134.5,301.5 L137.0,302.1 L139.5,302.5 L142.0,302.8 L144.5,303.0 L147.0,303.3 L149.5,303.5 L152.0,303.7 L154.5,304.0" stroke-opacity="0.46" stroke-width="0.4"/><path d="M69.5,243.1 L72.0,247.3 L74.5,251.4 L77.0,255.3 L79.5,259.1 L82.0,262.7 L84.5,266.2 L87.0,269.6 L89.5,272.9 L92.0,275.9 L94.5,278.6 L97.0,281.1 L99.5,283.5" stroke-opacity="0.22" stroke-width="0.3" stroke-dasharray="5 1"/><path d="M177.0,260.3 L179.5,261.0 L182.0,261.9 L184.5,263.2 L187.0,264.6 L189.5,266.0 L192.0,267.2 L194.5,268.5 L197.0,269.8 L199.5,271.1 L202.0,272.5 L204.5,273.7 L207.0,274.7 L209.5,275.4" stroke-opacity="0.56" stroke-width="0.6" stroke-dasharray="7 3"/><path d="M172.0,211.7 L174.5,214.3 L177.0,216.8 L179.5,219.5 L182.0,222.2 L184.5,224.9 L187.0,227.4 L189.5,229.7 L192.0,231.8 L194.5,233.8 L197.0,235.7 L199.5,237.6 L202.0,239.6 L204.5,241.7" stroke-opacity="0.26" stroke-width="0.6"/><path d="M167.0,259.3 L169.5,260.4 L172.0,261.4 L174.5,262.3 L177.0,262.9 L179.5,263.3 L182.0,264.1 L184.5,265.3 L187.0,266.6 L189.5,267.8 L192.0,269.0 L194.5,270.1" stroke-opacity="0.26" stroke-width="0.5" stroke-dasharray="2 3"/><path d="M164.5,267.1 L167.0,268.5 L169.5,269.6 L172.0,270.6 L174.5,271.5 L177.0,271.9 L179.5,272.2 L182.0,272.8 L184.5,273.9 L187.0,275.1 L189.5,276.3 L192.0,277.4 L194.5,278.6 L197.0,279.8 L199.5,281.1" stroke-opacity="0.46" stroke-width="0.3" stroke-dasharray="7 1"/><path d="M52.0,153.4 L54.5,159.4 L57.0,164.4 L59.5,168.6" stroke-opacity="0.45" stroke-width="0.5" stroke-dasharray="2 2"/><path d="M132.0,212.5 L134.5,215.2 L137.0,217.9 L139.5,220.4 L142.0,222.8 L144.5,225.1 L147.0,227.3 L149.5,229.4 L152.0,231.6 L154.5,233.7 L157.0,235.8 L159.5,237.9" stroke-opacity="0.24" stroke-width="0.5"/><path d="M194.5,283.0 L197.0,284.1 L199.5,285.3 L202.0,286.3 L204.5,287.3 L207.0,287.9 L209.5,288.3" stroke-opacity="0.49" stroke-width="0.4"/><path d="M112.0,155.4 L114.5,158.8 L117.0,162.0 L119.5,165.3 L122.0,168.5 L124.5,171.8 L127.0,175.0 L129.5,178.3 L132.0,181.5 L134.5,184.6 L137.0,187.7" stroke-opacity="0.56" stroke-width="0.4" stroke-dasharray="5 1"/><path d="M159.5,243.2 L162.0,244.8 L164.5,246.4 L167.0,248.0 L169.5,249.4 L172.0,250.7 L174.5,252.0 L177.0,253.0 L179.5,253.9 L182.0,255.0 L184.5,256.5 L187.0,258.1 L189.5,259.5 L192.0,260.9 L194.5,262.2" stroke-opacity="0.32" stroke-width="0.5" stroke-dasharray="2 2"/><path d="M167.0,289.9 L169.5,290.2 L172.0,290.4 L174.5,290.4 L177.0,289.8 L179.5,289.0 L182.0,288.7 L184.5,289.1 L187.0,289.7 L189.5,290.3 L192.0,290.9 L194.5,291.7 L197.0,292.5 L199.5,293.4" stroke-opacity="0.40" stroke-width="0.5" stroke-dasharray="9 2"/><path d="M139.5,232.4 L142.0,234.8 L144.5,237.0 L147.0,239.1 L149.5,241.2 L152.0,243.3 L154.5,245.4 L157.0,247.4" stroke-opacity="0.59" stroke-width="0.6" stroke-dasharray="9 1"/><path d="M122.0,205.0 L124.5,208.0 L127.0,211.1 L129.5,214.1 L132.0,217.0 L134.5,219.9 L137.0,222.7 L139.5,225.3" stroke-opacity="0.35" stroke-width="0.6"/><path d="M177.0,286.7 L179.5,285.8 L182.0,285.3 L184.5,285.5 L187.0,285.9 L189.5,286.4 L192.0,286.9 L194.5,287.4" stroke-opacity="0.58" stroke-width="0.3"/><path d="M167.0,275.2 L169.5,276.1 L172.0,276.9 L174.5,277.5 L177.0,277.7 L179.5,277.6 L182.0,278.0" stroke-opacity="0.40" stroke-width="0.6" stroke-dasharray="4 1"/><path d="M114.5,168.1 L117.0,171.5 L119.5,174.8 L122.0,178.0 L124.5,181.3 L127.0,184.6 L129.5,187.8 L132.0,191.0 L134.5,194.1 L137.0,197.2 L139.5,200.1 L142.0,202.9 L144.5,205.5 L147.0,208.1 L149.5,210.6" stroke-opacity="0.26" stroke-width="0.4" stroke-dasharray="7 1"/><path d="M114.5,247.5 L117.0,249.2 L119.5,250.8 L122.0,252.5 L124.5,254.0 L127.0,255.6 L129.5,257.1 L132.0,258.6 L134.5,260.0 L137.0,261.4 L139.5,262.6 L142.0,263.7 L144.5,264.8 L147.0,265.8 L149.5,266.8 L152.0,267.8 L154.5,268.8 L157.0,269.8" stroke-opacity="0.28" stroke-width="0.3"/><path d="M112.0,247.9 L114.5,249.4 L117.0,250.8 L119.5,252.1 L122.0,253.5 L124.5,254.7 L127.0,256.0 L129.5,257.2 L132.0,258.4 L134.5,259.6 L137.0,260.7 L139.5,261.8 L142.0,262.7 L144.5,263.5 L147.0,264.3 L149.5,265.1 L152.0,265.9" stroke-opacity="0.44" stroke-width="0.4" stroke-dasharray="6 1"/><path d="M162.0,266.1 L164.5,266.9 L167.0,267.7 L169.5,268.4 L172.0,268.8 L174.5,269.2 L177.0,269.3 L179.5,269.2 L182.0,269.5 L184.5,270.3 L187.0,271.2 L189.5,272.1 L192.0,273.0 L194.5,273.8" stroke-opacity="0.57" stroke-width="0.4" stroke-dasharray="7 1"/><path d="M119.5,202.6 L122.0,205.5 L124.5,208.4 L127.0,211.2" stroke-opacity="0.52" stroke-width="0.5"/><path d="M172.0,228.7 L174.5,230.9 L177.0,232.9 L179.5,235.0" stroke-opacity="0.57" stroke-width="0.4"/><path d="M129.5,298.7 L132.0,299.8 L134.5,300.9 L137.0,301.9 L139.5,302.8 L142.0,303.5 L144.5,304.2 L147.0,304.8 L149.5,305.4 L152.0,306.0 L154.5,306.5 L157.0,307.1 L159.5,307.6 L162.0,308.0 L164.5,308.3 L167.0,308.5 L169.5,308.4 L172.0,308.1" stroke-opacity="0.57" stroke-width="0.3" stroke-dasharray="7 2"/><path d="M217.0,291.1 L219.5,287.8 L222.0,281.4 L224.5,277.7 L227.0,275.5 L229.5,274.8 L232.0,274.6 L234.5,275.8" stroke-opacity="0.36" stroke-width="0.4" stroke-dasharray="8 1"/><path d="M79.5,234.2 L82.0,237.3 L84.5,240.2 L87.0,243.0 L89.5,245.7 L92.0,248.1 L94.5,250.4 L97.0,252.6 L99.5,254.6 L102.0,256.6 L104.5,258.5 L107.0,260.3 L109.5,261.9 L112.0,263.3 L114.5,264.7 L117.0,265.9 L119.5,267.1 L122.0,268.3" stroke-opacity="0.52" stroke-width="0.5" stroke-dasharray="7 2"/><path d="M87.0,208.1 L89.5,211.6 L92.0,214.9 L94.5,218.1 L97.0,221.1 L99.5,224.1" stroke-opacity="0.34" stroke-width="0.3" stroke-dasharray="6 3"/><path d="M197.0,278.6 L199.5,279.6 L202.0,280.4 L204.5,281.2 L207.0,281.8 L209.5,282.0 L212.0,282.2 L214.5,280.6 L217.0,278.9 L219.5,276.3" stroke-opacity="0.37" stroke-width="0.5" stroke-dasharray="7 1"/><path d="M107.0,222.4 L109.5,225.0 L112.0,227.4 L114.5,229.7 L117.0,232.0 L119.5,234.2 L122.0,236.3 L124.5,238.4 L127.0,240.5 L129.5,242.5 L132.0,244.5 L134.5,246.5 L137.0,248.3 L139.5,250.1" stroke-opacity="0.40" stroke-width="0.5"/><path d="M87.0,237.3 L89.5,240.1 L92.0,242.8 L94.5,245.3 L97.0,247.6 L99.5,249.9 L102.0,252.0 L104.5,254.1 L107.0,256.1 L109.5,257.9" stroke-opacity="0.46" stroke-width="0.5" stroke-dasharray="2 1"/><path d="M202.0,308.7 L204.5,308.9 L207.0,308.7 L209.5,308.5 L212.0,308.0 L214.5,305.0 L217.0,302.1 L219.5,297.9 L222.0,290.0 L224.5,285.6 L227.0,282.9" stroke-opacity="0.59" stroke-width="0.5" stroke-dasharray="9 2"/><path d="M69.5,204.9 L72.0,208.7 L74.5,212.5 L77.0,216.1 L79.5,219.5 L82.0,222.6 L84.5,225.6 L87.0,228.4 L89.5,231.2 L92.0,233.7 L94.5,236.1 L97.0,238.4" stroke-opacity="0.59" stroke-width="0.3"/><path d="M202.0,274.5 L204.5,275.8 L207.0,276.8 L209.5,277.6 L212.0,278.1" stroke-opacity="0.42" stroke-width="0.3"/><path d="M157.0,299.3 L159.5,300.0 L162.0,300.6 L164.5,301.2 L167.0,301.6 L169.5,301.8 L172.0,301.7 L174.5,301.4" stroke-opacity="0.58" stroke-width="0.5" stroke-dasharray="8 3"/><path d="M97.0,156.7 L99.5,160.0 L102.0,163.2 L104.5,166.2 L107.0,169.1 L109.5,171.9 L112.0,174.6 L114.5,177.2 L117.0,179.7 L119.5,182.3 L122.0,184.8 L124.5,187.4 L127.0,189.9" stroke-opacity="0.28" stroke-width="0.4"/><path d="M219.5,295.4 L222.0,287.9 L224.5,283.6 L227.0,281.0 L229.5,280.0 L232.0,279.4 L234.5,280.4" stroke-opacity="0.58" stroke-width="0.5"/><path d="M87.0,193.5 L89.5,196.7 L92.0,199.8 L94.5,202.8 L97.0,205.7 L99.5,208.5 L102.0,211.2 L104.5,213.7 L107.0,216.2 L109.5,218.5" stroke-opacity="0.48" stroke-width="0.4" stroke-dasharray="9 3"/><path d="M84.5,158.3 L87.0,161.7 L89.5,165.0 L92.0,168.3 L94.5,171.5 L97.0,174.7 L99.5,177.7 L102.0,180.6 L104.5,183.4 L107.0,186.1" stroke-opacity="0.57" stroke-width="0.4" stroke-dasharray="7 3"/><path d="M79.5,200.5 L82.0,204.6 L84.5,208.4 L87.0,212.1 L89.5,215.7 L92.0,219.2 L94.5,222.4 L97.0,225.6 L99.5,228.6 L102.0,231.6 L104.5,234.4 L107.0,237.1 L109.5,239.6 L112.0,241.9 L114.5,244.1 L117.0,246.3" stroke-opacity="0.32" stroke-width="0.6" stroke-dasharray="9 1"/><path d="M84.5,229.3 L87.0,233.1 L89.5,236.7 L92.0,240.0 L94.5,243.2 L97.0,246.3 L99.5,249.2" stroke-opacity="0.31" stroke-width="0.6" stroke-dasharray="9 3"/><path d="M117.0,265.0 L119.5,266.3 L122.0,267.5 L124.5,268.7 L127.0,269.9 L129.5,271.0 L132.0,272.1 L134.5,273.1 L137.0,274.1 L139.5,275.0 L142.0,275.7 L144.5,276.4 L147.0,277.1 L149.5,277.7" stroke-opacity="0.22" stroke-width="0.5"/><path d="M149.5,285.3 L152.0,285.7 L154.5,286.0 L157.0,286.4 L159.5,286.7 L162.0,287.0 L164.5,287.3 L167.0,287.5 L169.5,287.5 L172.0,287.3" stroke-opacity="0.22" stroke-width="0.3" stroke-dasharray="7 3"/><path d="M72.0,232.4 L74.5,235.7 L77.0,238.9 L79.5,242.0 L82.0,244.8 L84.5,247.6 L87.0,250.2" stroke-opacity="0.27" stroke-width="0.6"/><path d="M109.5,296.5 L112.0,298.0 L114.5,299.4 L117.0,300.6 L119.5,301.8 L122.0,302.9 L124.5,303.9 L127.0,304.8 L129.5,305.6" stroke-opacity="0.59" stroke-width="0.5" stroke-dasharray="3 2"/><path d="M199.5,297.5 L202.0,298.1 L204.5,298.5 L207.0,298.6 L209.5,298.5 L212.0,298.3 L214.5,295.8 L217.0,293.4 L219.5,289.7 L222.0,283.0 L224.5,279.0 L227.0,276.7" stroke-opacity="0.59" stroke-width="0.4" stroke-dasharray="6 2"/><path d="M77.0,253.9 L79.5,257.6 L82.0,261.1 L84.5,264.5 L87.0,267.8 L89.5,270.9 L92.0,273.8 L94.5,276.4 L97.0,278.8 L99.5,281.1 L102.0,283.4 L104.5,285.6" stroke-opacity="0.57" stroke-width="0.4" stroke-dasharray="9 1"/><path d="M154.5,233.7 L157.0,235.4 L159.5,237.2 L162.0,238.9 L164.5,240.6 L167.0,242.2 L169.5,243.8 L172.0,245.2 L174.5,246.6 L177.0,247.8" stroke-opacity="0.22" stroke-width="0.3" stroke-dasharray="2 2"/><path d="M149.5,271.4 L152.0,272.0 L154.5,272.7 L157.0,273.4 L159.5,274.1 L162.0,274.8 L164.5,275.4 L167.0,276.0 L169.5,276.3" stroke-opacity="0.31" stroke-width="0.6"/><path d="M99.5,254.2 L102.0,256.8 L104.5,259.4 L107.0,261.8 L109.5,264.0 L112.0,266.0 L114.5,267.9 L117.0,269.7" stroke-opacity="0.32" stroke-width="0.6" stroke-dasharray="3 1"/><path d="M169.5,221.8 L172.0,223.9 L174.5,226.0 L177.0,228.0 L179.5,230.1 L182.0,232.3 L184.5,234.5 L187.0,236.7 L189.5,238.7 L192.0,240.5 L194.5,242.3" stroke-opacity="0.58" stroke-width="0.4" stroke-dasharray="8 2"/><path d="M44.5,172.7 L47.0,180.9 L49.5,189.4 L52.0,198.1 L54.5,205.1 L57.0,210.6 L59.5,214.9 L62.0,218.6 L64.5,222.6 L67.0,226.9 L69.5,231.1 L72.0,235.1 L74.5,238.9 L77.0,242.6 L79.5,246.2 L82.0,249.5 L84.5,252.7 L87.0,255.9" stroke-opacity="0.50" stroke-width="0.6"/><path d="M99.5,190.3 L102.0,193.4 L104.5,196.3 L107.0,199.0 L109.5,201.7 L112.0,204.2 L114.5,206.6 L117.0,208.9 L119.5,211.2" stroke-opacity="0.51" stroke-width="0.5" stroke-dasharray="8 1"/><path d="M49.5,168.0 L52.0,175.4 L54.5,181.3 L57.0,185.9 L59.5,189.7 L62.0,192.9 L64.5,196.5 L67.0,200.5 L69.5,204.5 L72.0,208.3 L74.5,212.0 L77.0,215.5" stroke-opacity="0.42" stroke-width="0.4" stroke-dasharray="3 1"/><path d="M59.5,186.5 L62.0,189.8 L64.5,193.4 L67.0,197.5 L69.5,201.6 L72.0,205.4 L74.5,209.2 L77.0,212.8 L79.5,216.2 L82.0,219.4 L84.5,222.3" stroke-opacity="0.60" stroke-width="0.6" stroke-dasharray="4 2"/><path d="M84.5,205.9 L87.0,209.8 L89.5,213.7 L92.0,217.5 L94.5,221.0 L97.0,224.5 L99.5,227.8 L102.0,230.9 L104.5,234.0 L107.0,236.9 L109.5,239.7 L112.0,242.2" stroke-opacity="0.54" stroke-width="0.5" stroke-dasharray="6 2"/><path d="M89.5,229.6 L92.0,232.4 L94.5,235.0 L97.0,237.5 L99.5,239.9 L102.0,242.2 L104.5,244.4 L107.0,246.5" stroke-opacity="0.28" stroke-width="0.4" stroke-dasharray="4 2"/><path d="M102.0,157.5 L104.5,161.1 L107.0,164.6 L109.5,168.0 L112.0,171.3 L114.5,174.5 L117.0,177.6 L119.5,180.7 L122.0,183.7 L124.5,186.8" stroke-opacity="0.30" stroke-width="0.4" stroke-dasharray="3 3"/><path d="M44.5,118.2 L47.0,123.9 L49.5,129.7 L52.0,135.8 L54.5,140.8 L57.0,145.0 L59.5,148.6 L62.0,152.0 L64.5,156.0 L67.0,160.5 L69.5,165.0 L72.0,169.3 L74.5,173.6 L77.0,177.7 L79.5,181.5 L82.0,184.9 L84.5,188.1 L87.0,191.1" stroke-opacity="0.53" stroke-width="0.6"/><path d="M64.5,237.5 L67.0,241.3 L69.5,245.0 L72.0,248.5 L74.5,251.9 L77.0,255.1 L79.5,258.2" stroke-opacity="0.44" stroke-width="0.6" stroke-dasharray="3 2"/><path d="M149.5,240.8 L152.0,242.2 L154.5,243.6 L157.0,245.1 L159.5,246.5 L162.0,248.0 L164.5,249.4 L167.0,250.7 L169.5,252.0 L172.0,253.1 L174.5,254.2 L177.0,254.9 L179.5,255.7 L182.0,256.7 L184.5,258.0 L187.0,259.4" stroke-opacity="0.51" stroke-width="0.6" stroke-dasharray="7 1"/><path d="M52.0,214.8 L54.5,221.9 L57.0,227.4 L59.5,231.5 L62.0,234.9 L64.5,238.5 L67.0,242.4 L69.5,246.2" stroke-opacity="0.22" stroke-width="0.6"/><path d="M117.0,194.8 L119.5,197.9 L122.0,200.9 L124.5,203.9 L127.0,206.9 L129.5,209.8 L132.0,212.7 L134.5,215.5 L137.0,218.2" stroke-opacity="0.27" stroke-width="0.4" stroke-dasharray="9 3"/><path d="M184.5,266.7 L187.0,267.9 L189.5,269.1 L192.0,270.2 L194.5,271.3 L197.0,272.5 L199.5,273.8 L202.0,275.0 L204.5,276.1 L207.0,276.9 L209.5,277.5 L212.0,277.9 L214.5,276.7 L217.0,275.5" stroke-opacity="0.42" stroke-width="0.5" stroke-dasharray="4 2"/><path d="M94.5,171.8 L97.0,175.3 L99.5,178.7 L102.0,182.0 L104.5,185.1 L107.0,188.1 L109.5,191.0 L112.0,193.8" stroke-opacity="0.37" stroke-width="0.3"/><path d="M47.0,52.8 L49.5,56.7 L52.0,60.8 L54.5,64.8 L57.0,68.8 L59.5,72.8 L62.0,77.1 L64.5,82.3 L67.0,88.3 L69.5,94.3 L72.0,100.1 L74.5,106.0 L77.0,111.7 L79.5,116.8 L82.0,121.4 L84.5,125.5" stroke-opacity="0.60" stroke-width="0.4" stroke-dasharray="8 1"/><path d="M72.0,90.0 L74.5,96.1 L77.0,102.0 L79.5,107.3 L82.0,111.9" stroke-opacity="0.53" stroke-width="0.4"/><path d="M47.0,124.5 L49.5,130.6 L52.0,136.8 L54.5,142.1 L57.0,146.5 L59.5,150.3 L62.0,153.8 L64.5,158.0 L67.0,162.6 L69.5,167.3 L72.0,171.7 L74.5,176.1" stroke-opacity="0.26" stroke-width="0.6" stroke-dasharray="7 3"/><path d="M94.5,196.0 L97.0,198.9 L99.5,201.6 L102.0,204.3 L104.5,206.9 L107.0,209.3 L109.5,211.6 L112.0,213.7 L114.5,215.8 L117.0,217.8 L119.5,219.8 L122.0,221.7" stroke-opacity="0.27" stroke-width="0.3" stroke-dasharray="5 2"/><path d="M217.0,303.3 L219.5,299.0 L222.0,291.1 L224.5,286.6 L227.0,284.0 L229.5,282.9 L232.0,282.2 L234.5,283.2" stroke-opacity="0.33" stroke-width="0.5"/><path d="M164.5,307.9 L167.0,308.0 L169.5,307.8 L172.0,307.4 L174.5,306.7 L177.0,305.4 L179.5,303.9 L182.0,302.9 L184.5,302.8 L187.0,302.9 L189.5,303.1 L192.0,303.4 L194.5,303.8 L197.0,304.5 L199.5,305.1 L202.0,305.7 L204.5,306.0 L207.0,305.9" stroke-opacity="0.26" stroke-width="0.6" stroke-dasharray="8 3"/><path d="M74.5,119.1 L77.0,125.2 L79.5,130.7 L82.0,135.6 L84.5,140.2 L87.0,144.6 L89.5,149.0" stroke-opacity="0.22" stroke-width="0.6" stroke-dasharray="7 1"/><path d="M187.0,306.1 L189.5,306.3 L192.0,306.6 L194.5,307.1 L197.0,307.8 L199.5,308.5 L202.0,309.1" stroke-opacity="0.22" stroke-width="0.5"/><path d="M64.5,244.0 L67.0,248.5 L69.5,252.9 L72.0,257.0 L74.5,260.9 L77.0,264.7 L79.5,268.4 L82.0,272.0 L84.5,275.4 L87.0,278.8 L89.5,282.1 L92.0,284.9 L94.5,287.5" stroke-opacity="0.38" stroke-width="0.6"/><path d="M87.0,166.2 L89.5,169.8 L92.0,173.3 L94.5,176.7 L97.0,180.1 L99.5,183.3 L102.0,186.4 L104.5,189.4 L107.0,192.2 L109.5,194.9" stroke-opacity="0.46" stroke-width="0.5" stroke-dasharray="2 1"/><path d="M84.5,171.3 L87.0,175.1 L89.5,178.8 L92.0,182.4 L94.5,186.0 L97.0,189.4 L99.5,192.7 L102.0,195.9 L104.5,198.9 L107.0,201.9 L109.5,204.6 L112.0,207.3 L114.5,209.8 L117.0,212.3 L119.5,214.7 L122.0,217.1" stroke-opacity="0.45" stroke-width="0.6"/><path d="M54.5,78.4 L57.0,82.4 L59.5,86.4 L62.0,90.7 L64.5,95.7 L67.0,101.5 L69.5,107.4 L72.0,112.9 L74.5,118.6" stroke-opacity="0.37" stroke-width="0.3" stroke-dasharray="2 1"/><path d="M174.5,240.8 L177.0,242.2 L179.5,243.5 L182.0,245.0 L184.5,246.8 L187.0,248.5 L189.5,250.2 L192.0,251.7 L194.5,253.1 L197.0,254.5 L199.5,256.0 L202.0,257.5 L204.5,259.0 L207.0,260.3 L209.5,261.3 L212.0,262.1" stroke-opacity="0.49" stroke-width="0.3"/><path d="M182.0,243.5 L184.5,245.6 L187.0,247.7 L189.5,249.6" stroke-opacity="0.54" stroke-width="0.6"/><path d="M217.0,256.1 L219.5,255.2 L222.0,253.2 L224.5,251.8 L227.0,251.0 L229.5,251.4 L232.0,252.5 L234.5,254.2" stroke-opacity="0.32" stroke-width="0.6"/><path d="M82.0,160.5 L84.5,164.8 L87.0,168.9 L89.5,172.9 L92.0,176.9 L94.5,180.8 L97.0,184.6 L99.5,188.2 L102.0,191.7 L104.5,195.1 L107.0,198.4 L109.5,201.4 L112.0,204.4 L114.5,207.2 L117.0,210.0 L119.5,212.7 L122.0,215.3" stroke-opacity="0.34" stroke-width="0.6" stroke-dasharray="6 2"/><path d="M207.0,297.4 L209.5,297.4 L212.0,297.3 L214.5,294.9 L217.0,292.5 L219.5,288.9 L222.0,282.3" stroke-opacity="0.44" stroke-width="0.5" stroke-dasharray="7 1"/><path d="M157.0,284.8 L159.5,285.5 L162.0,286.1 L164.5,286.7 L167.0,287.2 L169.5,287.4 L172.0,287.5 L174.5,287.4" stroke-opacity="0.47" stroke-width="0.6" stroke-dasharray="6 1"/><path d="M194.5,244.2 L197.0,245.8 L199.5,247.4 L202.0,249.2 L204.5,250.9 L207.0,252.5 L209.5,253.7 L212.0,254.6 L214.5,254.8 L217.0,254.9 L219.5,254.0 L222.0,252.1 L224.5,250.8 L227.0,250.0 L229.5,250.4 L232.0,251.6 L234.5,253.3" stroke-opacity="0.38" stroke-width="0.5"/><path d="M139.5,191.8 L142.0,194.4 L144.5,196.9 L147.0,199.3 L149.5,201.6 L152.0,203.9 L154.5,206.3 L157.0,208.7 L159.5,211.0 L162.0,213.4 L164.5,215.8 L167.0,218.1 L169.5,220.4 L172.0,222.7 L174.5,224.9 L177.0,227.1 L179.5,229.3" stroke-opacity="0.36" stroke-width="0.6" stroke-dasharray="7 3"/><path d="M57.0,206.8 L59.5,211.0 L62.0,214.5 L64.5,218.2 L67.0,222.4 L69.5,226.4 L72.0,230.2" stroke-opacity="0.27" stroke-width="0.6" stroke-dasharray="6 2"/><path d="M147.0,253.0 L149.5,254.8 L152.0,256.6 L154.5,258.4 L157.0,260.1 L159.5,261.8 L162.0,263.4 L164.5,265.0 L167.0,266.5 L169.5,267.8 L172.0,268.9 L174.5,269.9 L177.0,270.4 L179.5,270.8" stroke-opacity="0.56" stroke-width="0.6"/><path d="M154.5,277.9 L157.0,278.6 L159.5,279.3 L162.0,280.0 L164.5,280.7 L167.0,281.3 L169.5,281.6 L172.0,281.8 L174.5,281.9 L177.0,281.5" stroke-opacity="0.41" stroke-width="0.6" stroke-dasharray="5 3"/><path d="M44.5,87.1 L47.0,91.6 L49.5,96.3 L52.0,101.2 L54.5,105.5 L57.0,109.3 L59.5,112.9 L62.0,116.4 L64.5,120.7" stroke-opacity="0.32" stroke-width="0.5" stroke-dasharray="8 3"/><path d="M109.5,241.3 L112.0,243.0 L114.5,244.6 L117.0,246.2 L119.5,247.7 L122.0,249.1 L124.5,250.5 L127.0,251.9 L129.5,253.3 L132.0,254.7 L134.5,256.0 L137.0,257.3 L139.5,258.4 L142.0,259.5 L144.5,260.4 L147.0,261.3 L149.5,262.3" stroke-opacity="0.39" stroke-width="0.3"/><path d="M59.5,191.1 L62.0,194.4 L64.5,198.1 L67.0,202.2 L69.5,206.4 L72.0,210.2 L74.5,214.0 L77.0,217.6 L79.5,221.0 L82.0,224.2 L84.5,227.2 L87.0,230.1 L89.5,232.9 L92.0,235.5" stroke-opacity="0.26" stroke-width="0.5" stroke-dasharray="6 1"/><path d="M202.0,310.3 L204.5,310.5 L207.0,310.4 L209.5,310.1 L212.0,309.7 L214.5,306.6 L217.0,303.6 L219.5,299.3 L222.0,291.3 L224.5,286.8 L227.0,284.1 L229.5,283.0 L232.0,282.2" stroke-opacity="0.46" stroke-width="0.5"/><path d="M204.5,258.1 L207.0,259.5 L209.5,260.6 L212.0,261.4" stroke-opacity="0.22" stroke-width="0.3" stroke-dasharray="4 1"/><path d="M152.0,197.2 L154.5,199.6 L157.0,202.0 L159.5,204.4 L162.0,206.8 L164.5,209.3 L167.0,211.7 L169.5,214.1 L172.0,216.5 L174.5,218.8 L177.0,221.2 L179.5,223.6 L182.0,226.1 L184.5,228.6" stroke-opacity="0.58" stroke-width="0.3" stroke-dasharray="8 3"/><path d="M97.0,255.1 L99.5,257.3 L102.0,259.4 L104.5,261.5" stroke-opacity="0.60" stroke-width="0.6" stroke-dasharray="2 2"/><path d="M127.0,200.5 L129.5,203.5 L132.0,206.5 L134.5,209.3 L137.0,212.1 L139.5,214.8 L142.0,217.3 L144.5,219.7 L147.0,222.0 L149.5,224.2 L152.0,226.5 L154.5,228.7 L157.0,231.0 L159.5,233.2 L162.0,235.4" stroke-opacity="0.46" stroke-width="0.4"/><path d="M64.5,200.4 L67.0,205.1 L69.5,209.9 L72.0,214.4 L74.5,218.7 L77.0,222.9 L79.5,226.9 L82.0,230.6 L84.5,234.2 L87.0,237.7 L89.5,241.0 L92.0,244.1 L94.5,247.0 L97.0,249.8 L99.5,252.4 L102.0,255.0 L104.5,257.5 L107.0,259.8" stroke-opacity="0.50" stroke-width="0.5"/><path d="M142.0,216.3 L144.5,218.3 L147.0,220.2 L149.5,222.1 L152.0,224.0 L154.5,226.0 L157.0,227.9 L159.5,229.8 L162.0,231.7 L164.5,233.6" stroke-opacity="0.47" stroke-width="0.6"/><path d="M202.0,299.7 L204.5,300.2 L207.0,300.5 L209.5,300.5 L212.0,300.4" stroke-opacity="0.55" stroke-width="0.3" stroke-dasharray="5 3"/><path d="M204.5,284.9 L207.0,285.3 L209.5,285.6 L212.0,285.6 L214.5,283.9 L217.0,282.1 L219.5,279.2" stroke-opacity="0.55" stroke-width="0.4" stroke-dasharray="9 2"/><path d="M194.5,257.7 L197.0,259.3 L199.5,261.0 L202.0,262.6 L204.5,264.2 L207.0,265.6 L209.5,266.6 L212.0,267.5 L214.5,267.1 L217.0,266.5" stroke-opacity="0.58" stroke-width="0.4"/><path d="M147.0,216.0 L149.5,218.0 L152.0,220.1 L154.5,222.2 L157.0,224.4 L159.5,226.5 L162.0,228.6 L164.5,230.6 L167.0,232.7 L169.5,234.6 L172.0,236.5 L174.5,238.3 L177.0,239.9" stroke-opacity="0.56" stroke-width="0.4" stroke-dasharray="3 3"/><path d="M69.5,85.2 L72.0,91.0 L74.5,97.0 L77.0,102.7" stroke-opacity="0.21" stroke-width="0.3"/><path d="M52.0,212.7 L54.5,219.4 L57.0,224.4 L59.5,228.2 L62.0,231.3 L64.5,234.5 L67.0,238.0 L69.5,241.5 L72.0,244.8 L74.5,247.9 L77.0,250.9 L79.5,253.8 L82.0,256.5 L84.5,259.1 L87.0,261.7 L89.5,264.1 L92.0,266.2" stroke-opacity="0.44" stroke-width="0.4"/><path d="M54.5,79.4 L57.0,84.2 L59.5,88.9 L62.0,93.9 L64.5,99.6 L67.0,106.0 L69.5,112.4 L72.0,118.6 L74.5,124.8 L77.0,130.8 L79.5,136.3 L82.0,141.3 L84.5,145.9 L87.0,150.4 L89.5,154.8 L92.0,159.2 L94.5,163.5" stroke-opacity="0.50" stroke-width="0.5" stroke-dasharray="5 1"/><path d="M212.0,282.5 L214.5,280.8 L217.0,279.2 L219.5,276.5 L222.0,271.5 L224.5,268.5 L227.0,266.7 L229.5,266.3 L232.0,266.4 L234.5,267.7" stroke-opacity="0.52" stroke-width="0.5"/><path d="M62.0,123.1 L64.5,127.7 L67.0,132.9 L69.5,138.2 L72.0,143.1" stroke-opacity="0.52" stroke-width="0.5" stroke-dasharray="7 2"/><path d="M209.5,287.5 L212.0,287.6 L214.5,285.7 L217.0,283.9" stroke-opacity="0.49" stroke-width="0.4" stroke-dasharray="9 2"/><path d="M117.0,198.2 L119.5,200.4 L122.0,202.5 L124.5,204.7 L127.0,206.9 L129.5,209.0 L132.0,211.2 L134.5,213.3 L137.0,215.3 L139.5,217.3" stroke-opacity="0.41" stroke-width="0.3" stroke-dasharray="2 3"/><path d="M189.5,272.4 L192.0,273.6 L194.5,274.8 L197.0,276.0 L199.5,277.3 L202.0,278.6 L204.5,279.7 L207.0,280.5 L209.5,281.1 L212.0,281.5 L214.5,280.2 L217.0,278.9 L219.5,276.4" stroke-opacity="0.53" stroke-width="0.4" stroke-dasharray="5 2"/><path d="M44.5,69.1 L47.0,74.2 L49.5,79.6 L52.0,85.3 L54.5,90.6 L57.0,95.6 L59.5,100.5 L62.0,105.5 L64.5,111.2 L67.0,117.6 L69.5,124.0" stroke-opacity="0.24" stroke-width="0.5"/><path d="M212.0,258.5 L214.5,258.6 L217.0,258.6 L219.5,257.6 L222.0,255.3 L224.5,253.9 L227.0,253.0 L229.5,253.4 L232.0,254.5 L234.5,256.2" stroke-opacity="0.30" stroke-width="0.6" stroke-dasharray="5 3"/><path d="M209.5,284.3 L212.0,284.4 L214.5,282.7 L217.0,281.0 L219.5,278.2 L222.0,273.0 L224.5,269.9 L227.0,268.0 L229.5,267.5 L232.0,267.7 L234.5,268.9" stroke-opacity="0.23" stroke-width="0.6"/><path d="M107.0,180.6 L109.5,183.8 L112.0,186.9 L114.5,189.9 L117.0,192.8 L119.5,195.7 L122.0,198.6 L124.5,201.4 L127.0,204.3 L129.5,207.0" stroke-opacity="0.57" stroke-width="0.6"/><path d="M109.5,238.3 L112.0,240.6 L114.5,242.8 L117.0,244.9 L119.5,247.0 L122.0,249.0 L124.5,250.9 L127.0,252.8" stroke-opacity="0.31" stroke-width="0.6" stroke-dasharray="8 3"/><path d="M137.0,276.6 L139.5,277.6 L142.0,278.5 L144.5,279.3 L147.0,280.1 L149.5,280.9 L152.0,281.7 L154.5,282.5 L157.0,283.3 L159.5,284.0 L162.0,284.7 L164.5,285.4 L167.0,285.9 L169.5,286.3 L172.0,286.4 L174.5,286.4" stroke-opacity="0.48" stroke-width="0.5" stroke-dasharray="7 3"/><path d="M162.0,305.4 L164.5,305.8 L167.0,306.1 L169.5,306.1 L172.0,305.8 L174.5,305.3 L177.0,304.1 L179.5,302.7 L182.0,301.8 L184.5,301.8 L187.0,302.0 L189.5,302.4 L192.0,302.7 L194.5,303.3 L197.0,304.0" stroke-opacity="0.33" stroke-width="0.5"/><path d="M102.0,244.6 L104.5,246.8 L107.0,248.8 L109.5,250.6 L112.0,252.3 L114.5,253.9 L117.0,255.4 L119.5,256.8 L122.0,258.2 L124.5,259.6 L127.0,260.9 L129.5,262.2 L132.0,263.5 L134.5,264.7" stroke-opacity="0.55" stroke-width="0.4" stroke-dasharray="6 3"/><path d="M172.0,240.7 L174.5,242.5 L177.0,244.1 L179.5,245.6 L182.0,247.3 L184.5,249.3 L187.0,251.2" stroke-opacity="0.49" stroke-width="0.5" stroke-dasharray="5 2"/><path d="M212.0,250.6 L214.5,251.1 L217.0,251.5 L219.5,250.9 L222.0,249.5" stroke-opacity="0.27" stroke-width="0.5" stroke-dasharray="4 1"/><path d="M119.5,197.9 L122.0,200.9 L124.5,203.8 L127.0,206.7 L129.5,209.5 L132.0,212.3 L134.5,215.1" stroke-opacity="0.24" stroke-width="0.6" stroke-dasharray="8 2"/><path d="M184.5,297.3 L187.0,297.4 L189.5,297.7 L192.0,298.0 L194.5,298.4 L197.0,299.0 L199.5,299.6 L202.0,300.2 L204.5,300.5 L207.0,300.6 L209.5,300.4 L212.0,300.1 L214.5,297.5 L217.0,294.9 L219.5,291.1" stroke-opacity="0.29" stroke-width="0.6" stroke-dasharray="2 1"/><path d="M44.5,152.2 L47.0,160.0 L49.5,168.1 L52.0,176.4 L54.5,183.2 L57.0,188.9 L59.5,193.5" stroke-opacity="0.56" stroke-width="0.5" stroke-dasharray="8 1"/><path d="M199.5,269.7 L202.0,271.1 L204.5,272.5 L207.0,273.5 L209.5,274.3 L212.0,274.9 L214.5,274.0 L217.0,273.0 L219.5,271.0 L222.0,266.9 L224.5,264.4 L227.0,263.0 L229.5,262.9 L232.0,263.4" stroke-opacity="0.48" stroke-width="0.6"/><path d="M99.5,188.3 L102.0,191.5 L104.5,194.5 L107.0,197.5 L109.5,200.3 L112.0,202.9 L114.5,205.5 L117.0,208.0 L119.5,210.4 L122.0,212.9 L124.5,215.3 L127.0,217.7 L129.5,220.0 L132.0,222.4" stroke-opacity="0.48" stroke-width="0.6" stroke-dasharray="8 3"/><path d="M194.5,250.5 L197.0,252.0 L199.5,253.6 L202.0,255.2 L204.5,256.8 L207.0,258.2 L209.5,259.3 L212.0,260.1 L214.5,260.0 L217.0,259.7 L219.5,258.6" stroke-opacity="0.38" stroke-width="0.5" stroke-dasharray="4 3"/><path d="M192.0,268.9 L194.5,269.8 L197.0,270.9 L199.5,272.0 L202.0,273.1 L204.5,274.1 L207.0,274.8 L209.5,275.3 L212.0,275.6 L214.5,274.5 L217.0,273.2 L219.5,271.0 L222.0,266.7 L224.5,264.1 L227.0,262.5 L229.5,262.3 L232.0,262.7 L234.5,264.1" stroke-opacity="0.59" stroke-width="0.3" stroke-dasharray="4 3"/><path d="M134.5,223.7 L137.0,226.3 L139.5,228.9 L142.0,231.3 L144.5,233.5" stroke-opacity="0.54" stroke-width="0.5" stroke-dasharray="9 3"/><path d="M109.5,302.6 L112.0,304.1 L114.5,305.5 L117.0,306.8 L119.5,308.0 L122.0,309.1 L124.5,310.1 L127.0,311.1 L129.5,311.9" stroke-opacity="0.36" stroke-width="0.6" stroke-dasharray="4 2"/><path d="M172.0,278.0 L174.5,278.6 L177.0,278.7 L179.5,278.6 L182.0,278.9 L184.5,279.9 L187.0,280.9 L189.5,281.9 L192.0,282.9 L194.5,284.0 L197.0,285.1 L199.5,286.3 L202.0,287.4" stroke-opacity="0.34" stroke-width="0.3" stroke-dasharray="8 1"/><path d="M117.0,295.6 L119.5,296.6 L122.0,297.5 L124.5,298.4 L127.0,299.2 L129.5,299.9 L132.0,300.6 L134.5,301.3 L137.0,301.8 L139.5,302.3 L142.0,302.6 L144.5,302.9 L147.0,303.2 L149.5,303.4 L152.0,303.7" stroke-opacity="0.47" stroke-width="0.5" stroke-dasharray="6 3"/><path d="M214.5,293.7 L217.0,291.5 L219.5,288.2 L222.0,281.8 L224.5,278.1 L227.0,275.9 L229.5,275.3 L232.0,275.1 L234.5,276.3" stroke-opacity="0.58" stroke-width="0.5" stroke-dasharray="3 3"/><path d="M172.0,295.9 L174.5,295.6 L177.0,294.8 L179.5,293.8 L182.0,293.2 L184.5,293.4 L187.0,293.8 L189.5,294.3 L192.0,294.8 L194.5,295.4 L197.0,296.2 L199.5,297.0 L202.0,297.7 L204.5,298.2 L207.0,298.4 L209.5,298.5 L212.0,298.3" stroke-opacity="0.59" stroke-width="0.4"/><path d="M127.0,206.2 L129.5,209.2 L132.0,212.1 L134.5,214.9 L137.0,217.6 L139.5,220.3 L142.0,222.7 L144.5,225.1" stroke-opacity="0.50" stroke-width="0.5"/><path d="M84.5,202.3 L87.0,206.1 L89.5,209.9 L92.0,213.6 L94.5,217.1 L97.0,220.4 L99.5,223.6 L102.0,226.8 L104.5,229.8 L107.0,232.6 L109.5,235.3 L112.0,237.8 L114.5,240.2 L117.0,242.5 L119.5,244.7" stroke-opacity="0.35" stroke-width="0.4" stroke-dasharray="4 2"/><path d="M92.0,288.0 L94.5,290.4 L97.0,292.7 L99.5,294.8 L102.0,296.9 L104.5,298.9 L107.0,300.8" stroke-opacity="0.46" stroke-width="0.4" stroke-dasharray="3 3"/><path d="M97.0,137.0 L99.5,140.6 L102.0,144.1 L104.5,147.4 L107.0,150.6 L109.5,153.7 L112.0,156.7 L114.5,159.7 L117.0,162.6 L119.5,165.5" stroke-opacity="0.22" stroke-width="0.6"/><path d="M192.0,244.1 L194.5,245.7 L197.0,247.4 L199.5,249.0 L202.0,250.7 L204.5,252.5 L207.0,254.0 L209.5,255.2 L212.0,256.2 L214.5,256.3 L217.0,256.3 L219.5,255.3 L222.0,253.3 L224.5,251.9" stroke-opacity="0.43" stroke-width="0.5" stroke-dasharray="3 3"/><path d="M147.0,278.6 L149.5,279.5 L152.0,280.5 L154.5,281.4 L157.0,282.3 L159.5,283.2 L162.0,284.0 L164.5,284.8 L167.0,285.5 L169.5,285.9 L172.0,286.2 L174.5,286.3 L177.0,285.9 L179.5,285.3 L182.0,285.1 L184.5,285.6 L187.0,286.2" stroke-opacity="0.29" stroke-width="0.6" stroke-dasharray="4 1"/><path d="M72.0,102.1 L74.5,108.4 L77.0,114.6 L79.5,120.2 L82.0,125.1 L84.5,129.8 L87.0,134.2 L89.5,138.7 L92.0,143.1 L94.5,147.5 L97.0,151.9 L99.5,156.1 L102.0,160.1 L104.5,164.0 L107.0,167.7 L109.5,171.3 L112.0,174.7 L114.5,178.1" stroke-opacity="0.48" stroke-width="0.6" stroke-dasharray="6 1"/><path d="M57.0,140.5 L59.5,144.4 L62.0,148.1 L64.5,152.3 L67.0,157.1 L69.5,161.9 L72.0,166.5 L74.5,171.0 L77.0,175.4 L79.5,179.5 L82.0,183.1 L84.5,186.5 L87.0,189.8 L89.5,193.1 L92.0,196.2 L94.5,199.2 L97.0,202.1" stroke-opacity="0.38" stroke-width="0.6" stroke-dasharray="6 2"/><path d="M132.0,263.3 L134.5,264.5 L137.0,265.6 L139.5,266.6" stroke-opacity="0.39" stroke-width="0.6"/><path d="M149.5,269.3 L152.0,270.1 L154.5,270.9 L157.0,271.7 L159.5,272.5 L162.0,273.3 L164.5,274.0 L167.0,274.7 L169.5,275.2 L172.0,275.5 L174.5,275.7 L177.0,275.5 L179.5,275.2 L182.0,275.2 L184.5,275.9" stroke-opacity="0.20" stroke-width="0.6" stroke-dasharray="9 3"/><path d="M119.5,258.7 L122.0,260.3 L124.5,261.9 L127.0,263.4 L129.5,264.9 L132.0,266.3 L134.5,267.7 L137.0,269.0 L139.5,270.2 L142.0,271.3 L144.5,272.3 L147.0,273.3 L149.5,274.2 L152.0,275.1" stroke-opacity="0.23" stroke-width="0.5"/><path d="M164.5,309.8 L167.0,309.8 L169.5,309.5 L172.0,308.9 L174.5,308.2 L177.0,306.8 L179.5,305.1 L182.0,304.0 L184.5,303.8 L187.0,303.8 L189.5,303.9 L192.0,304.2 L194.5,304.5 L197.0,305.1 L199.5,305.7 L202.0,306.2 L204.5,306.4 L207.0,306.3" stroke-opacity="0.60" stroke-width="0.6" stroke-dasharray="9 2"/><path d="M82.0,137.5 L84.5,141.2 L87.0,144.8 L89.5,148.3 L92.0,151.9 L94.5,155.4 L97.0,158.9 L99.5,162.2 L102.0,165.4 L104.5,168.4" stroke-opacity="0.45" stroke-width="0.4"/><path d="M137.0,260.9 L139.5,262.3 L142.0,263.6 L144.5,264.7 L147.0,265.9 L149.5,267.0 L152.0,268.1 L154.5,269.2 L157.0,270.3 L159.5,271.3 L162.0,272.4 L164.5,273.3 L167.0,274.3 L169.5,275.0 L172.0,275.5 L174.5,275.9" stroke-opacity="0.56" stroke-width="0.4" stroke-dasharray="6 3"/><path d="M107.0,281.1 L109.5,282.5 L112.0,283.8 L114.5,285.0 L117.0,286.1 L119.5,287.1 L122.0,288.0 L124.5,288.9 L127.0,289.7 L129.5,290.5 L132.0,291.3" stroke-opacity="0.36" stroke-width="0.5" stroke-dasharray="7 1"/><path d="M102.0,198.5 L104.5,201.9 L107.0,205.1 L109.5,208.2 L112.0,211.1 L114.5,213.9 L117.0,216.6 L119.5,219.3 L122.0,221.9" stroke-opacity="0.49" stroke-width="0.3"/><path d="M114.5,301.4 L117.0,303.0 L119.5,304.5 L122.0,305.9 L124.5,307.2 L127.0,308.4 L129.5,309.5 L132.0,310.5 L134.5,311.5 L137.0,312.4 L139.5,313.2 L142.0,313.8" stroke-opacity="0.55" stroke-width="0.5" stroke-dasharray="6 1"/><path d="M207.0,296.6 L209.5,296.5 L212.0,296.2 L214.5,293.8 L217.0,291.4 L219.5,287.8 L222.0,281.2 L224.5,277.4 L227.0,275.1 L229.5,274.4 L232.0,274.0 L234.5,275.1" stroke-opacity="0.51" stroke-width="0.3" stroke-dasharray="8 3"/><path d="M164.5,300.8 L167.0,301.1 L169.5,301.1 L172.0,300.9 L174.5,300.5 L177.0,299.4 L179.5,298.2 L182.0,297.4 L184.5,297.5 L187.0,297.8 L189.5,298.1 L192.0,298.5 L194.5,299.1 L197.0,299.8 L199.5,300.6 L202.0,301.2 L204.5,301.6 L207.0,301.7" stroke-opacity="0.47" stroke-width="0.4"/><path d="M62.0,160.4 L64.5,165.3 L67.0,170.6 L69.5,176.0 L72.0,181.1 L74.5,186.2" stroke-opacity="0.55" stroke-width="0.4" stroke-dasharray="2 2"/><path d="M97.0,140.6 L99.5,144.2 L102.0,147.6 L104.5,150.9 L107.0,154.0 L109.5,157.0 L112.0,160.0 L114.5,162.9 L117.0,165.7 L119.5,168.5 L122.0,171.3 L124.5,174.2 L127.0,177.0 L129.5,179.9 L132.0,182.7" stroke-opacity="0.30" stroke-width="0.4" stroke-dasharray="7 1"/><path d="M209.5,286.2 L212.0,286.5 L214.5,284.8 L217.0,283.1" stroke-opacity="0.40" stroke-width="0.5"/><path d="M167.0,235.1 L169.5,237.0 L172.0,238.8 L174.5,240.5 L177.0,242.0 L179.5,243.6 L182.0,245.3 L184.5,247.2 L187.0,249.1 L189.5,250.9" stroke-opacity="0.38" stroke-width="0.3" stroke-dasharray="4 2"/><path d="M57.0,91.1 L59.5,95.4 L62.0,99.8 L64.5,105.0 L67.0,110.8 L69.5,116.7 L72.0,122.4 L74.5,128.1 L77.0,133.6 L79.5,138.6 L82.0,143.1" stroke-opacity="0.28" stroke-width="0.4" stroke-dasharray="2 1"/><path d="M214.5,260.5 L217.0,260.2 L219.5,259.0 L222.0,256.4 L224.5,254.7" stroke-opacity="0.29" stroke-width="0.3" stroke-dasharray="6 3"/><path d="M174.5,258.4 L177.0,259.1 L179.5,259.8 L182.0,260.7 L184.5,262.1 L187.0,263.5 L189.5,264.8 L192.0,266.1 L194.5,267.3 L197.0,268.6 L199.5,270.0 L202.0,271.3 L204.5,272.5 L207.0,273.5 L209.5,274.2 L212.0,274.7 L214.5,273.8 L217.0,272.7" stroke-opacity="0.22" stroke-width="0.6"/><path d="M57.0,76.3 L59.5,80.8 L62.0,85.5 L64.5,91.1 L67.0,97.4 L69.5,103.7 L72.0,109.8 L74.5,116.0 L77.0,121.9 L79.5,127.3 L82.0,132.2 L84.5,136.6 L87.0,141.0 L89.5,145.3" stroke-opacity="0.42" stroke-width="0.5"/><path d="M52.0,61.7 L54.5,66.5 L57.0,71.1 L59.5,75.9" stroke-opacity="0.20" stroke-width="0.3"/><path d="M99.5,151.1 L102.0,154.4 L104.5,157.5 L107.0,160.5 L109.5,163.4 L112.0,166.2 L114.5,168.9 L117.0,171.6 L119.5,174.2 L122.0,176.9 L124.5,179.6 L127.0,182.3 L129.5,185.0 L132.0,187.6 L134.5,190.3" stroke-opacity="0.44" stroke-width="0.6"/><path d="M212.0,269.3 L214.5,268.7 L217.0,267.9 L219.5,266.2 L222.0,262.6 L224.5,260.5 L227.0,259.2 L229.5,259.2 L232.0,259.9 L234.5,261.4" stroke-opacity="0.38" stroke-width="0.5" stroke-dasharray="3 2"/><path d="M184.5,227.4 L187.0,229.9 L189.5,232.1 L192.0,234.2 L194.5,236.1 L197.0,237.9 L199.5,239.8 L202.0,241.8 L204.5,243.8 L207.0,245.6 L209.5,247.1" stroke-opacity="0.35" stroke-width="0.6"/><path d="M94.5,161.3 L97.0,165.1 L99.5,168.9 L102.0,172.5" stroke-opacity="0.45" stroke-width="0.5"/><path d="M172.0,268.5 L174.5,269.4 L177.0,269.9 L179.5,270.3" stroke-opacity="0.53" stroke-width="0.5" stroke-dasharray="8 1"/><path d="M149.5,273.1 L152.0,274.2 L154.5,275.4 L157.0,276.5 L159.5,277.5 L162.0,278.6 L164.5,279.5 L167.0,280.4 L169.5,281.1 L172.0,281.5 L174.5,281.9 L177.0,281.7 L179.5,281.3 L182.0,281.4 L184.5,282.1 L187.0,282.9 L189.5,283.7 L192.0,284.6" stroke-opacity="0.29" stroke-width="0.5"/><path d="M72.0,198.1 L74.5,202.2 L77.0,206.2 L79.5,209.9 L82.0,213.3 L84.5,216.6 L87.0,219.7 L89.5,222.7 L92.0,225.6 L94.5,228.3 L97.0,230.9 L99.5,233.3 L102.0,235.7 L104.5,238.0 L107.0,240.2 L109.5,242.2 L112.0,244.0 L114.5,245.8" stroke-opacity="0.53" stroke-width="0.6" stroke-dasharray="4 3"/><path d="M184.5,306.2 L187.0,306.4 L189.5,306.6 L192.0,306.9 L194.5,307.4 L197.0,308.1 L199.5,308.8 L202.0,309.3 L204.5,309.6 L207.0,309.6 L209.5,309.4 L212.0,309.0" stroke-opacity="0.47" stroke-width="0.6" stroke-dasharray="3 3"/><path d="M79.5,179.9 L82.0,184.3 L84.5,188.5 L87.0,192.5 L89.5,196.4 L92.0,200.2 L94.5,203.9 L97.0,207.4 L99.5,210.9 L102.0,214.2 L104.5,217.3 L107.0,220.4 L109.5,223.2 L112.0,225.9 L114.5,228.5 L117.0,231.0" stroke-opacity="0.49" stroke-width="0.6" stroke-dasharray="2 3"/><path d="M207.0,289.4 L209.5,289.8 L212.0,289.9 L214.5,288.0 L217.0,286.2 L219.5,283.2 L222.0,277.4 L224.5,274.0 L227.0,272.0 L229.5,271.5 L232.0,271.5 L234.5,272.8" stroke-opacity="0.50" stroke-width="0.6" stroke-dasharray="3 3"/><path d="M84.5,145.7 L87.0,150.0 L89.5,154.3 L92.0,158.5 L94.5,162.7 L97.0,166.8 L99.5,170.8 L102.0,174.6 L104.5,178.2 L107.0,181.7 L109.5,185.1 L112.0,188.3 L114.5,191.5" stroke-opacity="0.41" stroke-width="0.4"/><path d="M79.5,214.3 L82.0,218.0 L84.5,221.5 L87.0,224.8 L89.5,228.1 L92.0,231.2 L94.5,234.1" stroke-opacity="0.28" stroke-width="0.4"/><path d="M114.5,248.8 L117.0,250.8 L119.5,252.7 L122.0,254.5 L124.5,256.2 L127.0,258.0 L129.5,259.6 L132.0,261.3 L134.5,262.9 L137.0,264.4 L139.5,265.8 L142.0,267.0" stroke-opacity="0.54" stroke-width="0.4"/><path d="M109.5,234.2 L112.0,236.8 L114.5,239.3 L117.0,241.7 L119.5,244.0 L122.0,246.3 L124.5,248.5 L127.0,250.7 L129.5,252.8 L132.0,254.9 L134.5,256.9" stroke-opacity="0.51" stroke-width="0.4" stroke-dasharray="7 2"/><path d="M49.5,119.9 L52.0,125.6 L54.5,130.4 L57.0,134.4 L59.5,138.0 L62.0,141.5 L64.5,145.5 L67.0,150.1 L69.5,154.8 L72.0,159.2 L74.5,163.6 L77.0,167.8 L79.5,171.7 L82.0,175.2 L84.5,178.5 L87.0,181.6 L89.5,184.6" stroke-opacity="0.55" stroke-width="0.5" stroke-dasharray="6 2"/><path d="M179.5,285.6 L182.0,285.6 L184.5,286.3 L187.0,287.1 L189.5,287.9 L192.0,288.8 L194.5,289.7 L197.0,290.7 L199.5,291.8 L202.0,292.8 L204.5,293.5 L207.0,294.0 L209.5,294.3 L212.0,294.4 L214.5,292.3 L217.0,290.3 L219.5,287.0" stroke-opacity="0.44" stroke-width="0.3"/><path d="M109.5,260.7 L112.0,263.1 L114.5,265.3 L117.0,267.5" stroke-opacity="0.22" stroke-width="0.5"/><path d="M204.5,291.8 L207.0,292.3 L209.5,292.7 L212.0,292.8 L214.5,290.8" stroke-opacity="0.55" stroke-width="0.5"/><path d="M99.5,168.7 L102.0,171.8 L104.5,174.7 L107.0,177.4 L109.5,180.1 L112.0,182.7 L114.5,185.1" stroke-opacity="0.46" stroke-width="0.6"/><path d="M72.0,188.0 L74.5,192.5 L77.0,196.9 L79.5,201.0 L82.0,204.7 L84.5,208.2 L87.0,211.7" stroke-opacity="0.60" stroke-width="0.4" stroke-dasharray="6 2"/><path d="M47.0,193.5 L49.5,202.5 L52.0,211.7 L54.5,219.0 L57.0,224.8 L59.5,229.2 L62.0,233.0 L64.5,236.9 L67.0,241.0 L69.5,245.2 L72.0,249.0 L74.5,252.7 L77.0,256.3 L79.5,259.7 L82.0,263.0 L84.5,266.1 L87.0,269.2 L89.5,272.2" stroke-opacity="0.22" stroke-width="0.6"/><path d="M52.0,106.4 L54.5,112.1 L57.0,117.4 L59.5,122.3 L62.0,127.2 L64.5,132.7" stroke-opacity="0.33" stroke-width="0.3" stroke-dasharray="6 3"/><path d="M62.0,135.3 L64.5,140.4 L67.0,146.1 L69.5,151.8 L72.0,157.3 L74.5,162.7 L77.0,167.9 L79.5,172.8 L82.0,177.2" stroke-opacity="0.35" stroke-width="0.4" stroke-dasharray="8 1"/><path d="M204.5,289.0 L207.0,289.6 L209.5,289.9 L212.0,290.1 L214.5,288.3 L217.0,286.4 L219.5,283.4 L222.0,277.6 L224.5,274.3 L227.0,272.3 L229.5,271.8 L232.0,271.8 L234.5,273.1" stroke-opacity="0.21" stroke-width="0.6" stroke-dasharray="2 1"/><path d="M209.5,249.9 L212.0,251.0 L214.5,251.5 L217.0,251.8 L219.5,251.2 L222.0,249.8 L224.5,248.7 L227.0,248.1 L229.5,248.6 L232.0,249.9 L234.5,251.7" stroke-opacity="0.35" stroke-width="0.6"/><path d="M112.0,170.9 L114.5,174.4 L117.0,177.9 L119.5,181.4" stroke-opacity="0.45" stroke-width="0.5" stroke-dasharray="5 2"/><path d="M102.0,270.0 L104.5,272.0 L107.0,273.8 L109.5,275.5 L112.0,276.9 L114.5,278.3 L117.0,279.5 L119.5,280.7 L122.0,281.9 L124.5,283.0 L127.0,284.0 L129.5,285.0 L132.0,285.9 L134.5,286.8 L137.0,287.6" stroke-opacity="0.22" stroke-width="0.5" stroke-dasharray="4 2"/><path d="M117.0,169.8 L119.5,172.7 L122.0,175.6 L124.5,178.5 L127.0,181.4 L129.5,184.3" stroke-opacity="0.21" stroke-width="0.5" stroke-dasharray="4 2"/><path d="M204.5,273.3 L207.0,274.2 L209.5,274.8 L212.0,275.3 L214.5,274.2" stroke-opacity="0.26" stroke-width="0.5"/><path d="M142.0,230.1 L144.5,232.3 L147.0,234.5 L149.5,236.7 L152.0,238.8 L154.5,240.9 L157.0,243.0 L159.5,245.0 L162.0,247.1 L164.5,249.0 L167.0,250.9 L169.5,252.7 L172.0,254.2 L174.5,255.7 L177.0,256.9 L179.5,257.9 L182.0,259.2" stroke-opacity="0.31" stroke-width="0.4" stroke-dasharray="7 2"/><path d="M207.0,265.4 L209.5,266.6 L212.0,267.5 L214.5,267.2 L217.0,266.8" stroke-opacity="0.36" stroke-width="0.4" stroke-dasharray="6 1"/><path d="M187.0,224.0 L189.5,226.4 L192.0,228.5 L194.5,230.5 L197.0,232.4 L199.5,234.3 L202.0,236.4 L204.5,238.5 L207.0,240.4" stroke-opacity="0.40" stroke-width="0.5"/><path d="M107.0,147.4 L109.5,150.7 L112.0,153.9 L114.5,157.1" stroke-opacity="0.56" stroke-width="0.4" stroke-dasharray="4 1"/><path d="M74.5,166.5 L77.0,171.0 L79.5,175.2 L82.0,178.9 L84.5,182.3 L87.0,185.7 L89.5,189.0 L92.0,192.2 L94.5,195.3 L97.0,198.3 L99.5,201.2 L102.0,203.9 L104.5,206.6" stroke-opacity="0.23" stroke-width="0.3"/><path d="M79.5,180.4 L82.0,184.1 L84.5,187.6 L87.0,191.0 L89.5,194.2 L92.0,197.4 L94.5,200.5 L97.0,203.5 L99.5,206.4 L102.0,209.1 L104.5,211.8 L107.0,214.3 L109.5,216.6" stroke-opacity="0.47" stroke-width="0.5" stroke-dasharray="6 1"/><path d="M134.5,310.9 L137.0,311.5 L139.5,312.0 L142.0,312.4 L144.5,312.7 L147.0,313.0 L149.5,313.2 L152.0,313.5 L154.5,313.8 L157.0,314.0 L159.5,314.2 L162.0,314.3 L164.5,314.4 L167.0,314.3 L169.5,313.9 L172.0,313.2 L174.5,312.4" stroke-opacity="0.49" stroke-width="0.3"/><path d="M197.0,293.2 L199.5,294.2 L202.0,295.1 L204.5,295.7 L207.0,296.1 L209.5,296.3 L212.0,296.3 L214.5,294.1 L217.0,291.9 L219.5,288.4 L222.0,282.0" stroke-opacity="0.24" stroke-width="0.4"/><path d="M87.0,259.4 L89.5,262.5 L92.0,265.4 L94.5,268.1 L97.0,270.6 L99.5,273.0 L102.0,275.3 L104.5,277.5 L107.0,279.6 L109.5,281.5 L112.0,283.3 L114.5,284.8 L117.0,286.3" stroke-opacity="0.53" stroke-width="0.4" stroke-dasharray="7 3"/><path d="M134.5,215.3 L137.0,217.3 L139.5,219.2 L142.0,220.9 L144.5,222.6 L147.0,224.2 L149.5,225.8 L152.0,227.4 L154.5,229.1 L157.0,230.7 L159.5,232.4" stroke-opacity="0.59" stroke-width="0.3" stroke-dasharray="5 2"/><path d="M144.5,231.3 L147.0,233.5 L149.5,235.6 L152.0,237.7 L154.5,239.8 L157.0,241.9 L159.5,243.9 L162.0,245.9 L164.5,247.9 L167.0,249.8 L169.5,251.5 L172.0,253.1 L174.5,254.6 L177.0,255.7 L179.5,256.8 L182.0,258.1 L184.5,259.8 L187.0,261.5" stroke-opacity="0.22" stroke-width="0.6"/><path d="M137.0,246.7 L139.5,248.4 L142.0,250.0 L144.5,251.5 L147.0,252.9 L149.5,254.3 L152.0,255.7 L154.5,257.1 L157.0,258.5 L159.5,259.9 L162.0,261.2 L164.5,262.5" stroke-opacity="0.25" stroke-width="0.4" stroke-dasharray="4 1"/><path d="M189.5,289.1 L192.0,289.6 L194.5,290.1 L197.0,290.8" stroke-opacity="0.21" stroke-width="0.6"/><path d="M157.0,293.5 L159.5,294.3 L162.0,295.0 L164.5,295.6 L167.0,296.2 L169.5,296.4 L172.0,296.5 L174.5,296.3 L177.0,295.6 L179.5,294.6 L182.0,294.1" stroke-opacity="0.41" stroke-width="0.5" stroke-dasharray="3 3"/><path d="M127.0,272.6 L129.5,273.7 L132.0,274.8 L134.5,275.8 L137.0,276.8 L139.5,277.7 L142.0,278.4 L144.5,279.1 L147.0,279.7 L149.5,280.4 L152.0,281.0 L154.5,281.7 L157.0,282.3" stroke-opacity="0.40" stroke-width="0.4" stroke-dasharray="8 1"/><path d="M84.5,179.0 L87.0,182.3 L89.5,185.6 L92.0,188.9 L94.5,192.0 L97.0,195.0 L99.5,198.0 L102.0,200.8 L104.5,203.5 L107.0,206.0 L109.5,208.5 L112.0,210.7 L114.5,213.0 L117.0,215.1" stroke-opacity="0.43" stroke-width="0.6" stroke-dasharray="2 3"/><path d="M192.0,276.5 L194.5,277.4 L197.0,278.5 L199.5,279.6 L202.0,280.7 L204.5,281.6 L207.0,282.3 L209.5,282.7 L212.0,283.0 L214.5,281.5 L217.0,279.9 L219.5,277.3" stroke-opacity="0.21" stroke-width="0.6" stroke-dasharray="7 2"/><path d="M169.5,284.1 L172.0,284.6 L174.5,284.9 L177.0,284.6 L179.5,284.2 L182.0,284.2 L184.5,284.9 L187.0,285.7 L189.5,286.5 L192.0,287.3 L194.5,288.2 L197.0,289.3 L199.5,290.3 L202.0,291.3 L204.5,292.1 L207.0,292.6 L209.5,292.8" stroke-opacity="0.59" stroke-width="0.6"/><path d="M52.0,75.1 L54.5,80.0 L57.0,84.7 L59.5,89.4 L62.0,94.3 L64.5,99.9 L67.0,106.2 L69.5,112.6 L72.0,118.8 L74.5,124.9 L77.0,130.9 L79.5,136.3" stroke-opacity="0.26" stroke-width="0.5" stroke-dasharray="8 3"/><path d="M137.0,224.9 L139.5,226.9 L142.0,228.9 L144.5,230.7 L147.0,232.4" stroke-opacity="0.33" stroke-width="0.4"/><path d="M114.5,264.2 L117.0,265.7 L119.5,267.2 L122.0,268.6 L124.5,270.0 L127.0,271.3 L129.5,272.6 L132.0,273.9 L134.5,275.1 L137.0,276.2 L139.5,277.2 L142.0,278.1 L144.5,278.9 L147.0,279.6 L149.5,280.4 L152.0,281.2 L154.5,282.0 L157.0,282.7" stroke-opacity="0.38" stroke-width="0.3"/><path d="M197.0,233.4 L199.5,235.3 L202.0,237.3 L204.5,239.4 L207.0,241.4 L209.5,242.9 L212.0,244.2 L214.5,245.1 L217.0,245.7 L219.5,245.6 L222.0,244.8 L224.5,244.1 L227.0,243.7" stroke-opacity="0.31" stroke-width="0.5" stroke-dasharray="2 3"/><path d="M44.5,178.0 L47.0,185.9 L49.5,194.1 L52.0,202.4 L54.5,208.9 L57.0,213.9 L59.5,217.8" stroke-opacity="0.58" stroke-width="0.4" stroke-dasharray="4 1"/><path d="M207.0,313.8 L209.5,313.4 L212.0,312.9 L214.5,309.7 L217.0,306.5 L219.5,302.0 L222.0,293.7 L224.5,289.0 L227.0,286.2 L229.5,285.1 L232.0,284.2 L234.5,285.2" stroke-opacity="0.31" stroke-width="0.5" stroke-dasharray="4 2"/><path d="M94.5,256.7 L97.0,258.7 L99.5,260.6 L102.0,262.5 L104.5,264.3 L107.0,265.9 L109.5,267.4 L112.0,268.7 L114.5,270.0 L117.0,271.1" stroke-opacity="0.43" stroke-width="0.4"/><path d="M124.5,196.6 L127.0,199.2 L129.5,201.8 L132.0,204.3 L134.5,206.8 L137.0,209.2 L139.5,211.5 L142.0,213.7 L144.5,215.8 L147.0,217.8 L149.5,219.7 L152.0,221.7 L154.5,223.7 L157.0,225.7 L159.5,227.7" stroke-opacity="0.43" stroke-width="0.5" stroke-dasharray="7 2"/><path d="M127.0,179.8 L129.5,182.8 L132.0,185.7 L134.5,188.6 L137.0,191.4 L139.5,194.1 L142.0,196.7 L144.5,199.1 L147.0,201.5 L149.5,203.8 L152.0,206.2 L154.5,208.5 L157.0,210.9 L159.5,213.2 L162.0,215.6 L164.5,217.9 L167.0,220.3" stroke-opacity="0.32" stroke-width="0.4" stroke-dasharray="8 3"/><path d="M72.0,194.5 L74.5,199.5 L77.0,204.4 L79.5,209.0 L82.0,213.2 L84.5,217.3 L87.0,221.2" stroke-opacity="0.33" stroke-width="0.4" stroke-dasharray="5 2"/><path d="M142.0,284.0 L144.5,284.3 L147.0,284.6 L149.5,285.0 L152.0,285.3 L154.5,285.7 L157.0,286.1 L159.5,286.4 L162.0,286.7 L164.5,287.0 L167.0,287.2 L169.5,287.2 L172.0,287.0" stroke-opacity="0.55" stroke-width="0.5" stroke-dasharray="8 2"/><path d="M134.5,270.6 L137.0,272.2 L139.5,273.6 L142.0,274.8 L144.5,276.0 L147.0,277.1 L149.5,278.2 L152.0,279.3 L154.5,280.4 L157.0,281.5 L159.5,282.5 L162.0,283.4 L164.5,284.3 L167.0,285.1" stroke-opacity="0.50" stroke-width="0.4" stroke-dasharray="7 1"/><path d="M194.5,265.4 L197.0,266.8 L199.5,268.3 L202.0,269.7 L204.5,271.1 L207.0,272.2 L209.5,273.0 L212.0,273.6 L214.5,272.8 L217.0,271.9 L219.5,269.9 L222.0,265.9 L224.5,263.5 L227.0,262.1 L229.5,262.1 L232.0,262.6 L234.5,264.1" stroke-opacity="0.54" stroke-width="0.3"/><path d="M92.0,145.0 L94.5,149.6 L97.0,154.2 L99.5,158.6 L102.0,162.8 L104.5,166.9 L107.0,170.8 L109.5,174.5 L112.0,178.2 L114.5,181.7 L117.0,185.1 L119.5,188.5 L122.0,191.9 L124.5,195.2" stroke-opacity="0.48" stroke-width="0.6" stroke-dasharray="3 1"/><path d="M64.5,171.7 L67.0,176.7 L69.5,181.7 L72.0,186.4 L74.5,191.1 L77.0,195.6 L79.5,199.8 L82.0,203.7 L84.5,207.4 L87.0,210.9" stroke-opacity="0.59" stroke-width="0.5" stroke-dasharray="6 3"/><path d="M124.5,217.5 L127.0,219.7 L129.5,222.0 L132.0,224.2 L134.5,226.4 L137.0,228.5 L139.5,230.5 L142.0,232.3 L144.5,234.1 L147.0,235.8 L149.5,237.4" stroke-opacity="0.32" stroke-width="0.4" stroke-dasharray="8 3"/><path d="M194.5,291.6 L197.0,292.5 L199.5,293.5 L202.0,294.3 L204.5,295.0 L207.0,295.4 L209.5,295.6 L212.0,295.5 L214.5,293.4 L217.0,291.2 L219.5,287.8" stroke-opacity="0.35" stroke-width="0.4" stroke-dasharray="4 2"/><path d="M59.5,132.3 L62.0,136.5 L64.5,141.4 L67.0,146.8 L69.5,152.3 L72.0,157.5 L74.5,162.7 L77.0,167.7 L79.5,172.3 L82.0,176.5 L84.5,180.5 L87.0,184.3 L89.5,188.0 L92.0,191.6 L94.5,195.2 L97.0,198.6 L99.5,201.9 L102.0,205.0" stroke-opacity="0.33" stroke-width="0.6"/><path d="M217.0,284.1 L219.5,281.2 L222.0,275.6 L224.5,272.3 L227.0,270.3 L229.5,269.8 L232.0,269.8 L234.5,271.0" stroke-opacity="0.56" stroke-width="0.3" stroke-dasharray="9 2"/><path d="M139.5,206.7 L142.0,209.5 L144.5,212.0 L147.0,214.5 L149.5,217.0 L152.0,219.4 L154.5,221.8 L157.0,224.2 L159.5,226.6 L162.0,229.0" stroke-opacity="0.41" stroke-width="0.5"/><path d="M149.5,260.4 L152.0,261.5 L154.5,262.7 L157.0,263.8 L159.5,265.0 L162.0,266.1 L164.5,267.1 L167.0,268.1 L169.5,269.0" stroke-opacity="0.38" stroke-width="0.3" stroke-dasharray="5 1"/><path d="M159.5,267.9 L162.0,269.1 L164.5,270.2 L167.0,271.2 L169.5,272.0 L172.0,272.6 L174.5,273.2 L177.0,273.3 L179.5,273.3 L182.0,273.6 L184.5,274.5 L187.0,275.5 L189.5,276.5 L192.0,277.4 L194.5,278.4 L197.0,279.5 L199.5,280.6 L202.0,281.7" stroke-opacity="0.43" stroke-width="0.6"/><path d="M154.5,255.4 L157.0,256.8 L159.5,258.2 L162.0,259.5 L164.5,260.8 L167.0,262.0 L169.5,263.1 L172.0,264.0 L174.5,264.8 L177.0,265.3 L179.5,265.6 L182.0,266.3 L184.5,267.4" stroke-opacity="0.34" stroke-width="0.5"/><path d="M217.0,287.1 L219.5,283.9 L222.0,277.9 L224.5,274.4 L227.0,272.3 L229.5,271.7 L232.0,271.6 L234.5,272.8" stroke-opacity="0.32" stroke-width="0.4"/><path d="M209.5,285.6 L212.0,285.7 L214.5,284.0 L217.0,282.3 L219.5,279.4 L222.0,274.1 L224.5,270.9 L227.0,269.0 L229.5,268.6 L232.0,268.6 L234.5,269.9" stroke-opacity="0.56" stroke-width="0.4" stroke-dasharray="6 3"/><path d="M117.0,282.8 L119.5,284.5 L122.0,286.2 L124.5,287.7" stroke-opacity="0.45" stroke-width="0.5" stroke-dasharray="2 3"/><path d="M97.0,229.7 L99.5,232.8 L102.0,235.8 L104.5,238.7 L107.0,241.4 L109.5,244.0 L112.0,246.4 L114.5,248.6 L117.0,250.8 L119.5,252.9 L122.0,255.0 L124.5,257.0 L127.0,258.9 L129.5,260.8 L132.0,262.6" stroke-opacity="0.42" stroke-width="0.6" stroke-dasharray="3 3"/><path d="M74.5,252.1 L77.0,254.9 L79.5,257.7 L82.0,260.4 L84.5,262.9 L87.0,265.4 L89.5,267.7 L92.0,269.7 L94.5,271.6 L97.0,273.3 L99.5,274.9 L102.0,276.4 L104.5,277.9 L107.0,279.3 L109.5,280.5 L112.0,281.5" stroke-opacity="0.42" stroke-width="0.4"/><path d="M144.5,263.9 L147.0,265.5 L149.5,267.0 L152.0,268.5 L154.5,270.0 L157.0,271.5 L159.5,273.0 L162.0,274.3 L164.5,275.6 L167.0,276.8" stroke-opacity="0.44" stroke-width="0.4" stroke-dasharray="3 1"/><path d="M137.0,282.9 L139.5,283.5 L142.0,284.1 L144.5,284.5 L147.0,285.0 L149.5,285.4 L152.0,285.9 L154.5,286.3 L157.0,286.8 L159.5,287.3 L162.0,287.7 L164.5,288.0 L167.0,288.3 L169.5,288.4 L172.0,288.3 L174.5,288.0 L177.0,287.2" stroke-opacity="0.39" stroke-width="0.5"/><path d="M147.0,241.5 L149.5,243.3 L152.0,245.1 L154.5,246.9 L157.0,248.6 L159.5,250.4" stroke-opacity="0.49" stroke-width="0.4" stroke-dasharray="6 3"/><path d="M147.0,310.3 L149.5,310.8 L152.0,311.3 L154.5,311.8 L157.0,312.2 L159.5,312.6 L162.0,312.9 L164.5,313.2 L167.0,313.3" stroke-opacity="0.28" stroke-width="0.5" stroke-dasharray="5 2"/><path d="M122.0,237.1 L124.5,239.6 L127.0,242.0 L129.5,244.4 L132.0,246.7 L134.5,249.0 L137.0,251.1 L139.5,253.2 L142.0,255.0 L144.5,256.8 L147.0,258.5 L149.5,260.2 L152.0,261.8" stroke-opacity="0.30" stroke-width="0.4" stroke-dasharray="4 2"/><path d="M124.5,313.9 L127.0,314.8 L129.5,315.7 L132.0,316.5 L134.5,317.2 L137.0,317.9 L139.5,318.4 L142.0,318.8 L144.5,319.1 L147.0,319.4" stroke-opacity="0.44" stroke-width="0.6" stroke-dasharray="3 1"/><path d="M147.0,238.2 L149.5,240.0 L152.0,241.9 L154.5,243.7 L157.0,245.5 L159.5,247.4 L162.0,249.1 L164.5,250.9 L167.0,252.5 L169.5,254.1" stroke-opacity="0.32" stroke-width="0.6" stroke-dasharray="5 1"/><path d="M77.0,233.3 L79.5,236.7 L82.0,240.0 L84.5,243.1 L87.0,246.2 L89.5,249.1 L92.0,251.7 L94.5,254.2 L97.0,256.5 L99.5,258.8 L102.0,260.9 L104.5,263.0 L107.0,264.9 L109.5,266.7 L112.0,268.3 L114.5,269.7 L117.0,271.1 L119.5,272.5" stroke-opacity="0.32" stroke-width="0.5" stroke-dasharray="8 2"/><path d="M64.5,167.6 L67.0,172.0 L69.5,176.4 L72.0,180.5 L74.5,184.7 L77.0,188.7 L79.5,192.3 L82.0,195.7 L84.5,198.8 L87.0,201.8 L89.5,204.8 L92.0,207.6 L94.5,210.3 L97.0,212.9 L99.5,215.3 L102.0,217.7 L104.5,220.0" stroke-opacity="0.57" stroke-width="0.5" stroke-dasharray="9 2"/><path d="M92.0,225.8 L94.5,228.7 L97.0,231.4 L99.5,234.1" stroke-opacity="0.34" stroke-width="0.4"/><path d="M192.0,290.7 L194.5,291.3 L197.0,292.0 L199.5,292.7 L202.0,293.4 L204.5,293.9" stroke-opacity="0.42" stroke-width="0.5"/><path d="M82.0,228.9 L84.5,232.2 L87.0,235.3 L89.5,238.3 L92.0,241.1 L94.5,243.7 L97.0,246.2 L99.5,248.6 L102.0,250.9 L104.5,253.1" stroke-opacity="0.35" stroke-width="0.6" stroke-dasharray="9 3"/><path d="M162.0,301.2 L164.5,301.7 L167.0,302.1 L169.5,302.2 L172.0,302.1 L174.5,301.7 L177.0,300.7 L179.5,299.5 L182.0,298.8 L184.5,298.9 L187.0,299.2 L189.5,299.7 L192.0,300.1 L194.5,300.7 L197.0,301.5" stroke-opacity="0.60" stroke-width="0.5" stroke-dasharray="7 3"/><path d="M82.0,232.5 L84.5,236.0 L87.0,239.4 L89.5,242.7 L92.0,245.7 L94.5,248.6 L97.0,251.3 L99.5,253.9 L102.0,256.4 L104.5,258.8 L107.0,261.1 L109.5,263.2 L112.0,265.1 L114.5,266.9 L117.0,268.6 L119.5,270.2 L122.0,271.8" stroke-opacity="0.50" stroke-width="0.5" stroke-dasharray="6 3"/><path d="M159.5,228.0 L162.0,230.0 L164.5,232.0 L167.0,234.0 L169.5,235.9 L172.0,237.7 L174.5,239.5 L177.0,241.1 L179.5,242.6 L182.0,244.3 L184.5,246.3 L187.0,248.2 L189.5,250.0" stroke-opacity="0.26" stroke-width="0.3"/><path d="M84.5,164.5 L87.0,168.6 L89.5,172.7 L92.0,176.8 L94.5,180.8 L97.0,184.6 L99.5,188.3" stroke-opacity="0.47" stroke-width="0.3" stroke-dasharray="7 3"/><path d="M172.0,232.5 L174.5,234.4 L177.0,236.0 L179.5,237.8 L182.0,239.6" stroke-opacity="0.29" stroke-width="0.3"/><path d="M204.5,287.0 L207.0,287.5 L209.5,287.8 L212.0,287.8 L214.5,286.0 L217.0,284.2 L219.5,281.2 L222.0,275.6 L224.5,272.3 L227.0,270.4 L229.5,269.9 L232.0,269.9 L234.5,271.2" stroke-opacity="0.45" stroke-width="0.5"/><path d="M109.5,148.6 L112.0,151.7 L114.5,154.7 L117.0,157.7 L119.5,160.7 L122.0,163.7 L124.5,166.7 L127.0,169.7 L129.5,172.8 L132.0,175.8 L134.5,178.7 L137.0,181.6 L139.5,184.4 L142.0,187.1 L144.5,189.7 L147.0,192.1" stroke-opacity="0.47" stroke-width="0.4" stroke-dasharray="9 1"/><path d="M204.5,247.5 L207.0,249.3 L209.5,250.8 L212.0,252.0 L214.5,252.5" stroke-opacity="0.27" stroke-width="0.3"/><path d="M49.5,83.9 L52.0,89.3 L54.5,94.4 L57.0,99.0" stroke-opacity="0.44" stroke-width="0.5"/><path d="M142.0,297.0 L144.5,297.7 L147.0,298.3 L149.5,298.9 L152.0,299.6 L154.5,300.2 L157.0,300.7 L159.5,301.3 L162.0,301.8 L164.5,302.2 L167.0,302.5 L169.5,302.5 L172.0,302.2 L174.5,301.8" stroke-opacity="0.46" stroke-width="0.4"/><path d="M89.5,191.9 L92.0,195.6 L94.5,199.3 L97.0,202.8 L99.5,206.2 L102.0,209.5 L104.5,212.6 L107.0,215.6 L109.5,218.4 L112.0,221.1" stroke-opacity="0.47" stroke-width="0.5"/><path d="M159.5,306.6 L162.0,306.9 L164.5,307.2 L167.0,307.4 L169.5,307.3 L172.0,306.9 L174.5,306.3 L177.0,305.0 L179.5,303.6 L182.0,302.6 L184.5,302.5 L187.0,302.7 L189.5,302.9 L192.0,303.2 L194.5,303.7 L197.0,304.4 L199.5,305.0 L202.0,305.6" stroke-opacity="0.22" stroke-width="0.6"/><path d="M62.0,232.1 L64.5,235.6 L67.0,239.4 L69.5,243.1 L72.0,246.6 L74.5,249.9 L77.0,253.1 L79.5,256.2 L82.0,259.1 L84.5,261.9 L87.0,264.7 L89.5,267.3 L92.0,269.6 L94.5,271.7 L97.0,273.6 L99.5,275.5" stroke-opacity="0.33" stroke-width="0.6" stroke-dasharray="3 2"/><path d="M177.0,247.4 L179.5,248.7 L182.0,250.1 L184.5,251.8 L187.0,253.6 L189.5,255.2 L192.0,256.7 L194.5,258.1 L197.0,259.6 L199.5,261.1 L202.0,262.6 L204.5,264.1 L207.0,265.4 L209.5,266.3 L212.0,267.0 L214.5,266.5 L217.0,265.9" stroke-opacity="0.29" stroke-width="0.5" stroke-dasharray="8 2"/><path d="M174.5,236.4 L177.0,238.3 L179.5,240.1 L182.0,242.1 L184.5,244.3 L187.0,246.5 L189.5,248.5 L192.0,250.3 L194.5,252.0 L197.0,253.8 L199.5,255.5 L202.0,257.3 L204.5,259.1 L207.0,260.6 L209.5,261.8 L212.0,262.8 L214.5,262.7" stroke-opacity="0.54" stroke-width="0.5" stroke-dasharray="5 2"/><path d="M182.0,265.0 L184.5,266.4 L187.0,267.9 L189.5,269.3 L192.0,270.6 L194.5,271.9 L197.0,273.3 L199.5,274.7 L202.0,276.1 L204.5,277.3 L207.0,278.3" stroke-opacity="0.50" stroke-width="0.3"/><path d="M139.5,202.9 L142.0,205.2 L144.5,207.5 L147.0,209.6 L149.5,211.7 L152.0,213.9 L154.5,216.0 L157.0,218.2 L159.5,220.3 L162.0,222.5 L164.5,224.6 L167.0,226.7 L169.5,228.8 L172.0,230.7 L174.5,232.7 L177.0,234.5" stroke-opacity="0.46" stroke-width="0.5" stroke-dasharray="2 1"/><path d="M79.5,206.3 L82.0,210.0 L84.5,213.4 L87.0,216.7 L89.5,220.0 L92.0,223.0 L94.5,225.9 L97.0,228.7" stroke-opacity="0.25" stroke-width="0.5" stroke-dasharray="9 1"/><path d="M167.0,227.2 L169.5,229.1 L172.0,230.9 L174.5,232.6 L177.0,234.3 L179.5,236.0" stroke-opacity="0.57" stroke-width="0.4" stroke-dasharray="4 3"/><path d="M187.0,260.5 L189.5,261.9 L192.0,263.2 L194.5,264.4 L197.0,265.8 L199.5,267.1 L202.0,268.5 L204.5,269.7 L207.0,270.8 L209.5,271.5 L212.0,272.1 L214.5,271.2" stroke-opacity="0.37" stroke-width="0.6"/><path d="M192.0,306.6 L194.5,307.0 L197.0,307.7 L199.5,308.4 L202.0,309.0 L204.5,309.3 L207.0,309.3 L209.5,309.1 L212.0,308.7 L214.5,305.8" stroke-opacity="0.53" stroke-width="0.3" stroke-dasharray="7 2"/><path d="M92.0,239.4 L94.5,241.7 L97.0,243.8 L99.5,245.9 L102.0,247.9 L104.5,249.8 L107.0,251.5" stroke-opacity="0.24" stroke-width="0.4"/><path d="M144.5,287.0 L147.0,287.6 L149.5,288.2 L152.0,288.9 L154.5,289.5 L157.0,290.1 L159.5,290.7 L162.0,291.2" stroke-opacity="0.27" stroke-width="0.3" stroke-dasharray="9 1"/><path d="M174.5,239.8 L177.0,241.3 L179.5,242.8 L182.0,244.5 L184.5,246.4 L187.0,248.3 L189.5,250.1 L192.0,251.7" stroke-opacity="0.24" stroke-width="0.5" stroke-dasharray="5 3"/><path d="M59.5,178.1 L62.0,181.9 L64.5,186.0 L67.0,190.5 L69.5,195.1 L72.0,199.4 L74.5,203.6 L77.0,207.7" stroke-opacity="0.45" stroke-width="0.6"/><path d="M67.0,202.0 L69.5,206.3 L72.0,210.2 L74.5,214.1" stroke-opacity="0.21" stroke-width="0.4" stroke-dasharray="7 1"/><path d="M202.0,251.0 L204.5,252.9 L207.0,254.6 L209.5,255.9 L212.0,257.0 L214.5,257.2 L217.0,257.3 L219.5,256.4 L222.0,254.3 L224.5,252.9 L227.0,252.1 L229.5,252.5 L232.0,253.6 L234.5,255.3" stroke-opacity="0.27" stroke-width="0.6"/><path d="M77.0,134.6 L79.5,139.3 L82.0,143.5 L84.5,147.4 L87.0,151.1 L89.5,154.8 L92.0,158.6 L94.5,162.2 L97.0,165.8 L99.5,169.2 L102.0,172.6 L104.5,175.7 L107.0,178.8 L109.5,181.7 L112.0,184.5 L114.5,187.2 L117.0,189.8" stroke-opacity="0.34" stroke-width="0.4" stroke-dasharray="7 2"/><path d="M144.5,264.3 L147.0,265.0 L149.5,265.8 L152.0,266.6 L154.5,267.4 L157.0,268.2 L159.5,269.0 L162.0,269.7 L164.5,270.5 L167.0,271.2 L169.5,271.7 L172.0,272.0 L174.5,272.3 L177.0,272.2" stroke-opacity="0.57" stroke-width="0.6" stroke-dasharray="2 1"/><path d="M72.0,170.7 L74.5,175.6 L77.0,180.3 L79.5,184.6 L82.0,188.6 L84.5,192.3 L87.0,196.0 L89.5,199.5" stroke-opacity="0.44" stroke-width="0.5" stroke-dasharray="5 1"/><path d="M114.5,283.2 L117.0,284.7 L119.5,286.1 L122.0,287.5" stroke-opacity="0.54" stroke-width="0.5" stroke-dasharray="7 1"/><path d="M192.0,304.0 L194.5,304.3 L197.0,304.9 L199.5,305.5 L202.0,306.0 L204.5,306.3 L207.0,306.2 L209.5,305.9 L212.0,305.6 L214.5,302.7 L217.0,299.8 L219.5,295.8" stroke-opacity="0.37" stroke-width="0.4"/><path d="M104.5,212.9 L107.0,215.6 L109.5,218.1 L112.0,220.4 L114.5,222.7 L117.0,224.9 L119.5,227.1 L122.0,229.2 L124.5,231.2 L127.0,233.3 L129.5,235.3" stroke-opacity="0.20" stroke-width="0.6" stroke-dasharray="4 2"/><path d="M142.0,270.7 L144.5,271.7 L147.0,272.6 L149.5,273.5 L152.0,274.5 L154.5,275.4 L157.0,276.3 L159.5,277.2 L162.0,278.1" stroke-opacity="0.43" stroke-width="0.5" stroke-dasharray="9 2"/><path d="M197.0,257.3 L199.5,259.1 L202.0,260.9 L204.5,262.6 L207.0,264.1 L209.5,265.3 L212.0,266.2 L214.5,266.0 L217.0,265.6 L219.5,264.2" stroke-opacity="0.58" stroke-width="0.5"/><path d="M152.0,307.7 L154.5,308.0 L157.0,308.4 L159.5,308.7 L162.0,308.9 L164.5,309.1 L167.0,309.2 L169.5,308.9" stroke-opacity="0.43" stroke-width="0.4" stroke-dasharray="4 2"/><path d="M154.5,219.1 L157.0,221.4 L159.5,223.7 L162.0,226.0 L164.5,228.2 L167.0,230.4 L169.5,232.5 L172.0,234.5 L174.5,236.5 L177.0,238.3 L179.5,240.1 L182.0,242.0 L184.5,244.1 L187.0,246.2 L189.5,248.1 L192.0,249.8 L194.5,251.5" stroke-opacity="0.28" stroke-width="0.5" stroke-dasharray="3 1"/><path d="M147.0,229.6 L149.5,231.4 L152.0,233.2 L154.5,235.0 L157.0,236.8 L159.5,238.6 L162.0,240.3 L164.5,242.1 L167.0,243.8 L169.5,245.4" stroke-opacity="0.34" stroke-width="0.4" stroke-dasharray="6 1"/><path d="M79.5,238.6 L82.0,242.6 L84.5,246.5 L87.0,250.2 L89.5,253.9 L92.0,257.2 L94.5,260.4 L97.0,263.3 L99.5,266.2 L102.0,268.9 L104.5,271.6 L107.0,274.1 L109.5,276.5 L112.0,278.6 L114.5,280.6" stroke-opacity="0.24" stroke-width="0.6" stroke-dasharray="3 1"/><path d="M129.5,227.6 L132.0,229.6 L134.5,231.5 L137.0,233.4 L139.5,235.2 L142.0,236.8 L144.5,238.4 L147.0,239.9 L149.5,241.3 L152.0,242.8 L154.5,244.3 L157.0,245.8" stroke-opacity="0.38" stroke-width="0.5"/><path d="M144.5,237.7 L147.0,239.8 L149.5,241.8 L152.0,243.8 L154.5,245.8 L157.0,247.7 L159.5,249.7 L162.0,251.5 L164.5,253.4 L167.0,255.1 L169.5,256.7 L172.0,258.2 L174.5,259.5 L177.0,260.5 L179.5,261.3 L182.0,262.5 L184.5,264.0" stroke-opacity="0.36" stroke-width="0.3" stroke-dasharray="3 3"/><path d="M62.0,60.1 L64.5,65.9 L67.0,72.5 L69.5,79.2 L72.0,85.6 L74.5,92.1 L77.0,98.4 L79.5,104.2 L82.0,109.2 L84.5,113.9 L87.0,118.4 L89.5,122.9 L92.0,127.4 L94.5,132.0 L97.0,136.4 L99.5,140.8 L102.0,144.9" stroke-opacity="0.47" stroke-width="0.5"/><path d="M59.5,203.7 L62.0,207.4 L64.5,211.4 L67.0,215.8 L69.5,220.2 L72.0,224.3 L74.5,228.3 L77.0,232.1 L79.5,235.7" stroke-opacity="0.51" stroke-width="0.3" stroke-dasharray="7 1"/><path d="M82.0,271.2 L84.5,274.3 L87.0,277.4 L89.5,280.4 L92.0,283.0 L94.5,285.3 L97.0,287.5 L99.5,289.5" stroke-opacity="0.25" stroke-width="0.3"/><path d="M79.5,262.7 L82.0,266.5 L84.5,270.2 L87.0,273.8 L89.5,277.3" stroke-opacity="0.57" stroke-width="0.6" stroke-dasharray="7 3"/><path d="M64.5,124.6 L67.0,130.6 L69.5,136.7 L72.0,142.4 L74.5,148.1 L77.0,153.7 L79.5,158.8 L82.0,163.5 L84.5,167.8" stroke-opacity="0.41" stroke-width="0.5" stroke-dasharray="9 1"/><path d="M107.0,168.4 L109.5,171.5 L112.0,174.4 L114.5,177.3 L117.0,180.2 L119.5,183.0 L122.0,185.8 L124.5,188.6 L127.0,191.4" stroke-opacity="0.52" stroke-width="0.3"/><path d="M77.0,144.9 L79.5,149.4 L82.0,153.5 L84.5,157.2 L87.0,160.7 L89.5,164.3 L92.0,167.8 L94.5,171.2 L97.0,174.6 L99.5,177.8 L102.0,180.9" stroke-opacity="0.21" stroke-width="0.6" stroke-dasharray="2 2"/><path d="M77.0,251.6 L79.5,255.4 L82.0,259.1 L84.5,262.6 L87.0,266.0 L89.5,269.3 L92.0,272.3 L94.5,275.0 L97.0,277.6 L99.5,280.0 L102.0,282.4 L104.5,284.7" stroke-opacity="0.57" stroke-width="0.6"/><path d="M87.0,141.2 L89.5,145.3 L92.0,149.4 L94.5,153.5 L97.0,157.5 L99.5,161.4 L102.0,165.1 L104.5,168.7 L107.0,172.1 L109.5,175.4 L112.0,178.6 L114.5,181.6 L117.0,184.7 L119.5,187.6 L122.0,190.6" stroke-opacity="0.50" stroke-width="0.4" stroke-dasharray="2 2"/><path d="M129.5,175.6 L132.0,178.9 L134.5,182.1 L137.0,185.2" stroke-opacity="0.52" stroke-width="0.3" stroke-dasharray="8 2"/><path d="M122.0,176.0 L124.5,179.3 L127.0,182.6 L129.5,185.9 L132.0,189.2 L134.5,192.3 L137.0,195.4" stroke-opacity="0.55" stroke-width="0.5" stroke-dasharray="7 3"/><path d="M147.0,297.0 L149.5,297.8 L152.0,298.5 L154.5,299.3" stroke-opacity="0.28" stroke-width="0.6"/><path d="M209.5,286.9 L212.0,287.0 L214.5,285.3 L217.0,283.5 L219.5,280.6 L222.0,275.1 L224.5,271.9 L227.0,270.0 L229.5,269.5" stroke-opacity="0.20" stroke-width="0.5" stroke-dasharray="2 1"/><path d="M52.0,140.5 L54.5,147.0 L57.0,152.6 L59.5,157.6 L62.0,162.3 L64.5,167.5" stroke-opacity="0.49" stroke-width="0.4" stroke-dasharray="3 3"/><path d="M144.5,189.7 L147.0,192.3 L149.5,194.8 L152.0,197.4 L154.5,200.0 L157.0,202.6 L159.5,205.2 L162.0,207.8 L164.5,210.4 L167.0,212.9 L169.5,215.5 L172.0,218.0 L174.5,220.4" stroke-opacity="0.58" stroke-width="0.6" stroke-dasharray="3 1"/><path d="M157.0,234.2 L159.5,236.3 L162.0,238.3 L164.5,240.3 L167.0,242.2 L169.5,244.0 L172.0,245.7 L174.5,247.3 L177.0,248.7" stroke-opacity="0.52" stroke-width="0.6" stroke-dasharray="4 3"/><path d="M104.5,295.0 L107.0,297.3 L109.5,299.2 L112.0,301.0 L114.5,302.7 L117.0,304.2 L119.5,305.6 L122.0,306.9 L124.5,308.2" stroke-opacity="0.40" stroke-width="0.5" stroke-dasharray="8 2"/><path d="M99.5,275.8 L102.0,277.7 L104.5,279.6 L107.0,281.3 L109.5,282.8 L112.0,284.1 L114.5,285.3 L117.0,286.4 L119.5,287.5 L122.0,288.5 L124.5,289.4 L127.0,290.3 L129.5,291.1 L132.0,291.9 L134.5,292.7 L137.0,293.3" stroke-opacity="0.39" stroke-width="0.4" stroke-dasharray="5 2"/><path d="M202.0,288.4 L204.5,289.0 L207.0,289.3 L209.5,289.4 L212.0,289.4 L214.5,287.4 L217.0,285.4 L219.5,282.3 L222.0,276.5 L224.5,273.1 L227.0,271.1 L229.5,270.5 L232.0,270.4 L234.5,271.6" stroke-opacity="0.38" stroke-width="0.5" stroke-dasharray="6 1"/><path d="M172.0,245.6 L174.5,246.9 L177.0,248.0 L179.5,249.1 L182.0,250.4 L184.5,252.0 L187.0,253.6 L189.5,255.1" stroke-opacity="0.49" stroke-width="0.5"/><path d="M147.0,284.1 L149.5,285.2 L152.0,286.3 L154.5,287.3 L157.0,288.3" stroke-opacity="0.43" stroke-width="0.4" stroke-dasharray="9 2"/><path d="M172.0,230.8 L174.5,233.0 L177.0,235.0 L179.5,237.1 L182.0,239.2 L184.5,241.5 L187.0,243.8 L189.5,245.8 L192.0,247.7 L194.5,249.5 L197.0,251.3 L199.5,253.1 L202.0,255.0 L204.5,256.8 L207.0,258.4 L209.5,259.7 L212.0,260.8 L214.5,260.8" stroke-opacity="0.23" stroke-width="0.5"/><path d="M47.0,156.2 L49.5,163.5 L52.0,171.0 L54.5,177.1 L57.0,181.9 L59.5,185.9" stroke-opacity="0.45" stroke-width="0.4" stroke-dasharray="2 2"/><path d="M94.5,223.2 L97.0,226.5 L99.5,229.8 L102.0,233.0 L104.5,236.0 L107.0,238.9 L109.5,241.6 L112.0,244.2 L114.5,246.6 L117.0,248.9 L119.5,251.2 L122.0,253.4" stroke-opacity="0.46" stroke-width="0.4"/><path d="M57.0,55.1 L59.5,59.4 L62.0,64.1 L64.5,69.7 L67.0,76.0 L69.5,82.5 L72.0,88.7 L74.5,95.0 L77.0,101.1 L79.5,106.7 L82.0,111.5 L84.5,116.0 L87.0,120.4 L89.5,124.7 L92.0,129.1 L94.5,133.5" stroke-opacity="0.53" stroke-width="0.5"/><path d="M157.0,299.9 L159.5,300.1 L162.0,300.3 L164.5,300.4" stroke-opacity="0.46" stroke-width="0.6" stroke-dasharray="7 3"/><path d="M152.0,304.6 L154.5,304.9 L157.0,305.2 L159.5,305.4 L162.0,305.6 L164.5,305.7 L167.0,305.7 L169.5,305.5 L172.0,305.0 L174.5,304.3 L177.0,303.0 L179.5,301.4 L182.0,300.4 L184.5,300.3 L187.0,300.4 L189.5,300.6" stroke-opacity="0.34" stroke-width="0.3" stroke-dasharray="2 1"/><path d="M132.0,220.3 L134.5,222.5 L137.0,224.6 L139.5,226.7 L142.0,228.6 L144.5,230.4 L147.0,232.1 L149.5,233.8 L152.0,235.5 L154.5,237.2 L157.0,239.0 L159.5,240.7 L162.0,242.4" stroke-opacity="0.36" stroke-width="0.6"/><path d="M159.5,299.7 L162.0,299.9 L164.5,300.0 L167.0,300.1 L169.5,299.9 L172.0,299.5 L174.5,298.9 L177.0,297.7 L179.5,296.4" stroke-opacity="0.22" stroke-width="0.5"/><path d="M72.0,194.1 L74.5,198.1 L77.0,201.9 L79.5,205.5 L82.0,208.7 L84.5,211.7" stroke-opacity="0.41" stroke-width="0.6" stroke-dasharray="7 2"/><path d="M197.0,288.3 L199.5,289.3 L202.0,290.2 L204.5,291.0 L207.0,291.4 L209.5,291.7" stroke-opacity="0.46" stroke-width="0.5" stroke-dasharray="6 3"/><path d="M157.0,243.6 L159.5,245.0 L162.0,246.3 L164.5,247.7 L167.0,249.0 L169.5,250.2 L172.0,251.3 L174.5,252.3 L177.0,253.1 L179.5,253.8 L182.0,254.8 L184.5,256.2 L187.0,257.6 L189.5,258.9" stroke-opacity="0.51" stroke-width="0.6" stroke-dasharray="6 2"/><path d="M67.0,160.9 L69.5,166.6 L72.0,172.1 L74.5,177.5" stroke-opacity="0.42" stroke-width="0.3"/><path d="M154.5,194.4 L157.0,196.9 L159.5,199.5 L162.0,202.1 L164.5,204.7 L167.0,207.3 L169.5,209.8 L172.0,212.4 L174.5,214.9 L177.0,217.5" stroke-opacity="0.50" stroke-width="0.3" stroke-dasharray="4 1"/><path d="M142.0,300.0 L144.5,300.4 L147.0,300.8 L149.5,301.2 L152.0,301.6 L154.5,302.0" stroke-opacity="0.30" stroke-width="0.5"/><path d="M194.5,258.6 L197.0,260.3 L199.5,262.0 L202.0,263.7 L204.5,265.3 L207.0,266.7 L209.5,267.8 L212.0,268.7 L214.5,268.3 L217.0,267.7 L219.5,266.1 L222.0,262.8 L224.5,260.7 L227.0,259.5 L229.5,259.7 L232.0,260.4" stroke-opacity="0.26" stroke-width="0.3"/><path d="M132.0,290.5 L134.5,291.9 L137.0,293.1 L139.5,294.3 L142.0,295.3 L144.5,296.2 L147.0,297.1 L149.5,298.0 L152.0,298.8 L154.5,299.6 L157.0,300.4 L159.5,301.1 L162.0,301.8 L164.5,302.4" stroke-opacity="0.56" stroke-width="0.6" stroke-dasharray="5 2"/><path d="M159.5,213.8 L162.0,215.9 L164.5,218.1 L167.0,220.2" stroke-opacity="0.23" stroke-width="0.5" stroke-dasharray="7 1"/><path d="M204.5,289.3 L207.0,289.7 L209.5,289.8 L212.0,289.8 L214.5,287.9 L217.0,285.9 L219.5,282.8 L222.0,277.0 L224.5,273.6 L227.0,271.6" stroke-opacity="0.58" stroke-width="0.5" stroke-dasharray="6 1"/><path d="M84.5,229.8 L87.0,233.0 L89.5,236.2 L92.0,239.1 L94.5,241.8 L97.0,244.4 L99.5,246.9" stroke-opacity="0.33" stroke-width="0.4" stroke-dasharray="9 1"/><path d="M127.0,184.0 L129.5,187.4 L132.0,190.7 L134.5,193.9 L137.0,197.1 L139.5,200.1 L142.0,203.0 L144.5,205.7 L147.0,208.3 L149.5,210.9 L152.0,213.5 L154.5,216.1 L157.0,218.6 L159.5,221.2 L162.0,223.7 L164.5,226.2 L167.0,228.6 L169.5,230.9" stroke-opacity="0.55" stroke-width="0.4"/><path d="M102.0,159.0 L104.5,162.3 L107.0,165.4 L109.5,168.5 L112.0,171.4 L114.5,174.3 L117.0,177.1 L119.5,179.9 L122.0,182.6 L124.5,185.4 L127.0,188.2" stroke-opacity="0.55" stroke-width="0.4" stroke-dasharray="9 1"/><path d="M79.5,177.1 L82.0,181.6 L84.5,185.9 L87.0,190.0 L89.5,194.1 L92.0,198.0 L94.5,201.9 L97.0,205.5 L99.5,209.1 L102.0,212.5 L104.5,215.8 L107.0,219.0 L109.5,221.9 L112.0,224.7 L114.5,227.5 L117.0,230.1 L119.5,232.6 L122.0,235.1" stroke-opacity="0.49" stroke-width="0.3"/><path d="M67.0,170.0 L69.5,174.9 L72.0,179.6 L74.5,184.3 L77.0,188.7 L79.5,192.9 L82.0,196.7 L84.5,200.3 L87.0,203.7 L89.5,207.1 L92.0,210.4 L94.5,213.5 L97.0,216.5 L99.5,219.3 L102.0,222.1 L104.5,224.7 L107.0,227.3 L109.5,229.6" stroke-opacity="0.32" stroke-width="0.3" stroke-dasharray="2 1"/><path d="M174.5,220.3 L177.0,222.6 L179.5,225.0 L182.0,227.4 L184.5,229.9" stroke-opacity="0.50" stroke-width="0.5" stroke-dasharray="8 2"/><path d="M114.5,211.8 L117.0,214.4 L119.5,217.0 L122.0,219.6 L124.5,222.1 L127.0,224.5 L129.5,227.0 L132.0,229.4 L134.5,231.7" stroke-opacity="0.59" stroke-width="0.3" stroke-dasharray="2 1"/><path d="M144.5,295.2 L147.0,295.7 L149.5,296.3 L152.0,296.9 L154.5,297.4 L157.0,298.0 L159.5,298.5 L162.0,298.9 L164.5,299.3 L167.0,299.6 L169.5,299.6 L172.0,299.3 L174.5,298.9 L177.0,297.9 L179.5,296.7" stroke-opacity="0.24" stroke-width="0.3"/><path d="M64.5,192.8 L67.0,198.0 L69.5,203.1 L72.0,208.0 L74.5,212.8 L77.0,217.4 L79.5,221.8 L82.0,225.8 L84.5,229.7 L87.0,233.5 L89.5,237.2" stroke-opacity="0.59" stroke-width="0.5" stroke-dasharray="5 3"/><path d="M139.5,247.0 L142.0,248.8 L144.5,250.4 L147.0,251.9 L149.5,253.5" stroke-opacity="0.41" stroke-width="0.6"/><path d="M194.5,311.5 L197.0,312.1 L199.5,312.7 L202.0,313.1 L204.5,313.3 L207.0,313.2 L209.5,312.8 L212.0,312.4 L214.5,309.2 L217.0,306.1 L219.5,301.6 L222.0,293.3 L224.5,288.7 L227.0,285.9 L229.5,284.8 L232.0,283.9 L234.5,284.9" stroke-opacity="0.29" stroke-width="0.3"/><path d="M214.5,295.2 L217.0,292.8 L219.5,289.1 L222.0,282.4 L224.5,278.5 L227.0,276.2 L229.5,275.4" stroke-opacity="0.40" stroke-width="0.4" stroke-dasharray="7 2"/><path d="M159.5,314.0 L162.0,314.1 L164.5,314.2 L167.0,314.1 L169.5,313.7 L172.0,313.1 L174.5,312.2 L177.0,310.6 L179.5,308.8 L182.0,307.6 L184.5,307.3 L187.0,307.2" stroke-opacity="0.31" stroke-width="0.4" stroke-dasharray="6 2"/><path d="M112.0,237.5 L114.5,239.6 L117.0,241.7 L119.5,243.7 L122.0,245.6 L124.5,247.5" stroke-opacity="0.35" stroke-width="0.4" stroke-dasharray="4 3"/><path d="M207.0,307.5 L209.5,307.2 L212.0,306.8 L214.5,303.8 L217.0,300.9 L219.5,296.8 L222.0,289.1 L224.5,284.7" stroke-opacity="0.48" stroke-width="0.6"/><path d="M59.5,85.9 L62.0,90.5 L64.5,95.9 L67.0,102.0 L69.5,108.2 L72.0,114.2 L74.5,120.1 L77.0,125.9 L79.5,131.2 L82.0,135.9 L84.5,140.3 L87.0,144.5 L89.5,148.7" stroke-opacity="0.51" stroke-width="0.6" stroke-dasharray="7 3"/><path d="M99.5,190.0 L102.0,193.3 L104.5,196.4 L107.0,199.5 L109.5,202.3 L112.0,205.1 L114.5,207.7 L117.0,210.3 L119.5,212.8 L122.0,215.3 L124.5,217.7 L127.0,220.2 L129.5,222.6" stroke-opacity="0.20" stroke-width="0.6"/><path d="M219.5,276.0 L222.0,271.2 L224.5,268.4 L227.0,266.7 L229.5,266.4 L232.0,266.7 L234.5,268.1" stroke-opacity="0.53" stroke-width="0.6"/><path d="M217.0,273.3 L219.5,271.0 L222.0,266.8 L224.5,264.2 L227.0,262.6 L229.5,262.4 L232.0,262.8 L234.5,264.2" stroke-opacity="0.45" stroke-width="0.5" stroke-dasharray="5 3"/><path d="M192.0,248.6 L194.5,250.2 L197.0,251.8 L199.5,253.4 L202.0,255.1 L204.5,256.7 L207.0,258.2 L209.5,259.3 L212.0,260.2 L214.5,260.1 L217.0,259.9 L219.5,258.7 L222.0,256.2 L224.5,254.6 L227.0,253.6 L229.5,253.9 L232.0,254.9" stroke-opacity="0.49" stroke-width="0.5" stroke-dasharray="5 1"/><path d="M107.0,292.4 L109.5,294.2 L112.0,295.8 L114.5,297.3 L117.0,298.7 L119.5,300.0 L122.0,301.2" stroke-opacity="0.41" stroke-width="0.6" stroke-dasharray="4 1"/><path d="M157.0,223.4 L159.5,225.6 L162.0,227.8 L164.5,229.9 L167.0,232.0 L169.5,234.0 L172.0,235.9 L174.5,237.8 L177.0,239.5 L179.5,241.2 L182.0,243.0 L184.5,245.0 L187.0,247.0 L189.5,248.9 L192.0,250.6 L194.5,252.2 L197.0,253.9" stroke-opacity="0.54" stroke-width="0.5"/><path d="M197.0,280.9 L199.5,281.9 L202.0,282.9 L204.5,283.7 L207.0,284.3 L209.5,284.7 L212.0,284.8 L214.5,283.2 L217.0,281.5 L219.5,278.7" stroke-opacity="0.25" stroke-width="0.4" stroke-dasharray="3 2"/><path d="M137.0,273.2 L139.5,274.6 L142.0,275.9 L144.5,277.1 L147.0,278.2 L149.5,279.3 L152.0,280.5 L154.5,281.5 L157.0,282.6 L159.5,283.6 L162.0,284.6" stroke-opacity="0.46" stroke-width="0.4" stroke-dasharray="9 3"/><path d="M172.0,302.6 L174.5,302.1 L177.0,301.0 L179.5,299.6 L182.0,298.8 L184.5,298.8" stroke-opacity="0.50" stroke-width="0.4"/><path d="M84.5,214.1 L87.0,217.5 L89.5,220.9 L92.0,224.1 L94.5,227.1 L97.0,230.0 L99.5,232.8 L102.0,235.5 L104.5,238.1" stroke-opacity="0.41" stroke-width="0.6" stroke-dasharray="5 1"/><path d="M74.5,155.2 L77.0,159.7 L79.5,163.7 L82.0,167.3 L84.5,170.7 L87.0,173.9 L89.5,177.1 L92.0,180.2 L94.5,183.2 L97.0,186.2 L99.5,189.1 L102.0,191.8 L104.5,194.4 L107.0,196.9 L109.5,199.2" stroke-opacity="0.42" stroke-width="0.6" stroke-dasharray="6 2"/><path d="M194.5,301.4 L197.0,302.1 L199.5,302.8 L202.0,303.3 L204.5,303.7 L207.0,303.7 L209.5,303.5" stroke-opacity="0.25" stroke-width="0.6" stroke-dasharray="7 1"/><path d="M49.5,85.9 L52.0,91.0 L54.5,95.6 L57.0,99.8 L59.5,103.8 L62.0,107.9 L64.5,112.8 L67.0,118.3 L69.5,123.8 L72.0,129.2 L74.5,134.5 L77.0,139.7 L79.5,144.4 L82.0,148.7 L84.5,152.6 L87.0,156.3" stroke-opacity="0.32" stroke-width="0.4"/><path d="M112.0,175.2 L114.5,178.1 L117.0,180.9 L119.5,183.7 L122.0,186.5 L124.5,189.3 L127.0,192.1 L129.5,194.8 L132.0,197.6 L134.5,200.3 L137.0,202.9 L139.5,205.4 L142.0,207.8" stroke-opacity="0.25" stroke-width="0.5"/><path d="M54.5,71.7 L57.0,75.9 L59.5,80.2 L62.0,84.8 L64.5,90.1 L67.0,96.2 L69.5,102.4" stroke-opacity="0.33" stroke-width="0.3"/><path d="M132.0,257.9 L134.5,259.5 L137.0,261.1 L139.5,262.5 L142.0,263.8 L144.5,265.0 L147.0,266.2 L149.5,267.3 L152.0,268.4 L154.5,269.6 L157.0,270.7 L159.5,271.8 L162.0,272.8 L164.5,273.8 L167.0,274.8 L169.5,275.5 L172.0,276.1 L174.5,276.5" stroke-opacity="0.46" stroke-width="0.6" stroke-dasharray="9 2"/><path d="M219.5,265.0 L222.0,261.7 L224.5,259.6 L227.0,258.4 L229.5,258.5 L232.0,259.2" stroke-opacity="0.56" stroke-width="0.5" stroke-dasharray="2 3"/><path d="M139.5,268.8 L142.0,269.7 L144.5,270.5 L147.0,271.3 L149.5,272.0 L152.0,272.8 L154.5,273.6 L157.0,274.4 L159.5,275.1 L162.0,275.9 L164.5,276.6 L167.0,277.2 L169.5,277.6 L172.0,277.9 L174.5,278.0 L177.0,277.8 L179.5,277.3 L182.0,277.3" stroke-opacity="0.47" stroke-width="0.5"/><path d="M82.0,134.9 L84.5,138.6 L87.0,142.1 L89.5,145.7 L92.0,149.2" stroke-opacity="0.43" stroke-width="0.3" stroke-dasharray="5 3"/><path d="M79.5,197.3 L82.0,201.6 L84.5,205.6 L87.0,209.5 L89.5,213.3 L92.0,217.0 L94.5,220.5 L97.0,223.8 L99.5,227.0" stroke-opacity="0.39" stroke-width="0.3"/><path d="M219.5,279.6 L222.0,274.3 L224.5,271.2 L227.0,269.3 L229.5,268.9 L232.0,269.0 L234.5,270.3" stroke-opacity="0.22" stroke-width="0.5" stroke-dasharray="5 3"/><path d="M139.5,179.4 L142.0,182.2 L144.5,184.8 L147.0,187.4 L149.5,189.9 L152.0,192.5 L154.5,195.0 L157.0,197.6 L159.5,200.2 L162.0,202.8 L164.5,205.4 L167.0,208.0" stroke-opacity="0.30" stroke-width="0.4" stroke-dasharray="6 3"/><path d="M164.5,284.7 L167.0,285.6 L169.5,286.2 L172.0,286.6 L174.5,286.9 L177.0,286.6 L179.5,286.1 L182.0,286.0" stroke-opacity="0.32" stroke-width="0.6"/><path d="M79.5,118.6 L82.0,122.9 L84.5,126.9 L87.0,130.7" stroke-opacity="0.28" stroke-width="0.5"/><path d="M69.5,139.4 L72.0,145.0 L74.5,150.5 L77.0,155.9 L79.5,160.9 L82.0,165.3 L84.5,169.5 L87.0,173.6 L89.5,177.6 L92.0,181.5 L94.5,185.3 L97.0,189.0 L99.5,192.6 L102.0,196.0 L104.5,199.3 L107.0,202.5 L109.5,205.5 L112.0,208.4" stroke-opacity="0.52" stroke-width="0.4"/><path d="M99.5,191.1 L102.0,193.8 L104.5,196.4 L107.0,198.9 L109.5,201.2 L112.0,203.4 L114.5,205.5 L117.0,207.6 L119.5,209.6 L122.0,211.7 L124.5,213.7 L127.0,215.7" stroke-opacity="0.23" stroke-width="0.6"/><path d="M122.0,288.2 L124.5,289.0 L127.0,289.7 L129.5,290.5 L132.0,291.2 L134.5,291.8 L137.0,292.4" stroke-opacity="0.48" stroke-width="0.6" stroke-dasharray="9 2"/><path d="M199.5,248.5 L202.0,250.4 L204.5,252.3 L207.0,253.9" stroke-opacity="0.27" stroke-width="0.6" stroke-dasharray="4 1"/><path d="M47.0,64.7 L49.5,69.1 L52.0,73.8 L54.5,78.2 L57.0,82.4 L59.5,86.6 L62.0,90.9 L64.5,96.1 L67.0,102.0 L69.5,108.0 L72.0,113.7 L74.5,119.5 L77.0,125.1 L79.5,130.1 L82.0,134.7" stroke-opacity="0.42" stroke-width="0.6" stroke-dasharray="6 1"/><path d="M182.0,254.6 L184.5,256.0 L187.0,257.5 L189.5,258.9 L192.0,260.1 L194.5,261.4 L197.0,262.7 L199.5,264.0 L202.0,265.4 L204.5,266.7 L207.0,267.7 L209.5,268.5 L212.0,269.1 L214.5,268.4 L217.0,267.6" stroke-opacity="0.28" stroke-width="0.3" stroke-dasharray="3 1"/><path d="M89.5,216.1 L92.0,219.6 L94.5,222.8 L97.0,225.9 L99.5,228.9 L102.0,231.8 L104.5,234.6 L107.0,237.3 L109.5,239.7 L112.0,242.1 L114.5,244.3 L117.0,246.4 L119.5,248.4 L122.0,250.4 L124.5,252.4 L127.0,254.2 L129.5,256.1 L132.0,257.9" stroke-opacity="0.38" stroke-width="0.4"/><path d="M72.0,88.8 L74.5,94.5 L77.0,100.0 L79.5,104.9 L82.0,109.2 L84.5,113.2 L87.0,116.9 L89.5,120.7 L92.0,124.5 L94.5,128.4 L97.0,132.2" stroke-opacity="0.32" stroke-width="0.4" stroke-dasharray="7 3"/><path d="M44.5,195.9 L47.0,204.4 L49.5,213.1 L52.0,222.0 L54.5,228.8 L57.0,233.9 L59.5,237.7 L62.0,240.7 L64.5,243.9 L67.0,247.4 L69.5,250.8 L72.0,254.0 L74.5,257.0 L77.0,260.0 L79.5,262.8 L82.0,265.5 L84.5,268.1 L87.0,270.6 L89.5,273.0 L92.0,275.1 L94.5,277.0 L97.0,278.7 L99.5,280.3 L102.0,281.9 L104.5,283.4 L107.0,284.8 L109.5,286.0 L112.0,287.0 L114.5,288.0 L117.0,288.8 L119.5,289.6 L122.0,290.3 L124.5,291.0 L127.0,291.6" stroke-opacity="0.85" stroke-width="0.7"/><path d="M44.5,192.8 L47.0,201.2 L49.5,209.8 L52.0,218.5 L54.5,225.3 L57.0,230.4 L59.5,234.2 L62.0,237.2 L64.5,240.5 L67.0,244.2 L69.5,247.8 L72.0,251.1 L74.5,254.3 L77.0,257.4 L79.5,260.3 L82.0,263.2 L84.5,265.9 L87.0,268.6 L89.5,271.1 L92.0,273.3 L94.5,275.3 L97.0,277.2 L99.5,278.9 L102.0,280.6 L104.5,282.3 L107.0,283.8 L109.5,285.1 L112.0,286.3 L114.5,287.3 L117.0,288.3 L119.5,289.1 L122.0,290.0 L124.5,290.7 L127.0,291.4" stroke-opacity="0.7" stroke-width="0.6"/><path d="M44.5,189.7 L47.0,198.0 L49.5,206.4 L52.0,215.1 L54.5,221.8 L57.0,226.8 L59.5,230.6 L62.0,233.6 L64.5,237.1 L67.0,241.0 L69.5,244.7 L72.0,248.2 L74.5,251.6 L77.0,254.8 L79.5,257.9 L82.0,260.9 L84.5,263.8 L87.0,266.6 L89.5,269.2 L92.0,271.6 L94.5,273.7 L97.0,275.7 L99.5,277.5 L102.0,279.4 L104.5,281.1 L107.0,282.8 L109.5,284.2 L112.0,285.5 L114.5,286.6 L117.0,287.7 L119.5,288.7 L122.0,289.6 L124.5,290.5 L127.0,291.3" stroke-opacity="0.75" stroke-width="0.6"/><path d="M44.5,185.9 L47.0,194.0 L49.5,202.4 L52.0,210.8 L54.5,217.5 L57.0,222.5 L59.5,226.2 L62.0,229.3 L64.5,233.0 L67.0,237.0 L69.5,241.0 L72.0,244.7 L74.5,248.3 L77.0,251.7 L79.5,255.0 L82.0,258.1 L84.5,261.1 L87.0,264.1 L89.5,266.9 L92.0,269.4 L94.5,271.7 L97.0,273.8 L99.5,275.9 L102.0,277.8 L104.5,279.8 L107.0,281.5 L109.5,283.1 L112.0,284.5 L114.5,285.8 L117.0,287.0 L119.5,288.1 L122.0,289.1 L124.5,290.1 L127.0,291.0" stroke-opacity="0.5" stroke-width="0.5"/><path d="M44.5,181.5 L47.0,189.5 L49.5,197.7 L52.0,206.1 L54.5,212.6 L57.0,217.5 L59.5,221.3 L62.0,224.3 L64.5,228.3 L67.0,232.5 L69.5,236.7 L72.0,240.7 L74.5,244.5 L77.0,248.1 L79.5,251.6 L82.0,255.0 L84.5,258.2 L87.0,261.3 L89.5,264.3 L92.0,267.0 L94.5,269.4 L97.0,271.8 L99.5,274.0 L102.0,276.1 L104.5,278.2 L107.0,280.1 L109.5,281.9 L112.0,283.4 L114.5,284.8 L117.0,286.2 L119.5,287.4 L122.0,288.6 L124.5,289.8 L127.0,290.8" stroke-opacity="0.5" stroke-width="0.5"/><path d="M146.0,243.5 L148.0,244.5 L150.0,245.5 L152.0,246.5 L154.0,247.6 L156.0,248.6 L158.0,249.7 L160.0,250.7 L162.0,251.7 L164.0,252.7 L166.0,253.7 L168.0,254.6 L170.0,255.5 L172.0,256.2 L174.0,257.0 L176.0,257.5 L178.0,257.9 L180.0,258.4 L182.0,259.1 L184.0,260.1 L186.0,261.1 L188.0,262.1 L190.0,263.1 L192.0,264.0 L194.0,264.9 L196.0,265.8 L198.0,266.8 L200.0,267.8 L202.0,268.8 L204.0,269.7 L206.0,270.6 L208.0,271.2 L210.0,271.7 L212.0,272.0 L214.0,271.3 L216.0,270.5 L218.0,269.5 L220.0,267.3 L222.0,264.3 L224.0,262.3 L226.0,260.9 L228.0,260.3 L230.0,260.5" stroke-opacity="0.84" stroke-width="0.7"/><path d="M144.0,238.3 L146.0,239.3 L148.0,240.3 L150.0,241.4 L152.0,242.4 L154.0,243.5 L156.0,244.6 L158.0,245.6 L160.0,246.7 L162.0,247.8 L164.0,248.8 L166.0,249.8 L168.0,250.8 L170.0,251.7 L172.0,252.5 L174.0,253.4 L176.0,254.0 L178.0,254.5 L180.0,255.1 L182.0,255.9 L184.0,256.9 L186.0,258.0 L188.0,259.1 L190.0,260.1 L192.0,261.0 L194.0,262.0 L196.0,263.0 L198.0,264.0 L200.0,265.0 L202.0,266.0 L204.0,267.0 L206.0,267.8 L208.0,268.5 L210.0,269.1 L212.0,269.4 L214.0,268.9 L216.0,268.2 L218.0,267.3 L220.0,265.2 L222.0,262.4 L224.0,260.6 L226.0,259.2 L228.0,258.7" stroke-opacity="0.99" stroke-width="0.7"/><path d="M170.0,251.8 L172.0,252.7 L174.0,253.5 L176.0,254.2 L178.0,254.7 L180.0,255.3 L182.0,256.1 L184.0,257.2 L186.0,258.3 L188.0,259.4 L190.0,260.4 L192.0,261.3 L194.0,262.3 L196.0,263.3 L198.0,264.3 L200.0,265.3 L202.0,266.3 L204.0,267.3 L206.0,268.2 L208.0,268.9 L210.0,269.4 L212.0,269.8 L214.0,269.3 L216.0,268.6 L218.0,267.6 L220.0,265.6 L222.0,262.7 L224.0,260.9 L226.0,259.5" stroke-opacity="0.89" stroke-width="0.6"/><path d="M150.0,238.6 L152.0,239.7 L154.0,240.9 L156.0,242.1 L158.0,243.2 L160.0,244.4 L162.0,245.5 L164.0,246.7 L166.0,247.8 L168.0,248.8 L170.0,249.8 L172.0,250.7 L174.0,251.6 L176.0,252.4 L178.0,253.0 L180.0,253.7 L182.0,254.5 L184.0,255.7 L186.0,256.8 L188.0,257.9 L190.0,259.0 L192.0,260.0 L194.0,261.0 L196.0,262.0 L198.0,263.0 L200.0,264.1 L202.0,265.1 L204.0,266.2 L206.0,267.1 L208.0,267.8 L210.0,268.4 L212.0,268.8 L214.0,268.3 L216.0,267.6 L218.0,266.8 L220.0,264.8 L222.0,262.0 L224.0,260.2" stroke-opacity="0.79" stroke-width="0.6"/><path d="M142.0,230.3 L144.0,231.5 L146.0,232.7 L148.0,233.8 L150.0,235.0 L152.0,236.1 L154.0,237.3 L156.0,238.5 L158.0,239.7 L160.0,240.9 L162.0,242.1 L164.0,243.2 L166.0,244.4 L168.0,245.5 L170.0,246.5 L172.0,247.5 L174.0,248.4 L176.0,249.2 L178.0,250.0 L180.0,250.7 L182.0,251.7 L184.0,252.9 L186.0,254.1 L188.0,255.3 L190.0,256.4 L192.0,257.4 L194.0,258.4 L196.0,259.4 L198.0,260.5 L200.0,261.6 L202.0,262.7 L204.0,263.7 L206.0,264.7 L208.0,265.5 L210.0,266.0 L212.0,266.5 L214.0,266.1 L216.0,265.5 L218.0,264.8 L220.0,262.9 L222.0,260.4 L224.0,258.7" stroke-opacity="0.98" stroke-width="0.8"/><path d="M160.0,239.0 L162.0,240.2 L164.0,241.5 L166.0,242.7 L168.0,243.8 L170.0,244.9 L172.0,246.0 L174.0,247.0 L176.0,247.9 L178.0,248.7 L180.0,249.5 L182.0,250.5 L184.0,251.8 L186.0,253.0 L188.0,254.2 L190.0,255.4 L192.0,256.4 L194.0,257.5 L196.0,258.6 L198.0,259.7 L200.0,260.8 L202.0,261.9 L204.0,263.0 L206.0,264.0 L208.0,264.8 L210.0,265.4 L212.0,265.9 L214.0,265.5 L216.0,265.0 L218.0,264.3 L220.0,262.5 L222.0,260.0 L224.0,258.3 L226.0,257.1 L228.0,256.7 L230.0,257.0 L232.0,257.6 L234.0,258.8" stroke-opacity="0.72" stroke-width="0.7"/><path d="M134.0,218.9 L136.0,220.5 L138.0,222.0 L140.0,223.4 L142.0,224.8 L144.0,226.1 L146.0,227.4 L148.0,228.6 L150.0,229.9 L152.0,231.1 L154.0,232.4 L156.0,233.7 L158.0,234.9 L160.0,236.2 L162.0,237.5 L164.0,238.8 L166.0,240.0 L168.0,241.3 L170.0,242.4 L172.0,243.5 L174.0,244.6 L176.0,245.5 L178.0,246.4 L180.0,247.3 L182.0,248.4 L184.0,249.7 L186.0,251.0 L188.0,252.2 L190.0,253.4 L192.0,254.5 L194.0,255.6 L196.0,256.7 L198.0,257.8 L200.0,258.9 L202.0,260.1 L204.0,261.2 L206.0,262.2 L208.0,263.1 L210.0,263.7 L212.0,264.2 L214.0,263.9 L216.0,263.5 L218.0,262.9 L220.0,261.2 L222.0,258.8 L224.0,257.2 L226.0,256.1 L228.0,255.6 L230.0,256.0 L232.0,256.7" stroke-opacity="0.70" stroke-width="0.7"/><path d="M144.0,221.5 L146.0,222.8 L148.0,224.1 L150.0,225.4 L152.0,226.7 L154.0,228.0 L156.0,229.4 L158.0,230.7 L160.0,232.0 L162.0,233.4 L164.0,234.7 L166.0,236.0 L168.0,237.3 L170.0,238.6 L172.0,239.7 L174.0,240.9 L176.0,242.0 L178.0,243.0 L180.0,244.0 L182.0,245.2 L184.0,246.6 L186.0,248.0 L188.0,249.3 L190.0,250.5 L192.0,251.7 L194.0,252.8 L196.0,253.9 L198.0,255.0 L200.0,256.2 L202.0,257.4 L204.0,258.6 L206.0,259.7 L208.0,260.6 L210.0,261.3 L212.0,261.8 L214.0,261.7 L216.0,261.3 L218.0,260.8 L220.0,259.3 L222.0,257.1 L224.0,255.6 L226.0,254.6" stroke-opacity="0.97" stroke-width="0.6"/><path d="M152.0,224.7 L154.0,226.1 L156.0,227.4 L158.0,228.8 L160.0,230.2 L162.0,231.6 L164.0,232.9 L166.0,234.3 L168.0,235.6 L170.0,236.8 L172.0,238.1 L174.0,239.3 L176.0,240.4 L178.0,241.4 L180.0,242.5 L182.0,243.8 L184.0,245.2 L186.0,246.6 L188.0,248.0 L190.0,249.2 L192.0,250.4 L194.0,251.5 L196.0,252.7 L198.0,253.8 L200.0,255.0 L202.0,256.2 L204.0,257.4 L206.0,258.5 L208.0,259.5 L210.0,260.2 L212.0,260.8 L214.0,260.6 L216.0,260.4 L218.0,259.8 L220.0,258.4 L222.0,256.3 L224.0,254.9 L226.0,253.9 L228.0,253.5 L230.0,254.0 L232.0,254.7" stroke-opacity="0.98" stroke-width="0.9"/><path d="M158.0,228.4 L160.0,229.9 L162.0,231.3 L164.0,232.7 L166.0,234.1 L168.0,235.5 L170.0,236.8 L172.0,238.1 L174.0,239.3 L176.0,240.5 L178.0,241.6 L180.0,242.7 L182.0,244.0 L184.0,245.4 L186.0,246.9 L188.0,248.2 L190.0,249.5 L192.0,250.7 L194.0,251.9 L196.0,253.1 L198.0,254.2 L200.0,255.4 L202.0,256.7 L204.0,257.9 L206.0,259.0 L208.0,260.0 L210.0,260.7 L212.0,261.3 L214.0,261.2 L216.0,260.9 L218.0,260.4 L220.0,258.9 L222.0,256.8 L224.0,255.4 L226.0,254.3 L228.0,254.0" stroke-opacity="0.74" stroke-width="0.9"/><path d="M148.0,217.9 L150.0,219.3 L152.0,220.8 L154.0,222.2 L156.0,223.7 L158.0,225.1 L160.0,226.6 L162.0,228.0 L164.0,229.5 L166.0,230.9 L168.0,232.3 L170.0,233.7 L172.0,235.0 L174.0,236.3 L176.0,237.5 L178.0,238.7 L180.0,239.9 L182.0,241.3 L184.0,242.8 L186.0,244.3 L188.0,245.7 L190.0,247.0 L192.0,248.3 L194.0,249.4 L196.0,250.6 L198.0,251.8 L200.0,253.1 L202.0,254.3 L204.0,255.6 L206.0,256.8 L208.0,257.7 L210.0,258.5 L212.0,259.1 L214.0,259.1 L216.0,258.9 L218.0,258.5 L220.0,257.1 L222.0,255.2" stroke-opacity="0.67" stroke-width="0.8"/><path d="M140.0,209.5 L142.0,211.2 L144.0,212.7 L146.0,214.2 L148.0,215.7 L150.0,217.1 L152.0,218.6 L154.0,220.1 L156.0,221.6 L158.0,223.1 L160.0,224.6 L162.0,226.2 L164.0,227.7 L166.0,229.2 L168.0,230.6 L170.0,232.1 L172.0,233.4 L174.0,234.8 L176.0,236.1 L178.0,237.3 L180.0,238.6 L182.0,240.0 L184.0,241.6 L186.0,243.1 L188.0,244.6 L190.0,246.0 L192.0,247.2 L194.0,248.5 L196.0,249.7 L198.0,250.9 L200.0,252.2 L202.0,253.5 L204.0,254.8 L206.0,256.0 L208.0,257.0 L210.0,257.8 L212.0,258.4 L214.0,258.4 L216.0,258.3 L218.0,257.9 L220.0,256.6 L222.0,254.7 L224.0,253.5 L226.0,252.5" stroke-opacity="0.79" stroke-width="0.6"/><path d="M156.0,219.2 L158.0,220.8 L160.0,222.3 L162.0,223.9 L164.0,225.4 L166.0,227.0 L168.0,228.5 L170.0,230.0 L172.0,231.4 L174.0,232.8 L176.0,234.2 L178.0,235.5 L180.0,236.9 L182.0,238.4 L184.0,240.0 L186.0,241.5 L188.0,243.1 L190.0,244.5 L192.0,245.8 L194.0,247.0 L196.0,248.2 L198.0,249.5 L200.0,250.8 L202.0,252.1 L204.0,253.4 L206.0,254.7 L208.0,255.7 L210.0,256.5 L212.0,257.2 L214.0,257.3 L216.0,257.2 L218.0,256.9 L220.0,255.7 L222.0,253.9 L224.0,252.7" stroke-opacity="0.89" stroke-width="0.8"/><path d="M176.0,231.4 L178.0,232.9 L180.0,234.4 L182.0,236.0 L184.0,237.7 L186.0,239.4 L188.0,241.0 L190.0,242.5 L192.0,243.8 L194.0,245.1 L196.0,246.4 L198.0,247.7 L200.0,249.1 L202.0,250.5 L204.0,251.9 L206.0,253.1 L208.0,254.3 L210.0,255.1 L212.0,255.9 L214.0,256.0 L216.0,256.0 L218.0,255.8 L220.0,254.7 L222.0,253.0 L224.0,251.9" stroke-opacity="0.91" stroke-width="0.7"/><path d="M130.0,189.3 L132.0,191.4 L134.0,193.5 L136.0,195.5 L138.0,197.5 L140.0,199.4 L142.0,201.3 L144.0,203.0 L146.0,204.7 L148.0,206.4 L150.0,208.0 L152.0,209.7 L154.0,211.4 L156.0,213.1 L158.0,214.8 L160.0,216.6 L162.0,218.3 L164.0,220.0 L166.0,221.7 L168.0,223.4 L170.0,225.0 L172.0,226.6 L174.0,228.2 L176.0,229.8 L178.0,231.3 L180.0,232.9 L182.0,234.5 L184.0,236.3 L186.0,238.0 L188.0,239.6 L190.0,241.1 L192.0,242.5 L194.0,243.9 L196.0,245.2 L198.0,246.5 L200.0,247.9 L202.0,249.3 L204.0,250.7 L206.0,252.0 L208.0,253.2 L210.0,254.1 L212.0,254.9 L214.0,255.1 L216.0,255.1 L218.0,254.9 L220.0,253.9 L222.0,252.3" stroke-opacity="0.88" stroke-width="1.0"/></g>
<g fill="none" stroke="#000" stroke-width="0.5" stroke-opacity="0.55"><path d="M276.0,231.0 L277.5,221.2 L279.0,211.1 L280.5,201.5 L282.0,191.1 L283.5,183.1 L285.0,178.8 L286.5,175.8 L288.0,174.0 L289.5,172.6 L291.0,171.7 L292.5,171.7 L294.0,172.3 L295.5,173.4 L297.0,174.7 L298.5,175.8 L300.0,177.3 L301.5,179.0 L303.0,180.6 L304.5,181.7 L306.0,181.9 L307.5,181.9 L309.0,181.9 L310.5,181.9 L312.0,181.9 L313.5,181.9 L315.0,181.9 L316.5,182.3 L318.0,183.0 L319.5,184.0 L321.0,185.0 L322.5,186.1 L324.0,187.5 L325.5,189.2 L327.0,191.1 L328.5,192.9 L330.0,194.6 L331.5,196.1 L333.0,197.6 L334.5,199.2 L336.0,200.5 L337.5,201.5 L339.0,201.9 L340.5,201.0 L342.0,199.0 L343.5,196.5 L345.0,194.2 L346.5,192.8 L348.0,191.6 L349.5,190.5 L351.0,189.5 L352.5,188.4 L354.0,187.0 L355.5,185.5 L357.0,184.3 L358.5,183.6 L360.0,183.2 L361.5,183.0 L363.0,182.8 L364.5,183.0 L366.0,183.9 L367.5,185.2 L369.0,186.5 L370.5,187.8 L372.0,189.3 L373.5,190.9 L375.0,192.4 L376.5,193.8 L378.0,195.2 L379.5,196.6 L381.0,197.7 L382.5,198.2 L384.0,196.9 L385.5,193.0 L387.0,187.7 L388.5,179.8 L390.0,167.8 L391.5,154.8 L393.0,140.0 L394.5,125.6 L396.0,112.3 L397.5,102.8 L399.0,97.1 L400.5,95.7 L402.0,97.2 L403.5,99.8 L405.0,104.5 L406.5,110.1 L408.0,115.0 L409.5,120.0 L411.0,124.7 L412.5,128.7 L414.0,132.3 L415.5,135.6 L417.0,137.3 L418.5,136.7 L420.0,134.5 L421.5,131.6 L423.0,128.2 L424.5,123.6 L426.0,118.7 L427.5,114.1 L429.0,109.6 L430.5,105.1 L432.0,101.4 L433.5,99.0 L435.0,96.8 L436.5,95.1 L438.0,93.9 L439.5,93.7 L441.0,94.2 L442.5,95.0 L444.0,96.1 L445.5,97.4 L447.0,99.3 L448.5,102.2 L450.0,105.5 L451.5,108.7 L453.0,111.5 L454.5,113.9 L456.0,116.2 L457.5,118.4 L459.0,120.5 L460.5,122.6 L462.0,124.9 L463.5,127.1 L465.0,128.9 L466.5,130.3 L468.0,131.2 L469.5,131.9 L471.0,131.2 L472.5,128.2 L474.0,124.6 L475.5,120.1 L477.0,114.2 L478.5,104.9 L480.0,97.1 L481.5,91.0 L483.0,87.8 L484.5,86.5 L486.0,85.5 L487.5,84.3 L489.0,83.1 L490.5,82.3 L492.0,82.5 L493.5,83.6 L495.0,85.1 L496.5,86.3 L498.0,87.2 L499.5,88.2 L501.0,89.1 L502.5,89.8 L504.0,90.2 L505.5,90.1 L507.0,89.5 L508.5,88.6 L510.0,86.0 L511.5,80.3 L513.0,75.0 L514.5,69.6 L516.0,64.0 L517.5,58.5 L519.0,52.7 L520.5,46.8 L522.0,41.4 L523.5,36.8 L525.0,32.4 L526.5,28.8 L528.0,26.4 L529.5,24.8 L531.0,24.7"/><path d="M276.0,258.4 L277.5,254.6 L279.0,249.5 L280.5,241.9 L282.0,226.7 L283.5,218.2 L285.0,213.3 L286.5,210.5 L288.0,208.9 L289.5,208.1 L291.0,208.0 L292.5,208.3 L294.0,208.6 L295.5,209.0 L297.0,209.4 L298.5,210.1 L300.0,211.0 L301.5,211.9 L303.0,212.8 L304.5,213.3 L306.0,213.4 L307.5,213.3 L309.0,213.1 L310.5,212.9 L312.0,212.8 L313.5,212.6 L315.0,212.6 L316.5,213.0 L318.0,213.7 L319.5,214.6 L321.0,215.6 L322.5,216.5 L324.0,217.6 L325.5,218.9 L327.0,220.2 L328.5,221.5 L330.0,222.7 L331.5,223.7 L333.0,224.9 L334.5,226.0 L336.0,227.0 L337.5,227.7 L339.0,228.0 L340.5,227.0 L342.0,224.7 L343.5,221.9 L345.0,219.6 L346.5,218.3 L348.0,217.3 L349.5,216.4 L351.0,215.5 L352.5,214.7 L354.0,213.8 L355.5,212.8 L357.0,212.0 L358.5,211.5 L360.0,211.2 L361.5,210.9 L363.0,210.7 L364.5,210.6 L366.0,210.7 L367.5,211.4 L369.0,212.6 L370.5,213.9 L372.0,215.1 L373.5,216.5 L375.0,217.9 L376.5,219.3 L378.0,220.5 L379.5,221.5 L381.0,222.5 L382.5,223.2 L384.0,223.3 L385.5,222.3 L387.0,220.2 L388.5,217.3 L390.0,210.9 L391.5,201.8 L393.0,188.9 L394.5,176.1 L396.0,171.1 L397.5,163.1 L399.0,154.2 L400.5,146.8 L402.0,146.5 L403.5,147.9 L405.0,150.6 L406.5,155.1 L408.0,159.9 L409.5,163.7 L411.0,166.9 L412.5,169.9 L414.0,172.7 L415.5,175.7 L417.0,178.7 L418.5,179.8 L420.0,178.5 L421.5,176.3 L423.0,174.2 L424.5,171.6 L426.0,168.4 L427.5,163.6 L429.0,158.0 L430.5,153.0 L432.0,149.1 L433.5,145.7 L435.0,142.8 L436.5,140.5 L438.0,138.5 L439.5,136.8 L441.0,136.1 L442.5,136.6 L444.0,137.8 L445.5,139.5 L447.0,141.3 L448.5,143.2 L450.0,145.6 L451.5,148.3 L453.0,151.0 L454.5,153.4 L456.0,155.6 L457.5,157.7 L459.0,159.6 L460.5,161.4 L462.0,162.8 L463.5,164.1 L465.0,165.3 L466.5,166.3 L468.0,167.0 L469.5,167.0 L471.0,166.1 L472.5,164.5 L474.0,161.1 L475.5,155.2 L477.0,149.2 L478.5,142.1 L480.0,135.8 L481.5,132.8 L483.0,131.6 L484.5,130.6 L486.0,129.3 L487.5,128.0 L489.0,126.8 L490.5,126.1 L492.0,126.4 L493.5,127.4 L495.0,128.6 L496.5,129.5 L498.0,130.5 L499.5,131.5 L501.0,132.4 L502.5,133.0 L504.0,133.4 L505.5,133.4 L507.0,133.1 L508.5,132.8 L510.0,131.6 L511.5,128.3 L513.0,124.2 L514.5,120.2 L516.0,115.6 L517.5,110.8 L519.0,106.1 L520.5,101.4 L522.0,96.6 L523.5,92.2 L525.0,88.8 L526.5,86.0 L528.0,83.6 L529.5,81.3 L531.0,79.2"/></g>
<g fill="none" stroke="#fff" stroke-opacity="0.75" stroke-width="0.7"><path d="M284.5,211.7 L286.0,208.2 L287.5,206.4 L289.0,205.3 L290.5,205.0 L292.0,205.2 L293.5,205.5 L295.0,205.8 L296.5,206.2 L298.0,206.8 L299.5,207.7"/><path d="M284.5,209.9 L286.0,206.4 L287.5,204.6 L289.0,203.5 L290.5,203.2 L292.0,203.4 L293.5,203.7 L295.0,204.0 L296.5,204.4 L298.0,205.0 L299.5,205.9"/></g>
<g fill="none" stroke="#000" stroke-width="0.55"><path d="M506.0,134.7 L507.5,134.5 L509.0,134.2 L510.5,132.4 L512.0,128.8 L513.5,124.7 L515.0,120.7 L516.5,116.1 L518.0,111.3 L519.5,106.8 L521.0,102.1 L522.5,97.4 L524.0,93.4 L525.5,90.4 L527.0,87.8 L528.5,85.5 L530.0,83.4 L531.5,81.5"/><path d="M512.0,130.5 L513.5,126.5 L515.0,122.4 L516.5,117.9 L518.0,113.2 L519.5,108.6 L521.0,104.0 L522.5,99.4 L524.0,95.4 L525.5,92.3 L527.0,89.8 L528.5,87.6 L530.0,85.5 L531.5,83.6"/></g>
<g fill="none" stroke="#fff" stroke-opacity="0.7" stroke-width="0.6"><path d="M480.0,100.4 L481.5,94.3 L483.0,91.1 L484.5,89.8 L486.0,88.8 L487.5,87.6 L489.0,86.4 L490.5,85.6 L492.0,85.8 L493.5,86.9 L495.0,88.4 L496.5,89.6 L498.0,90.5 L499.5,91.5 L501.0,92.4 L502.5,93.1 L504.0,93.5 L505.5,93.4 L507.0,92.8 L508.5,91.9 L510.0,89.3 L511.5,83.6"/><path d="M480.0,132.2 L481.5,129.2 L483.0,128.0 L484.5,127.0 L486.0,125.7 L487.5,124.4 L489.0,123.2 L490.5,122.5 L492.0,122.8 L493.5,123.8 L495.0,125.0 L496.5,125.9 L498.0,126.9 L499.5,127.9 L501.0,128.8 L502.5,129.4 L504.0,129.8 L505.5,129.8 L507.0,129.5 L508.5,129.2 L510.0,128.0 L511.5,124.7"/></g>
<line x1="206.4" y1="251" x2="206.4" y2="294.6" stroke="#fff" stroke-opacity="0.85" stroke-width="0.65"/>
<path d="M44.5,84.5 L45.2,87.2 L46.0,89.8 L46.8,92.2 L47.5,94.5 L48.2,96.7 L49.0,98.6 L49.8,100.5 L50.5,102.5 L51.2,104.5 L52.0,106.3 L52.8,107.8 L53.5,108.9 L54.2,109.5 L55.0,109.2 L55.8,107.8 L56.5,105.7 L57.2,103.3 L58.0,101.0 L58.8,98.7 L59.5,96.3 L60.2,93.6 L61.0,90.8 L61.8,87.9 L62.5,84.7 L63.2,81.2 L64.0,77.5 L64.8,73.7 L65.5,70.0 L66.2,66.5 L67.0,63.4 L67.8,60.7 L68.5,58.2 L69.2,55.8 L70.0,53.7 L70.8,51.7 L71.5,50.0 L72.2,48.4 L73.0,46.7 L73.8,45.3 L74.5,44.1 L75.2,43.5 L76.0,43.4 L76.8,43.5 L77.5,43.7 L78.2,44.0 L79.0,44.3 L79.8,44.6 L80.5,45.0 L81.2,45.5 L82.0,46.1 L82.8,46.8 L83.5,47.6 L84.2,48.7 L85.0,50.2 L85.8,52.1 L86.5,54.2 L87.2,56.6 L88.0,59.0 L88.8,61.5 L89.5,64.0 L90.2,66.9 L91.0,70.0 L91.8,73.3 L92.5,76.6 L93.2,79.6 L94.0,82.4 L94.8,84.7 L95.5,86.5 L96.2,88.1 L97.0,89.7 L97.8,91.6 L98.5,94.1 L99.2,97.5 L100.0,101.6 L100.8,106.2 L101.5,111.0 L102.2,116.0 L103.0,121.2 L103.8,126.9 L104.5,133.0 L105.2,139.7 L106.0,147.3 L106.8,156.7 L107.5,165.9 L108.2,173.2 L109.0,179.3 L109.8,184.9 L110.5,190.1 L111.2,194.9 L112.0,199.4 L112.8,203.6 L113.5,207.7 L114.2,211.7 L115.0,215.5 L115.8,219.1 L116.5,222.6 L117.2,226.0 L118.0,229.1 L118.8,232.0 L119.5,234.7 L120.2,237.2 L121.0,239.6 L121.8,241.8 L122.5,244.0 L123.2,246.0 L124.0,248.0 L124.8,249.9 L125.5,251.7 L126.2,253.5 L127.0,255.2 L127.8,256.9 L128.5,258.5 L129.2,260.0 L130.0,261.6 L130.8,263.1 L131.5,264.6 L132.2,266.1 L133.0,267.6 L133.8,269.0 L134.5,270.4 L135.2,271.7 L136.0,272.8 L136.8,273.9 L137.5,274.7 L138.2,275.5 L139.0,276.3 L139.8,277.0 L140.5,277.7 L141.2,278.3 L142.0,278.9 L142.8,279.5 L143.5,280.1 L144.2,280.6 L145.0,281.0 L145.8,281.5 L146.5,281.9 L147.2,282.3 L148.0,282.6 L148.8,282.9 L149.5,283.2 L150.2,283.5 L151.0,283.8 L151.8,284.0 L152.5,284.3 L153.2,284.5 L154.0,284.7 L154.8,285.0 L155.5,285.2 L156.2,285.4 L157.0,285.5 L157.8,285.7 L158.5,285.9 L159.2,286.0 L160.0,286.2 L160.8,286.4 L161.5,286.5 L162.2,286.6 L163.0,286.8 L163.8,286.9 L164.5,287.1 L165.2,287.2 L166.0,287.4 L166.8,287.5 L167.5,287.6 L168.2,287.8 L169.0,287.9 L169.8,288.0 L170.5,288.0 L171.2,288.1 L172.0,288.2 L172.8,288.2 L173.5,288.2 L174.2,288.2 L175.0,288.0 L175.8,287.8 L176.5,287.6 L177.2,287.2 L178.0,286.9 L178.8,286.6 L179.5,286.3 L180.2,286.0 L181.0,285.7 L181.8,285.6 L182.5,285.5 L183.2,285.5 L184.0,285.6 L184.8,285.7 L185.5,285.8 L186.2,286.0 L187.0,286.2 L187.8,286.4 L188.5,286.6 L189.2,286.9 L190.0,287.1 L190.8,287.3 L191.5,287.5 L192.2,287.7 L193.0,287.9 L193.8,288.2 L194.5,288.4 L195.2,288.7 L196.0,288.9 L196.8,289.2 L197.5,289.5 L198.2,289.7 L199.0,290.0 L199.8,290.2 L200.5,290.5 L201.2,290.7 L202.0,290.9 L202.8,291.0 L203.5,291.1 L204.2,291.2 L205.0,291.3 L205.8,291.3 L206.5,291.2 L207.2,291.1 L208.0,291.0 L208.8,290.8 L209.5,290.5 L210.2,290.3 L211.0,290.0 L211.8,289.7 L212.5,289.2 L213.2,288.6 L214.0,287.9 L214.8,287.1 L215.5,286.3 L216.2,285.5 L217.0,284.7 L217.8,283.9 L218.5,283.0 L219.2,282.0 L220.0,280.9 L220.8,279.7 L221.5,278.4 L222.2,277.1 L223.0,275.9 L223.8,274.8 L224.5,273.7 L225.2,272.9 L226.0,272.3 L226.8,271.9 L227.5,271.8 L228.2,271.8 L229.0,271.8 L229.8,271.8 L230.5,271.8 L231.2,271.8 L232.0,271.8 L232.8,271.8 L233.5,272.0 L234.2,272.3 L235.0,272.9 L235.8,273.6 L236.5,274.3 L237.2,275.1 L238.0,275.9 L238.8,276.5 L239.5,277.1 L240.2,277.4 L241.0,277.7 L241.8,278.0 L242.5,278.3 L243.2,278.6 L244.0,278.8 L244.8,279.1 L245.5,279.3 L246.2,279.6 L247.0,279.8 L247.8,280.0 L248.5,280.2 L249.2,280.4 L250.0,280.5 L250.8,280.7 L251.5,280.8 L252.2,280.9 L253.0,280.9 L253.8,281.0 L254.5,281.0 L255.2,280.9 L256.0,280.7 L256.8,280.3 L257.5,279.9 L258.2,279.3 L259.0,278.8 L259.8,278.2 L260.5,277.6 L261.2,277.0 L262.0,276.2 L262.8,275.4 L263.5,274.6 L264.2,273.7 L265.0,272.7 L265.8,271.6 L266.5,270.5 L267.2,269.3 L268.0,268.1 L268.8,266.8 L269.5,265.4 L270.2,264.0 L271.0,262.5 L271.8,261.0 L272.5,259.4 L273.2,257.8 L274.0,255.9 L274.8,253.8 L275.5,251.5 L276.2,248.9 L277.0,246.1 L277.8,242.9 L278.5,239.1 L279.2,233.6 L280.0,227.4 L280.8,221.3 L281.5,216.1 L282.2,212.3 L283.0,208.9 L283.8,205.8 L284.5,203.2 L285.2,201.4 L286.0,200.3 L286.8,199.4 L287.5,198.6 L288.2,198.0 L289.0,197.5 L289.8,197.3 L290.5,197.3 L291.2,197.3 L292.0,197.3 L292.8,197.3 L293.5,197.3 L294.2,197.3 L295.0,197.3 L295.8,197.5 L296.5,197.8 L297.2,198.1 L298.0,198.6 L298.8,199.1 L299.5,199.6 L300.2,200.2 L301.0,200.7 L301.8,201.2 L302.5,201.7 L303.2,202.1 L304.0,202.4 L304.8,202.6 L305.5,202.7 L306.2,202.7 L307.0,202.7 L307.8,202.7 L308.5,202.7 L309.2,202.7 L310.0,202.7 L310.8,202.7 L311.5,202.7 L312.2,202.7 L313.0,202.7 L313.8,202.7 L314.5,202.7 L315.2,202.8 L316.0,202.9 L316.8,203.2 L317.5,203.6 L318.2,204.0 L319.0,204.5 L319.8,205.0 L320.5,205.5 L321.2,206.0 L322.0,206.5 L322.8,207.1 L323.5,207.7 L324.2,208.4 L325.0,209.1 L325.8,209.8 L326.5,210.6 L327.2,211.3 L328.0,212.1 L328.8,212.8 L329.5,213.4 L330.2,214.0 L331.0,214.5 L331.8,215.0 L332.5,215.4 L333.2,215.9 L334.0,216.4 L334.8,216.8 L335.5,217.2 L336.2,217.6 L337.0,217.8 L337.8,218.1 L338.5,218.2 L339.2,218.2 L340.0,217.9 L340.8,217.2 L341.5,216.4 L342.2,215.4 L343.0,214.4 L343.8,213.5 L344.5,212.7 L345.2,212.0 L346.0,211.4 L346.8,210.7 L347.5,210.1 L348.2,209.5 L349.0,209.0 L349.8,208.5 L350.5,208.0 L351.2,207.6 L352.0,207.1 L352.8,206.6 L353.5,206.2 L354.2,205.8 L355.0,205.5 L355.8,205.1 L356.5,204.9 L357.2,204.7 L358.0,204.5 L358.8,204.4 L359.5,204.4 L360.2,204.3 L361.0,204.2 L361.8,204.2 L362.5,204.1 L363.2,204.1 L364.0,204.0 L364.8,204.0 L365.5,204.0 L366.2,204.1 L367.0,204.4 L367.8,204.8 L368.5,205.4 L369.2,206.0 L370.0,206.7 L370.8,207.3 L371.5,208.0 L372.2,208.6 L373.0,209.2 L373.8,210.0 L374.5,210.8 L375.2,211.6 L376.0,212.4 L376.8,213.2 L377.5,213.9 L378.2,214.5 L379.0,215.0 L379.8,215.4 L380.5,215.7 L381.2,215.9 L382.0,216.1 L382.8,216.2 L383.5,216.3 L384.2,216.4 L385.0,216.2 L385.8,215.0 L386.5,213.1 L387.2,210.7 L388.0,208.0 L388.8,204.9 L389.5,200.5 L390.2,195.2 L391.0,189.5 L391.8,184.0 L392.5,178.5 L393.2,172.8 L394.0,166.5 L394.8,158.9 L395.5,151.5 L396.2,145.4 L397.0,141.1 L397.8,137.3 L398.5,134.6 L399.2,133.3 L400.0,132.6 L400.8,132.2 L401.5,132.4 L402.2,133.4 L403.0,134.8 L403.8,136.5 L404.5,138.2 L405.2,139.9 L406.0,141.8 L406.8,144.0 L407.5,146.2 L408.2,148.5 L409.0,150.6 L409.8,152.7 L410.5,154.5 L411.2,156.0 L412.0,157.4 L412.8,158.9 L413.5,160.2 L414.2,161.5 L415.0,162.5 L415.8,163.2 L416.5,163.6 L417.2,163.9 L418.0,164.1 L418.8,164.2 L419.5,164.1 L420.2,163.5 L421.0,162.4 L421.8,161.1 L422.5,159.6 L423.2,158.0 L424.0,156.4 L424.8,154.3 L425.5,151.7 L426.2,149.0 L427.0,146.1 L427.8,143.2 L428.5,140.6 L429.2,138.3 L430.0,135.9 L430.8,133.6 L431.5,131.3 L432.2,129.2 L433.0,127.3 L433.8,125.7 L434.5,124.5 L435.2,123.5 L436.0,122.6 L436.8,121.7 L437.5,120.9 L438.2,120.2 L439.0,119.7 L439.8,119.3 L440.5,119.0 L441.2,119.0 L442.0,119.2 L442.8,119.5 L443.5,120.0 L444.2,120.6 L445.0,121.3 L445.8,122.0 L446.5,122.8 L447.2,123.5 L448.0,124.4 L448.8,125.4 L449.5,126.6 L450.2,127.9 L451.0,129.2 L451.8,130.6 L452.5,132.0 L453.2,133.4 L454.0,134.7 L454.8,135.9 L455.5,137.1 L456.2,138.3 L457.0,139.5 L457.8,140.7 L458.5,141.8 L459.2,143.0 L460.0,144.1 L460.8,145.1 L461.5,146.0 L462.2,146.9 L463.0,147.9 L463.8,148.9 L464.5,149.9 L465.2,150.8 L466.0,151.6 L466.8,152.2 L467.5,152.6 L468.2,152.7 L469.0,152.6 L469.8,152.4 L470.5,152.1 L471.2,151.6 L472.0,150.4 L472.8,148.4 L473.5,145.9 L474.2,143.2 L475.0,140.6 L475.8,138.3 L476.5,136.1 L477.2,133.8 L478.0,130.7 L478.8,127.0 L479.5,123.0 L480.2,119.2 L481.0,116.3 L481.8,114.6 L482.5,113.9 L483.2,113.3 L484.0,112.9 L484.8,112.6 L485.5,112.3 L486.2,111.9 L487.0,111.4 L487.8,110.8 L488.5,110.2 L489.2,109.7 L490.0,109.2 L490.8,109.0 L491.5,109.1 L492.2,109.5 L493.0,110.1 L493.8,110.9 L494.5,111.8 L495.2,112.6 L496.0,113.3 L496.8,113.8 L497.5,114.3 L498.2,114.8 L499.0,115.3 L499.8,115.8 L500.5,116.3 L501.2,116.7 L502.0,117.0 L502.8,117.3 L503.5,117.5 L504.2,117.6 L505.0,117.6 L505.8,117.5 L506.5,117.4 L507.2,117.3 L508.0,117.1 L508.8,116.7 L509.5,115.7 L510.2,114.2 L511.0,112.5 L511.8,110.6 L512.5,108.7 L513.2,106.8 L514.0,104.7 L514.8,102.4 L515.5,99.9 L516.2,97.3 L517.0,94.5 L517.8,91.7 L518.5,88.8 L519.2,85.5 L520.0,81.8 L520.8,78.1 L521.5,74.6 L522.2,71.5 L523.0,69.1 L523.8,67.2 L524.5,65.5 L525.2,63.9 L526.0,62.2 L526.8,60.7 L527.5,59.6 L528.2,59.0 L529.0,58.7 L529.8,58.5 L530.5,58.3 L531.2,58.2" fill="none" stroke="#c40808" stroke-opacity="0.7" stroke-width="0.75"/>
<circle cx="75.6" cy="43.4" r="1.7" fill="#ff00e6"/>
<path d="M44.5,11.5 V309.5" stroke="#d46464" stroke-width="1"/>
<text class="t" x="42" y="13.9" text-anchor="end">0.894</text>
<text class="t" x="42" y="88.4" text-anchor="end">0.680</text>
<text class="t" x="42" y="162.9" text-anchor="end">0.466</text>
<text class="t" x="42" y="237.4" text-anchor="end">0.252</text>
<text class="t" x="42" y="311.9" text-anchor="end">0.038</text>
<text class="t" x="43.5" y="318.7" text-anchor="middle">400</text>
<text class="t" x="165.1" y="318.7" text-anchor="middle">925</text>
<text class="t" x="287.4" y="318.7" text-anchor="middle">1449</text>
<text class="t" x="408.8" y="318.7" text-anchor="middle">1974</text>
<text class="t" x="531.2" y="318.7" text-anchor="middle">2498</text>
<text class="w" x="286.7" y="324.8" text-anchor="middle">Wavelengths</text>
<text class="yl" transform="translate(15.3,162.8) rotate(-90)" text-anchor="middle">Log (1/R)</text>
<text class="cap" x="275" y="341.2" text-anchor="middle">(c)</text>
<g fill="none"><path d="M6.5,347.4 H542.1" stroke="#2e2e2e" stroke-width="1.5"/><path d="M541.5,346.8 V667.6" stroke="#444" stroke-width="1.3"/><path d="M6.5,666.9 H542.1" stroke="#2e2e2e" stroke-width="1.4"/><path d="M7.2,346.8 V667.6" stroke="#222" stroke-width="1.4"/></g>
<g stroke="#dc7c7c" stroke-width="1.2" fill="none">
<path d="M49.5,352.4 V648.9 H520.8"/>
<path d="M49.5,352.4 h1.2"/>
<path d="M49.5,426.5 h1.2"/>
<path d="M49.5,500.7 h1.2"/>
<path d="M49.5,574.8 h1.2"/>
<path d="M167.2,648.9 v-1.2"/>
<path d="M285,648.9 v-1.2"/>
<path d="M402.7,648.9 v-1.2"/>
<path d="M520.4,648.9 v-1.2"/>
</g>
<path d="M49.5,421.8 L50.2,422.4 L51.0,423.3 L51.8,424.4 L52.5,426.0 L53.2,428.1 L54.0,430.4 L54.8,432.5 L55.5,434.4 L56.2,436.4 L57.0,438.2 L57.8,440.0 L58.5,441.6 L59.2,443.1 L60.0,444.5 L60.8,445.9 L61.5,447.2 L62.2,448.5 L63.0,449.9 L63.8,451.3 L64.5,452.7 L65.2,454.1 L66.0,455.5 L66.8,457.0 L67.5,458.4 L68.2,459.9 L69.0,461.5 L69.8,463.1 L70.5,464.7 L71.2,466.5 L72.0,468.3 L72.8,470.1 L73.5,471.9 L74.2,473.6 L75.0,475.3 L75.8,477.0 L76.5,478.7 L77.2,480.4 L78.0,482.1 L78.8,483.7 L79.5,485.3 L80.2,486.9 L81.0,488.5 L81.8,490.1 L82.5,491.7 L83.2,493.2 L84.0,494.8 L84.8,496.3 L85.5,497.8 L86.2,499.3 L87.0,500.7 L87.8,502.2 L88.5,503.6 L89.2,505.0 L90.0,506.3 L90.8,507.6 L91.5,509.0 L92.2,510.3 L93.0,511.6 L93.8,512.8 L94.5,514.1 L95.2,515.3 L96.0,516.5 L96.8,517.7 L97.5,518.9 L98.2,520.1 L99.0,521.2 L99.8,522.3 L100.5,523.4 L101.2,524.5 L102.0,525.6 L102.8,526.7 L103.5,527.7 L104.2,528.8 L105.0,529.8 L105.8,530.8 L106.5,531.8 L107.2,532.7 L108.0,533.7 L108.8,534.6 L109.5,535.5 L110.2,536.4 L111.0,537.3 L111.8,538.1 L112.5,538.9 L113.2,539.7 L114.0,540.4 L114.8,541.2 L115.5,542.0 L116.2,542.8 L117.0,543.6 L117.8,544.5 L118.5,545.3 L119.2,546.1 L120.0,547.0 L120.8,547.8 L121.5,548.7 L122.2,549.5 L123.0,550.4 L123.8,551.3 L124.5,552.2 L125.2,553.1 L126.0,554.0 L126.8,554.9 L127.5,555.9 L128.2,556.9 L129.0,557.9 L129.8,558.9 L130.5,559.9 L131.2,560.9 L132.0,562.0 L132.8,563.0 L133.5,564.0 L134.2,565.0 L135.0,566.0 L135.8,567.0 L136.5,568.0 L137.2,568.9 L138.0,569.9 L138.8,570.8 L139.5,571.7 L140.2,572.6 L141.0,573.5 L141.8,574.4 L142.5,575.3 L143.2,576.2 L144.0,577.1 L144.8,578.0 L145.5,578.8 L146.2,579.7 L147.0,580.5 L147.8,581.3 L148.5,582.1 L149.2,582.9 L150.0,583.6 L150.8,584.3 L151.5,585.1 L152.2,585.8 L153.0,586.5 L153.8,587.2 L154.5,587.9 L155.2,588.5 L156.0,589.2 L156.8,589.8 L157.5,590.5 L158.2,591.1 L159.0,591.7 L159.8,592.3 L160.5,592.9 L161.2,593.5 L162.0,594.0 L162.8,594.5 L163.5,595.1 L164.2,595.6 L165.0,596.1 L165.8,596.7 L166.5,597.2 L167.2,597.7 L168.0,598.2 L168.8,598.7 L169.5,599.2 L170.2,599.6 L171.0,600.0 L171.8,600.3 L172.5,600.6 L173.2,600.9 L174.0,601.1 L174.8,601.3 L175.5,601.4 L176.2,601.6 L177.0,601.7 L177.8,601.8 L178.5,601.9 L179.2,602.0 L180.0,602.1 L180.8,602.2 L181.5,602.4 L182.2,602.6 L183.0,602.8 L183.8,603.1 L184.5,603.4 L185.2,603.8 L186.0,604.3 L186.8,604.8 L187.5,605.3 L188.2,605.8 L189.0,606.4 L189.8,606.9 L190.5,607.4 L191.2,607.9 L192.0,608.3 L192.8,608.7 L193.5,609.2 L194.2,609.6 L195.0,610.0 L195.8,610.5 L196.5,610.9 L197.2,611.3 L198.0,611.7 L198.8,612.2 L199.5,612.6 L200.2,612.9 L201.0,613.3 L201.8,613.7 L202.5,614.0 L203.2,614.4 L204.0,614.7 L204.8,615.0 L205.5,615.3 L206.2,615.7 L207.0,616.0 L207.8,616.3 L208.5,616.6 L209.2,616.9 L210.0,617.1 L210.8,617.2 L211.5,617.3 L212.2,617.3 L213.0,617.0 L213.8,616.6 L214.5,616.1 L215.2,615.5 L216.0,614.8 L216.8,614.2 L217.5,613.4 L218.2,612.4 L219.0,611.4 L219.8,610.3 L220.5,609.2 L221.2,608.1 L222.0,607.2 L222.8,606.4 L223.5,605.6 L224.2,604.8 L225.0,604.2 L225.8,603.6 L226.5,603.3 L227.2,603.0 L228.0,602.8 L228.8,602.7 L229.5,602.8 L230.2,603.2 L231.0,603.8 L231.8,604.5 L232.5,605.1 L233.2,605.9 L234.0,606.7 L234.8,607.5 L235.5,608.3 L236.2,608.9 L237.0,609.4 L237.8,609.8 L238.5,610.3 L239.2,610.7 L240.0,611.0 L240.8,611.4 L241.5,611.7 L242.2,612.0 L243.0,612.2 L243.8,612.4 L244.5,612.7 L245.2,612.9 L246.0,613.1 L246.8,613.3 L247.5,613.4 L248.2,613.6 L249.0,613.7 L249.8,613.9 L250.5,613.9 L251.2,614.0 L252.0,614.0 L252.8,613.9 L253.5,613.6 L254.2,613.2 L255.0,612.8 L255.8,612.3 L256.5,611.7 L257.2,611.1 L258.0,610.2 L258.8,609.2 L259.5,608.0 L260.2,606.9 L261.0,605.7 L261.8,604.6 L262.5,603.5 L263.2,602.5 L264.0,601.5 L264.8,600.5 L265.5,599.5 L266.2,598.4 L267.0,597.2 L267.8,596.0 L268.5,594.6 L269.2,593.1 L270.0,591.2 L270.8,589.1 L271.5,586.8 L272.2,584.3 L273.0,581.6 L273.8,578.7 L274.5,575.6 L275.2,572.1 L276.0,568.5 L276.8,564.5 L277.5,559.9 L278.2,554.9 L279.0,550.0 L279.8,544.9 L280.5,540.0 L281.2,536.2 L282.0,533.0 L282.8,530.4 L283.5,528.4 L284.2,527.0 L285.0,525.9 L285.8,525.0 L286.5,524.4 L287.2,523.9 L288.0,523.5 L288.8,523.3 L289.5,523.4 L290.2,523.7 L291.0,524.2 L291.8,524.8 L292.5,525.4 L293.2,525.9 L294.0,526.6 L294.8,527.5 L295.5,528.3 L296.2,529.2 L297.0,530.1 L297.8,530.9 L298.5,531.6 L299.2,532.2 L300.0,532.7 L300.8,533.1 L301.5,533.4 L302.2,533.7 L303.0,534.0 L303.8,534.3 L304.5,534.6 L305.2,534.8 L306.0,534.9 L306.8,535.0 L307.5,535.0 L308.2,535.0 L309.0,535.0 L309.8,535.0 L310.5,535.0 L311.2,535.0 L312.0,535.0 L312.8,535.0 L313.5,535.1 L314.2,535.3 L315.0,535.7 L315.8,536.2 L316.5,536.8 L317.2,537.4 L318.0,538.0 L318.8,538.8 L319.5,539.9 L320.2,541.2 L321.0,542.6 L321.8,544.0 L322.5,545.2 L323.2,546.2 L324.0,547.3 L324.8,548.3 L325.5,549.2 L326.2,550.1 L327.0,551.0 L327.8,551.7 L328.5,552.3 L329.2,552.9 L330.0,553.4 L330.8,553.8 L331.5,554.2 L332.2,554.5 L333.0,554.5 L333.8,554.2 L334.5,553.6 L335.2,552.9 L336.0,552.2 L336.8,551.4 L337.5,550.4 L338.2,549.2 L339.0,548.0 L339.8,546.8 L340.5,545.9 L341.2,545.3 L342.0,545.0 L342.8,544.7 L343.5,544.4 L344.2,544.1 L345.0,543.8 L345.8,543.4 L346.5,543.0 L347.2,542.5 L348.0,542.1 L348.8,541.7 L349.5,541.3 L350.2,540.9 L351.0,540.4 L351.8,540.0 L352.5,539.5 L353.2,539.1 L354.0,538.7 L354.8,538.4 L355.5,538.2 L356.2,538.1 L357.0,538.0 L357.8,537.9 L358.5,537.8 L359.2,537.8 L360.0,538.2 L360.8,538.9 L361.5,539.7 L362.2,540.6 L363.0,541.3 L363.8,542.0 L364.5,542.7 L365.2,543.5 L366.0,544.3 L366.8,545.0 L367.5,545.7 L368.2,546.4 L369.0,547.2 L369.8,548.0 L370.5,548.9 L371.2,549.7 L372.0,550.3 L372.8,550.8 L373.5,551.0 L374.2,550.9 L375.0,550.7 L375.8,550.4 L376.5,549.9 L377.2,549.1 L378.0,547.8 L378.8,546.1 L379.5,543.9 L380.2,540.4 L381.0,536.1 L381.8,531.3 L382.5,525.7 L383.2,518.8 L384.0,511.7 L384.8,505.2 L385.5,499.3 L386.2,493.4 L387.0,487.5 L387.8,481.3 L388.5,474.5 L389.2,464.6 L390.0,456.4 L390.8,452.7 L391.5,449.9 L392.2,448.3 L393.0,447.6 L393.8,447.3 L394.5,447.8 L395.2,449.0 L396.0,450.9 L396.8,454.1 L397.5,457.1 L398.2,460.0 L399.0,462.8 L399.8,465.6 L400.5,468.3 L401.2,470.9 L402.0,473.3 L402.8,475.7 L403.5,478.1 L404.2,480.4 L405.0,482.4 L405.8,484.2 L406.5,485.7 L407.2,487.0 L408.0,488.2 L408.8,489.2 L409.5,489.9 L410.2,490.0 L411.0,489.8 L411.8,489.5 L412.5,489.1 L413.2,488.4 L414.0,486.9 L414.8,484.8 L415.5,482.6 L416.2,480.4 L417.0,478.4 L417.8,476.3 L418.5,474.1 L419.2,471.9 L420.0,469.8 L420.8,467.9 L421.5,466.1 L422.2,464.5 L423.0,462.8 L423.8,461.3 L424.5,459.9 L425.2,458.6 L426.0,457.4 L426.8,456.2 L427.5,455.1 L428.2,454.2 L429.0,453.6 L429.8,453.2 L430.5,452.9 L431.2,452.7 L432.0,452.7 L432.8,453.0 L433.5,453.5 L434.2,454.2 L435.0,455.0 L435.8,455.8 L436.5,456.7 L437.2,457.7 L438.0,458.9 L438.8,460.2 L439.5,461.5 L440.2,462.8 L441.0,464.2 L441.8,465.4 L442.5,466.6 L443.2,467.9 L444.0,469.1 L444.8,470.4 L445.5,471.6 L446.2,472.9 L447.0,474.1 L447.8,475.3 L448.5,476.5 L449.2,477.7 L450.0,478.9 L450.8,480.1 L451.5,481.3 L452.2,482.5 L453.0,483.6 L453.8,484.6 L454.5,485.5 L455.2,486.4 L456.0,487.3 L456.8,488.1 L457.5,488.8 L458.2,489.3 L459.0,489.5 L459.8,489.2 L460.5,488.4 L461.2,487.3 L462.0,486.0 L462.8,484.0 L463.5,481.3 L464.2,478.1 L465.0,474.8 L465.8,471.6 L466.5,468.1 L467.2,464.4 L468.0,460.7 L468.8,457.4 L469.5,454.4 L470.2,451.3 L471.0,448.7 L471.8,447.3 L472.5,447.0 L473.2,446.9 L474.0,446.8 L474.8,446.6 L475.5,446.4 L476.2,445.6 L477.0,444.2 L477.8,443.0 L478.5,442.6 L479.2,442.4 L480.0,442.3 L480.8,442.2 L481.5,442.3 L482.2,443.0 L483.0,443.9 L483.8,444.8 L484.5,445.5 L485.2,446.0 L486.0,446.4 L486.8,446.9 L487.5,447.3 L488.2,447.6 L489.0,447.9 L489.8,448.1 L490.5,448.3 L491.2,448.5 L492.0,448.7 L492.8,448.8 L493.5,448.9 L494.2,449.0 L495.0,448.9 L495.8,448.5 L496.5,447.8 L497.2,446.8 L498.0,445.8 L498.8,444.5 L499.5,442.5 L500.2,440.1 L501.0,437.4 L501.8,434.7 L502.5,431.6 L503.2,428.0 L504.0,424.3 L504.8,420.9 L505.5,418.2 L506.2,416.4 L507.0,414.8 L507.8,412.7 L508.5,410.3 L509.2,407.6 L510.0,404.9 L510.8,402.2 L511.5,399.7 L512.2,397.1 L513.0,394.6 L513.8,392.3 L514.5,390.5 L515.2,389.0 L516.0,387.6 L516.8,386.4 L517.5,385.4 L518.2,384.5 L519.0,384.0" fill="none" stroke="#e06e6e" stroke-width="1"/>
<text class="t" x="47.3" y="354.5" text-anchor="end">0.894</text>
<text class="t" x="47.3" y="428.6" text-anchor="end">0.680</text>
<text class="t" x="47.3" y="502.8" text-anchor="end">0.466</text>
<text class="t" x="47.3" y="576.9" text-anchor="end">0.252</text>
<text class="t" x="47.3" y="651.0" text-anchor="end">0.038</text>
<text class="t" x="48.8" y="657.8" text-anchor="middle">400</text>
<text class="t" x="166.5" y="657.8" text-anchor="middle">925</text>
<text class="t" x="284" y="657.8" text-anchor="middle">1449</text>
<text class="t" x="401" y="657.8" text-anchor="middle">1974</text>
<text class="t" x="519" y="657.8" text-anchor="middle">2498</text>
<text class="w" x="283.8" y="665" text-anchor="middle">Wavelengths</text>
<text class="yl" transform="translate(22.3,503) rotate(-90)" text-anchor="middle">Log (1/R)</text>
<text class="cap" x="275" y="681" text-anchor="middle">(d)</text>
<path class="ar" d="M211.8,581.5 L224.0,596.4"/><path class="ah" d="M228.2,601.5 L221.9,598.1 L226.1,594.7Z"/>
<path class="ar" d="M272.7,504.0 L283.2,518.9"/><path class="ah" d="M287.0,524.3 L281.0,520.5 L285.4,517.3Z"/>
<path class="ar" d="M359.0,516.5 L359.0,530.0"/><path class="ah" d="M359.0,536.6 L356.3,530.0 L361.7,530.0Z"/>
<path class="ar" d="M359.0,430.0 L385.1,443.6"/><path class="ah" d="M391.0,446.7 L383.9,446.0 L386.4,441.3Z"/>
<path class="ar" d="M428.7,430.5 L430.8,444.5"/><path class="ah" d="M431.8,451.0 L428.1,444.9 L433.5,444.1Z"/>
<path class="ar" d="M438.5,389.0 L467.7,440.7"/><path class="ah" d="M471.0,446.4 L465.4,442.0 L470.1,439.3Z"/>
<path class="ar" d="M487.5,412.0 L482.5,434.0"/><path class="ah" d="M481.0,440.4 L479.8,433.4 L485.1,434.6Z"/>
<path class="ar" d="M522.7,372.0 L521.0,377.2"/><path class="ah" d="M519.0,383.5 L518.5,376.4 L523.6,378.0Z"/>
<rect class="bx" x="185.1" y="560" width="44.4" height="21.4"/>
<text class="bt" x="207.0" y="576.4" text-anchor="middle" textLength="24.3" lengthAdjust="spacingAndGlyphs">1199</text>
<rect class="bx" x="247.6" y="482.4" width="44.2" height="21.2"/>
<text class="bt" x="269.7" y="498.7" text-anchor="middle" textLength="24.3" lengthAdjust="spacingAndGlyphs">1460</text>
<rect class="bx" x="331.5" y="494.9" width="43.6" height="21.5"/>
<text class="bt" x="353.0" y="511.3" text-anchor="middle" textLength="24.3" lengthAdjust="spacingAndGlyphs">1766</text>
<rect class="bx" x="337.6" y="408.2" width="44.6" height="21.4"/>
<text class="bt" x="358.8" y="424.6" text-anchor="middle" textLength="24.3" lengthAdjust="spacingAndGlyphs">1932</text>
<rect class="bx" x="401.8" y="408.7" width="43.7" height="21.3"/>
<text class="bt" x="423.1" y="425.1" text-anchor="middle" textLength="24.3" lengthAdjust="spacingAndGlyphs">2100</text>
<rect class="bx" x="407.6" y="367.7" width="44.6" height="21.3"/>
<text class="bt" x="428.8" y="384.1" text-anchor="middle" textLength="24.3" lengthAdjust="spacingAndGlyphs">2290</text>
<rect class="bx" x="462.4" y="390.5" width="44.0" height="21.2"/>
<text class="bt" x="483.7" y="406.8" text-anchor="middle" textLength="24.3" lengthAdjust="spacingAndGlyphs">2310</text>
<rect class="bx" x="494.5" y="350.8" width="44.2" height="20.9"/>
<text class="bt" x="516.1" y="366.9" text-anchor="middle" textLength="24.3" lengthAdjust="spacingAndGlyphs">2490</text>
<circle cx="287.3" cy="524.6" r="1.1" fill="#ff30d0"/>
</svg></body></html>
